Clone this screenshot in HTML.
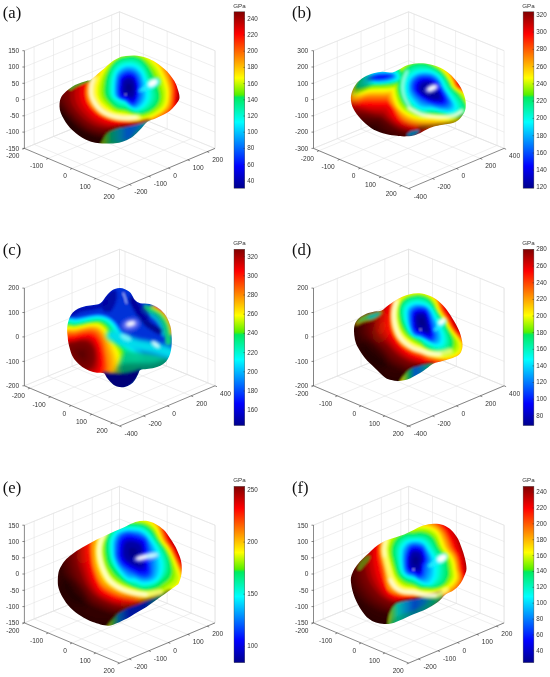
<!DOCTYPE html>
<html lang="en"><head><meta charset="utf-8"><title>Directional Young's modulus surfaces</title>
<style>
html,body{margin:0;padding:0;background:#fff}
svg{display:block}
.sans{font-family:"Liberation Sans",sans-serif}
.serif{font-family:"Liberation Serif",serif}
</style></head><body>
<svg width="550" height="677" viewBox="0 0 550 677">
<defs>
<linearGradient id="jet" x1="0" y1="1" x2="0" y2="0"><stop offset="0" stop-color="#00008c"/><stop offset="0.125" stop-color="#0000ff"/><stop offset="0.375" stop-color="#00ffff"/><stop offset="0.515" stop-color="#00eb5f"/><stop offset="0.53" stop-color="#55f000"/><stop offset="0.625" stop-color="#ffff00"/><stop offset="0.875" stop-color="#ff0000"/><stop offset="1" stop-color="#800000"/></linearGradient>
<filter id="b05" x="-50%" y="-50%" width="200%" height="200%"><feGaussianBlur stdDeviation="0.5"/></filter>
<filter id="b08" x="-50%" y="-50%" width="200%" height="200%"><feGaussianBlur stdDeviation="0.8"/></filter>
<filter id="b12" x="-50%" y="-50%" width="200%" height="200%"><feGaussianBlur stdDeviation="1.2"/></filter>
<filter id="b2" x="-50%" y="-50%" width="200%" height="200%"><feGaussianBlur stdDeviation="2"/></filter>
<filter id="b3" x="-50%" y="-50%" width="200%" height="200%"><feGaussianBlur stdDeviation="3"/></filter>
<filter id="b5" x="-50%" y="-50%" width="200%" height="200%"><feGaussianBlur stdDeviation="5"/></filter>
<clipPath id="ca"><path d="M59.5 106.5C59.4 104.4 59.6 102 60.1 100.1C60.6 98.2 61.6 96.4 62.6 95C63.6 93.6 64.8 92.6 66 91.5C67.2 90.4 68.2 89.6 69.7 88.5C71.2 87.4 73 86 75 85C77 84 79.3 83.2 81.4 82.5C83.5 81.8 86.2 80.9 87.7 80.5C89.2 80.1 89 80.6 90.3 79.9C91.6 79.2 93.7 77.5 95.4 76.1C97.1 74.7 98.6 73.3 100.5 71.6C102.4 69.9 104.7 67.7 106.8 65.9C108.9 64.1 111.1 62.2 113.2 60.8C115.3 59.4 117.4 58.2 119.5 57.4C121.6 56.6 123.4 56.4 125.9 56.1C128.5 55.8 131.5 55.3 134.8 55.5C138.1 55.7 142.4 56.5 145.5 57.4C148.6 58.3 150.6 59.4 153.2 60.8C155.8 62.2 158.5 64.1 160.8 65.9C163.1 67.7 165.3 69.6 167.2 71.6C169.1 73.6 170.8 75.9 172.3 78C173.8 80.1 175.1 82.1 176.1 84.4C177.1 86.7 178 89.9 178.6 92C179.2 94.1 179.5 95.6 179.5 97C179.5 98.4 179.4 99 178.6 100.5C177.8 102 176.3 104.1 174.8 105.8C173.3 107.5 171.6 109.4 169.7 110.9C167.8 112.4 165.5 113.6 163.4 114.7C161.3 115.8 158.9 116.9 157 117.7C155.1 118.5 153.3 119.2 151.9 119.8C150.5 120.4 149.8 120.5 148.7 121.1C147.6 121.7 146.7 122.4 145.5 123.6C144.3 124.8 143.2 126.5 141.7 128.1C140.2 129.7 138.5 131.5 136.6 133.2C134.7 134.9 132.6 136.9 130.3 138.3C128 139.7 125.1 140.9 122.6 141.7C120 142.5 118.4 142.9 115 143.2C111.6 143.5 105.7 143.6 102.1 143.4C98.5 143.2 96 143 93.2 142.3C90.4 141.7 87.8 140.6 85.5 139.5C83.2 138.4 81.3 137.2 79.2 135.7C77.1 134.2 74.7 132.4 72.8 130.6C70.9 128.8 69.2 126.8 67.7 124.9C66.2 123 65.1 121.2 63.9 119.2C62.7 117.2 61.4 114.9 60.7 112.8C60 110.7 59.6 108.6 59.5 106.5Z"/></clipPath>
<clipPath id="cb"><path d="M350.9 99.6C350.7 96.8 351.1 94.1 352.1 91.4C353.1 88.6 354.9 85.5 356.8 83.1C358.8 80.7 361.2 78.8 363.9 77.2C366.7 75.5 370.2 74.1 373.4 73.2C376.5 72.3 379.7 71.9 382.8 71.7C386 71.6 389.7 72.7 392.3 72.5C394.8 72.2 395.8 71.3 398.2 70.1C400.6 68.9 403.5 66.5 406.5 65.4C409.4 64.3 412.8 63.8 415.9 63.5C419.1 63.2 422 63 425.4 63.5C428.7 63.9 432.7 64.9 436 66.1C439.4 67.3 442.5 68.8 445.5 70.8C448.4 72.8 451.2 75.1 453.7 77.9C456.3 80.7 458.9 83.9 460.8 87.4C462.7 90.8 464.3 95 465.1 98.5C465.9 101.9 465.9 105.3 465.6 107.9C465.3 110.6 464.4 112.3 463.2 114.3C462 116.3 460.4 118.5 458.5 120C456.6 121.5 454.4 122.5 451.9 123.3C449.3 124.1 445.7 124.2 443.1 124.7C440.5 125.2 438.6 125.4 436 126.1C433.5 126.8 430.3 127.9 427.7 129C425.2 130.1 423 131.6 420.7 132.7C418.3 133.8 416.3 134.9 413.6 135.6C410.8 136.2 407.3 136.5 404.1 136.5C400.9 136.5 398.2 136.1 394.6 135.6C391.1 135 386.8 134.5 382.8 133.2C378.9 132 374.7 130.5 371 128C367.3 125.6 363.3 121.8 360.4 118.6C357.4 115.3 354.9 111.8 353.3 108.6C351.7 105.5 351.1 102.5 350.9 99.6Z"/></clipPath>
<clipPath id="cc"><path d="M67.7 337C67.5 335.2 67.1 332.6 67.1 330.4C67.1 328.2 67.3 326.1 67.7 324C68.1 321.9 68.8 319.5 69.6 317.6C70.4 315.7 71.4 314 72.8 312.5C74.2 311 76 309.7 77.9 308.7C79.8 307.7 82 307 84.3 306.4C86.6 305.8 89.6 305.5 91.9 305.2C94.2 304.9 96.6 304.9 98.3 304.3C100 303.7 100.8 303 102.1 301.7C103.4 300.4 104.6 298.2 105.9 296.6C107.2 295 108.2 293.5 109.7 292.2C111.2 290.9 113.1 289.7 114.8 289C116.5 288.3 118.2 288.1 119.9 288.1C121.6 288.2 123.2 288.5 125 289.3C126.8 290.1 129 291.2 130.7 293C132.3 294.8 133.3 298.4 134.9 300.1C136.5 301.8 137.7 302.5 140.1 303.2C142.5 303.8 146.4 303.2 149.6 304.1C152.7 305 156.3 306.4 159 308.4C161.8 310.3 164.2 313 166.1 315.9C168 318.9 169.5 322.9 170.4 326.1C171.3 329.3 171.4 332.2 171.6 335C171.8 337.8 171.9 340.1 171.8 342.6C171.7 345.2 171.4 348 171 350.3C170.6 352.6 169.9 354.7 169.1 356.6C168.2 358.5 167.3 360.2 165.9 361.7C164.5 363.2 162.7 364.5 160.8 365.5C158.9 366.5 156.8 367.2 154.5 367.8C152.2 368.4 149.1 368.7 146.8 369.1C144.5 369.5 141.9 369.3 140.5 370C139.1 370.7 139.2 371.8 138.5 373.2C137.8 374.6 136.9 376.7 136 378.3C135.1 379.9 134.2 381.4 132.8 382.7C131.4 384 129.6 385.1 127.7 385.9C125.8 386.6 123.6 387.3 121.4 387.2C119.2 387.1 116.6 386.4 114.7 385.5C112.8 384.6 111.7 383.2 110.3 381.8C108.9 380.4 107.6 378.6 106.5 377.2C105.4 375.8 105.5 374.1 103.9 373.3C102.3 372.6 99.3 373.1 96.9 372.7C94.5 372.3 91.7 371.7 89.3 370.7C86.9 369.7 84.4 368.4 82.3 366.9C80.2 365.4 78.2 363.7 76.5 361.8C74.8 359.9 73.3 357.8 72.1 355.4C70.9 353 70.2 350 69.5 347.6C68.8 345.2 68.4 342.8 68.1 341C67.8 339.2 67.9 338.8 67.7 337Z"/></clipPath>
<clipPath id="cd"><path d="M354 331.1C354 328.5 354.1 326.2 354.9 324C355.8 321.8 357.3 319.8 359.2 318.1C361.1 316.4 363.7 314.9 366.3 313.8C368.8 312.7 372 312 374.6 311.5C377.1 310.9 379.3 311.6 381.6 310.5C384 309.5 386 307.1 388.7 305.1C391.5 303.1 394.8 300.5 398.2 298.7C401.5 296.9 405.3 295.4 408.8 294.5C412.4 293.6 416.1 293.1 419.5 293.3C422.8 293.5 425.8 294.3 428.9 295.6C432.1 296.9 435.4 298.7 438.4 301.1C441.3 303.4 444.1 306.6 446.7 309.8C449.2 313.1 451.6 316.7 453.7 320.5C455.9 324.2 458.2 328.3 459.7 332.3C461.1 336.2 462.3 340.8 462.5 344.1C462.7 347.5 462.1 350.2 460.8 352.4C459.6 354.5 457.5 355.8 454.9 357.1C452.4 358.4 448.2 359.3 445.5 360.2C442.7 361 440.6 361.5 438.5 362.1C436.4 362.7 434.4 363.1 432.7 364C431 364.9 429.9 366 428.3 367.2C426.7 368.4 425.1 369.7 423.2 371C421.3 372.3 418.9 373.6 416.8 374.8C414.7 376 412.6 377.4 410.5 378.3C408.4 379.2 406.2 379.9 404.1 380.3C402 380.7 399.8 381 397.7 380.9C395.6 380.8 393.5 380.5 391.4 379.9C389.3 379.3 387.8 379.4 385 377.4C382.2 375.4 377.9 370.9 374.6 367.7C371.2 364.6 367.9 361.6 365.1 358.3C362.3 354.9 359.7 350.8 358 347.6C356.3 344.5 355.6 342.1 354.9 339.4C354.3 336.6 354 333.7 354 331.1Z"/></clipPath>
<clipPath id="ce"><path d="M57.8 580.6C57.8 578.1 58 574.9 58.5 572.4C59.1 569.9 60.1 568 61.4 565.8C62.7 563.5 64.2 561.3 66.3 559.1C68.5 556.9 71.3 554.7 74.4 552.5C77.5 550.3 81.3 548.3 85 546.1C88.8 544 92.7 541.6 96.8 539.5C101 537.4 105.5 535.3 109.8 533.4C114.2 531.4 118.8 529.6 123.1 527.7C127.3 525.8 131.6 523.2 135.4 522C139.2 520.9 142.7 520.5 146 520.8C149.4 521.2 152.5 522.4 155.5 523.9C158.4 525.4 161.2 527.3 163.7 529.8C166.3 532.4 168.6 535.9 170.8 539.3C173 542.6 175.3 546.2 177 549.9C178.7 553.7 180.5 557.8 181.2 561.7C182 565.7 181.9 570 181.5 573.6C181.1 577.1 179.8 580.9 178.9 583C177.9 585.1 177.2 584.8 175.7 586C174.2 587.2 171.9 588.7 169.6 590.4C167.3 592.1 164.4 594.1 161.8 596C159.2 597.9 156.7 599.8 154.1 601.6C151.5 603.4 149 605.3 146.4 607C143.8 608.7 141.2 610.1 138.6 611.6C136 613.1 133.5 614.8 130.9 616.2C128.3 617.7 125.8 619 123.2 620.3C120.6 621.6 118.1 622.9 115.5 623.8C112.9 624.7 111.5 626.1 107.7 625.8C103.9 625.5 97.3 623.6 92.8 622C88.4 620.4 84.7 618.5 81 616.1C77.3 613.7 73.4 611 70.4 607.8C67.3 604.7 64.5 600.5 62.6 597.2C60.6 593.8 59.3 590.5 58.5 587.7C57.8 585 57.8 583.2 57.8 580.6Z"/></clipPath>
<clipPath id="cf"><path d="M351.1 577.1C351.7 574.6 353 571.4 354.5 568.8C355.9 566.3 357.8 563.9 359.7 561.7C361.5 559.6 363.8 557.7 365.8 555.8C367.8 553.9 369.5 552.2 371.5 550.4C373.4 548.6 375.3 546.8 377.6 545.2C380 543.5 382.7 541.8 385.7 540.5C388.6 539.2 392 538.4 395.1 537.4C398.2 536.4 401 535.8 404.1 534.5C407.2 533.3 410.4 531.6 413.6 530.1C416.7 528.6 419.7 526.6 423 525.6C426.4 524.5 430.3 523.8 433.7 523.7C437 523.6 440.2 524 443.1 525.1C446.1 526.2 449 528.1 451.4 530.3C453.8 532.5 455.8 535.2 457.5 538.1C459.2 541 460.3 544.2 461.5 547.6C462.8 550.9 464 554.6 464.9 558.2C465.7 561.7 466.6 565.8 466.5 568.8C466.4 571.9 465.1 574.1 464.1 576.5C463.1 578.9 462.1 581.2 460.8 583.1C459.5 585 457.8 586.6 456.4 588C454.9 589.4 453.6 590.4 452.1 591.3C450.7 592.2 449 592.5 447.7 593.2C446.4 593.9 445.5 594.7 444.4 595.6C443.3 596.5 442.5 597.7 441.2 598.9C439.9 600.1 438.4 601.5 436.8 602.7C435.2 603.9 433.2 605.2 431.4 606.3C429.6 607.4 427.7 608.4 425.9 609.3C424.1 610.2 422.5 610.8 420.5 611.6C418.5 612.4 416.4 613.2 414.1 614.1C411.8 615 409.2 616.1 406.8 617.2C404.4 618.3 401.9 619.5 399.5 620.5C397.1 621.5 394.9 622.6 392.3 623.2C389.7 623.8 386.8 624.2 384.1 624.1C381.4 624 378.5 623.5 375.9 622.6C373.3 621.7 370.9 620.5 368.6 618.6C366.3 616.7 364.3 614.1 362.3 611.4C360.3 608.7 358.3 605.3 356.8 602.3C355.3 599.3 354.1 596.2 353.2 593.2C352.3 590.2 351.5 586.8 351.2 584.1C350.9 581.4 350.6 579.6 351.1 577.1Z"/></clipPath>
<linearGradient id="ga" gradientUnits="userSpaceOnUse" x1="101" y1="0" x2="150" y2="0"><stop offset="0" stop-color="#6a7800"/><stop offset="0.1" stop-color="#3a9020"/><stop offset="0.22" stop-color="#008860"/><stop offset="0.38" stop-color="#007898"/><stop offset="0.55" stop-color="#0050c0"/><stop offset="0.72" stop-color="#0060b8"/><stop offset="0.88" stop-color="#008a98"/><stop offset="1" stop-color="#10a060"/></linearGradient>
<linearGradient id="gd" gradientUnits="userSpaceOnUse" x1="401" y1="0" x2="434" y2="0"><stop offset="0" stop-color="#c8b000"/><stop offset="0.12" stop-color="#70b820"/><stop offset="0.26" stop-color="#009860"/><stop offset="0.42" stop-color="#0058c0"/><stop offset="0.58" stop-color="#0068b0"/><stop offset="0.78" stop-color="#009080"/><stop offset="1" stop-color="#40a840"/></linearGradient>
<linearGradient id="ge" gradientUnits="userSpaceOnUse" x1="108" y1="0" x2="170" y2="0"><stop offset="0" stop-color="#909000"/><stop offset="0.08" stop-color="#308828"/><stop offset="0.18" stop-color="#005898"/><stop offset="0.34" stop-color="#0018a0"/><stop offset="0.6" stop-color="#001898"/><stop offset="0.74" stop-color="#005878"/><stop offset="0.86" stop-color="#308030"/><stop offset="1" stop-color="#a09800"/></linearGradient>
<linearGradient id="gf" gradientUnits="userSpaceOnUse" x1="387" y1="0" x2="442" y2="0"><stop offset="0" stop-color="#b0a000"/><stop offset="0.08" stop-color="#58b030"/><stop offset="0.2" stop-color="#00b8a8"/><stop offset="0.36" stop-color="#0080c0"/><stop offset="0.5" stop-color="#0048c0"/><stop offset="0.68" stop-color="#0068a8"/><stop offset="0.85" stop-color="#009070"/><stop offset="1" stop-color="#60a030"/></linearGradient>
</defs>
<rect width="550" height="677" fill="#fff"/>
<g><path d="M24.4 50.7L119.5 11.8L215 50.7M24.4 67L119.5 28.1L215 67M24.4 83.3L119.5 44.4L215 83.3M24.4 99.6L119.5 60.7L215 99.6M24.4 115.8L119.5 76.9L215 115.8M24.4 132.1L119.5 93.2L215 132.1M24.4 148.4L119.5 109.5L215 148.4M24.4 148.4L119.5 109.5L119.5 11.8M48.2 158.4L143.4 119.2L143.4 21.5M72 168.5L167.2 129L167.2 31.3M95.8 178.6L191.1 138.7L191.1 41M119.6 188.6L215 148.4L215 50.7M129.3 184.5L34.1 144.4L34.1 46.7M148.8 176.3L53.5 136.5L53.5 38.8M168.3 168.1L72.9 128.6L72.9 30.9M187.7 159.9L92.3 120.6L92.3 22.9M207.2 151.7L111.7 112.7L111.7 15M24.4 50.7L119.5 11.8L215 50.7L215 148.4M119.5 109.5L119.5 11.8M24.4 148.4L119.5 109.5L215 148.4" fill="none" stroke="#e2e2e2" stroke-width="0.55"/>
<text x="19.2" y="53" text-anchor="end" font-size="6.6" class="sans" fill="#333">150</text>
<text x="19.2" y="69.3" text-anchor="end" font-size="6.6" class="sans" fill="#333">100</text>
<text x="19.2" y="85.6" text-anchor="end" font-size="6.6" class="sans" fill="#333">50</text>
<text x="19.2" y="101.9" text-anchor="end" font-size="6.6" class="sans" fill="#333">0</text>
<text x="19.2" y="118.1" text-anchor="end" font-size="6.6" class="sans" fill="#333">-50</text>
<text x="19.2" y="134.4" text-anchor="end" font-size="6.6" class="sans" fill="#333">-100</text>
<text x="19.2" y="150.7" text-anchor="end" font-size="6.6" class="sans" fill="#333">-150</text>
<text x="19.4" y="158.3" text-anchor="end" font-size="6.6" class="sans" fill="#333">-200</text>
<text x="43.2" y="168.3" text-anchor="end" font-size="6.6" class="sans" fill="#333">-100</text>
<text x="67" y="178.4" text-anchor="end" font-size="6.6" class="sans" fill="#333">0</text>
<text x="90.8" y="188.5" text-anchor="end" font-size="6.6" class="sans" fill="#333">100</text>
<text x="114.6" y="198.5" text-anchor="end" font-size="6.6" class="sans" fill="#333">200</text>
<text x="134.3" y="194.4" text-anchor="start" font-size="6.6" class="sans" fill="#333">-200</text>
<text x="153.8" y="186.2" text-anchor="start" font-size="6.6" class="sans" fill="#333">-100</text>
<text x="173.3" y="178" text-anchor="start" font-size="6.6" class="sans" fill="#333">0</text>
<text x="192.7" y="169.8" text-anchor="start" font-size="6.6" class="sans" fill="#333">100</text>
<text x="212.2" y="161.6" text-anchor="start" font-size="6.6" class="sans" fill="#333">200</text>
<path d="M24.4 50.7L24.4 148.4L119.6 188.6L215 148.4M24.4 50.7L22.4 50.7M24.4 67L22.4 67M24.4 83.3L22.4 83.3M24.4 99.6L22.4 99.6M24.4 115.8L22.4 115.8M24.4 132.1L22.4 132.1M24.4 148.4L22.4 148.4M24.4 148.4L22.4 149.3M48.2 158.4L46.2 159.3M72 168.5L70 169.4M95.8 178.6L93.8 179.4M119.6 188.6L117.6 189.5M129.3 184.5L131.4 185.4M148.8 176.3L150.8 177.1M168.3 168.1L170.3 168.9M187.7 159.9L189.8 160.7M207.2 151.7L209.2 152.5" fill="none" stroke="#3a3a3a" stroke-width="0.6"/>
<text x="2.8" y="18" text-anchor="start" font-size="16.6" class="serif" fill="#111">(a)</text>
<rect x="234" y="11.8" width="10.8" height="176.4" fill="url(#jet)" stroke="#444" stroke-width="0.4"/>
<text x="239.4" y="7.9" text-anchor="middle" font-size="6.2" class="sans" fill="#333">GPa</text>
<text x="247.2" y="20.7" text-anchor="start" font-size="6.3" class="sans" fill="#333">240</text>
<text x="247.2" y="36.9" text-anchor="start" font-size="6.3" class="sans" fill="#333">220</text>
<text x="247.2" y="53.1" text-anchor="start" font-size="6.3" class="sans" fill="#333">200</text>
<text x="247.2" y="69.3" text-anchor="start" font-size="6.3" class="sans" fill="#333">180</text>
<text x="247.2" y="85.5" text-anchor="start" font-size="6.3" class="sans" fill="#333">160</text>
<text x="247.2" y="101.7" text-anchor="start" font-size="6.3" class="sans" fill="#333">140</text>
<text x="247.2" y="117.9" text-anchor="start" font-size="6.3" class="sans" fill="#333">120</text>
<text x="247.2" y="134.1" text-anchor="start" font-size="6.3" class="sans" fill="#333">100</text>
<text x="247.2" y="150.3" text-anchor="start" font-size="6.3" class="sans" fill="#333">80</text>
<text x="247.2" y="166.5" text-anchor="start" font-size="6.3" class="sans" fill="#333">60</text>
<text x="247.2" y="182.7" text-anchor="start" font-size="6.3" class="sans" fill="#333">40</text>
<path d="M243.4 18.8L244.8 18.8M243.4 35L244.8 35M243.4 51.2L244.8 51.2M243.4 67.4L244.8 67.4M243.4 83.6L244.8 83.6M243.4 99.8L244.8 99.8M243.4 116L244.8 116M243.4 132.2L244.8 132.2M243.4 148.4L244.8 148.4M243.4 164.6L244.8 164.6M243.4 180.8L244.8 180.8" stroke="#333" stroke-width="0.5"/></g>
<g><path d="M313.5 50.7L408.6 11.8L504.1 50.7M313.5 67L408.6 28.1L504.1 67M313.5 83.3L408.6 44.4L504.1 83.3M313.5 99.6L408.6 60.7L504.1 99.6M313.5 115.8L408.6 76.9L504.1 115.8M313.5 132.1L408.6 93.2L504.1 132.1M313.5 148.4L408.6 109.5L504.1 148.4M319 150.7L414.1 111.7L414.1 14M339.7 159.4L434.8 120.2L434.8 22.5M360.3 168.2L455.6 128.6L455.6 30.9M381 176.9L476.3 137.1L476.3 39.4M401.7 185.6L497 145.5L497 47.8M408.7 188.6L313.5 148.4L313.5 50.7M432.6 178.6L337.3 138.7L337.3 41M456.4 168.5L361 129L361 31.3M480.2 158.4L384.8 119.2L384.8 21.5M504.1 148.4L408.6 109.5L408.6 11.8M313.5 50.7L408.6 11.8L504.1 50.7L504.1 148.4M408.6 109.5L408.6 11.8M313.5 148.4L408.6 109.5L504.1 148.4" fill="none" stroke="#e2e2e2" stroke-width="0.55"/>
<text x="308.3" y="53" text-anchor="end" font-size="6.6" class="sans" fill="#333">300</text>
<text x="308.3" y="69.3" text-anchor="end" font-size="6.6" class="sans" fill="#333">200</text>
<text x="308.3" y="85.6" text-anchor="end" font-size="6.6" class="sans" fill="#333">100</text>
<text x="308.3" y="101.9" text-anchor="end" font-size="6.6" class="sans" fill="#333">0</text>
<text x="308.3" y="118.1" text-anchor="end" font-size="6.6" class="sans" fill="#333">-100</text>
<text x="308.3" y="134.4" text-anchor="end" font-size="6.6" class="sans" fill="#333">-200</text>
<text x="308.3" y="150.7" text-anchor="end" font-size="6.6" class="sans" fill="#333">-300</text>
<text x="314" y="160.6" text-anchor="end" font-size="6.6" class="sans" fill="#333">-200</text>
<text x="334.7" y="169.3" text-anchor="end" font-size="6.6" class="sans" fill="#333">-100</text>
<text x="355.3" y="178.1" text-anchor="end" font-size="6.6" class="sans" fill="#333">0</text>
<text x="376" y="186.8" text-anchor="end" font-size="6.6" class="sans" fill="#333">100</text>
<text x="396.7" y="195.5" text-anchor="end" font-size="6.6" class="sans" fill="#333">200</text>
<text x="413.7" y="198.5" text-anchor="start" font-size="6.6" class="sans" fill="#333">-400</text>
<text x="437.6" y="188.5" text-anchor="start" font-size="6.6" class="sans" fill="#333">-200</text>
<text x="461.4" y="178.4" text-anchor="start" font-size="6.6" class="sans" fill="#333">0</text>
<text x="485.2" y="168.3" text-anchor="start" font-size="6.6" class="sans" fill="#333">200</text>
<text x="509.1" y="158.3" text-anchor="start" font-size="6.6" class="sans" fill="#333">400</text>
<path d="M313.5 50.7L313.5 148.4L408.7 188.6L504.1 148.4M313.5 50.7L311.5 50.7M313.5 67L311.5 67M313.5 83.3L311.5 83.3M313.5 99.6L311.5 99.6M313.5 115.8L311.5 115.8M313.5 132.1L311.5 132.1M313.5 148.4L311.5 148.4M319 150.7L317 151.6M339.7 159.4L337.6 160.3M360.3 168.2L358.3 169M381 176.9L379 177.8M401.7 185.6L399.6 186.5M408.7 188.6L410.7 189.5M432.6 178.6L434.6 179.4M456.4 168.5L458.4 169.4M480.2 158.4L482.3 159.3M504.1 148.4L506.1 149.3" fill="none" stroke="#3a3a3a" stroke-width="0.6"/>
<text x="292" y="18" text-anchor="start" font-size="16.6" class="serif" fill="#111">(b)</text>
<rect x="523.1" y="11.8" width="10.8" height="176.4" fill="url(#jet)" stroke="#444" stroke-width="0.4"/>
<text x="528.5" y="7.9" text-anchor="middle" font-size="6.2" class="sans" fill="#333">GPa</text>
<text x="536.3" y="16.7" text-anchor="start" font-size="6.3" class="sans" fill="#333">320</text>
<text x="536.3" y="34" text-anchor="start" font-size="6.3" class="sans" fill="#333">300</text>
<text x="536.3" y="51.2" text-anchor="start" font-size="6.3" class="sans" fill="#333">280</text>
<text x="536.3" y="68.5" text-anchor="start" font-size="6.3" class="sans" fill="#333">260</text>
<text x="536.3" y="85.8" text-anchor="start" font-size="6.3" class="sans" fill="#333">240</text>
<text x="536.3" y="103" text-anchor="start" font-size="6.3" class="sans" fill="#333">220</text>
<text x="536.3" y="120.3" text-anchor="start" font-size="6.3" class="sans" fill="#333">200</text>
<text x="536.3" y="137.6" text-anchor="start" font-size="6.3" class="sans" fill="#333">180</text>
<text x="536.3" y="154.9" text-anchor="start" font-size="6.3" class="sans" fill="#333">160</text>
<text x="536.3" y="172.1" text-anchor="start" font-size="6.3" class="sans" fill="#333">140</text>
<text x="536.3" y="189.4" text-anchor="start" font-size="6.3" class="sans" fill="#333">120</text>
<path d="M532.5 14.8L533.9 14.8M532.5 32.1L533.9 32.1M532.5 49.3L533.9 49.3M532.5 66.6L533.9 66.6M532.5 83.9L533.9 83.9M532.5 101.1L533.9 101.1M532.5 118.4L533.9 118.4M532.5 135.7L533.9 135.7M532.5 153L533.9 153M532.5 170.2L533.9 170.2M532.5 187.5L533.9 187.5" stroke="#333" stroke-width="0.5"/></g>
<g><path d="M24.4 288.1L119.5 249.2L215 288.1M24.4 312.5L119.5 273.6L215 312.5M24.4 336.9L119.5 298.1L215 336.9M24.4 361.4L119.5 322.5L215 361.4M24.4 385.8L119.5 346.9L215 385.8M29.9 388.1L125 349.1L125 251.4M50.6 396.8L145.7 357.6L145.7 259.9M71.2 405.6L166.5 366L166.5 268.3M91.9 414.3L187.2 374.5L187.2 276.8M112.6 423L207.9 382.9L207.9 285.2M119.6 426L24.4 385.8L24.4 288.1M143.4 415.9L48.2 376.1L48.2 278.4M167.3 405.9L72 366.4L72 268.7M191.2 395.9L95.7 356.6L95.7 258.9M215 385.8L119.5 346.9L119.5 249.2M24.4 288.1L119.5 249.2L215 288.1L215 385.8M119.5 346.9L119.5 249.2M24.4 385.8L119.5 346.9L215 385.8" fill="none" stroke="#e2e2e2" stroke-width="0.55"/>
<text x="19.2" y="290.4" text-anchor="end" font-size="6.6" class="sans" fill="#333">200</text>
<text x="19.2" y="314.8" text-anchor="end" font-size="6.6" class="sans" fill="#333">100</text>
<text x="19.2" y="339.2" text-anchor="end" font-size="6.6" class="sans" fill="#333">0</text>
<text x="19.2" y="363.7" text-anchor="end" font-size="6.6" class="sans" fill="#333">-100</text>
<text x="19.2" y="388.1" text-anchor="end" font-size="6.6" class="sans" fill="#333">-200</text>
<text x="24.9" y="398" text-anchor="end" font-size="6.6" class="sans" fill="#333">-200</text>
<text x="45.6" y="406.7" text-anchor="end" font-size="6.6" class="sans" fill="#333">-100</text>
<text x="66.2" y="415.5" text-anchor="end" font-size="6.6" class="sans" fill="#333">0</text>
<text x="86.9" y="424.2" text-anchor="end" font-size="6.6" class="sans" fill="#333">100</text>
<text x="107.6" y="432.9" text-anchor="end" font-size="6.6" class="sans" fill="#333">200</text>
<text x="124.6" y="435.9" text-anchor="start" font-size="6.6" class="sans" fill="#333">-400</text>
<text x="148.4" y="425.8" text-anchor="start" font-size="6.6" class="sans" fill="#333">-200</text>
<text x="172.3" y="415.8" text-anchor="start" font-size="6.6" class="sans" fill="#333">0</text>
<text x="196.2" y="405.8" text-anchor="start" font-size="6.6" class="sans" fill="#333">200</text>
<text x="220" y="395.7" text-anchor="start" font-size="6.6" class="sans" fill="#333">400</text>
<path d="M24.4 288.1L24.4 385.8L119.6 426L215 385.8M24.4 288.1L22.4 288.1M24.4 312.5L22.4 312.5M24.4 336.9L22.4 336.9M24.4 361.4L22.4 361.4M24.4 385.8L22.4 385.8M29.9 388.1L27.9 389M50.6 396.8L48.5 397.7M71.2 405.6L69.2 406.4M91.9 414.3L89.9 415.2M112.6 423L110.5 423.9M119.6 426L121.6 426.9M143.4 415.9L145.5 416.8M167.3 405.9L169.3 406.8M191.2 395.9L193.2 396.7M215 385.8L217 386.7" fill="none" stroke="#3a3a3a" stroke-width="0.6"/>
<text x="2.8" y="255.4" text-anchor="start" font-size="16.6" class="serif" fill="#111">(c)</text>
<rect x="234" y="249.2" width="10.8" height="176.4" fill="url(#jet)" stroke="#444" stroke-width="0.4"/>
<text x="239.4" y="245.3" text-anchor="middle" font-size="6.2" class="sans" fill="#333">GPa</text>
<text x="247.2" y="258.5" text-anchor="start" font-size="6.3" class="sans" fill="#333">320</text>
<text x="247.2" y="277.7" text-anchor="start" font-size="6.3" class="sans" fill="#333">300</text>
<text x="247.2" y="296.9" text-anchor="start" font-size="6.3" class="sans" fill="#333">280</text>
<text x="247.2" y="316.1" text-anchor="start" font-size="6.3" class="sans" fill="#333">260</text>
<text x="247.2" y="335.3" text-anchor="start" font-size="6.3" class="sans" fill="#333">240</text>
<text x="247.2" y="354.5" text-anchor="start" font-size="6.3" class="sans" fill="#333">220</text>
<text x="247.2" y="373.7" text-anchor="start" font-size="6.3" class="sans" fill="#333">200</text>
<text x="247.2" y="392.9" text-anchor="start" font-size="6.3" class="sans" fill="#333">180</text>
<text x="247.2" y="412.1" text-anchor="start" font-size="6.3" class="sans" fill="#333">160</text>
<path d="M243.4 256.6L244.8 256.6M243.4 275.8L244.8 275.8M243.4 295L244.8 295M243.4 314.2L244.8 314.2M243.4 333.4L244.8 333.4M243.4 352.6L244.8 352.6M243.4 371.8L244.8 371.8M243.4 391L244.8 391M243.4 410.2L244.8 410.2" stroke="#333" stroke-width="0.5"/></g>
<g><path d="M313.5 288.1L408.6 249.2L504.1 288.1M313.5 312.5L408.6 273.6L504.1 312.5M313.5 336.9L408.6 298.1L504.1 336.9M313.5 361.4L408.6 322.5L504.1 361.4M313.5 385.8L408.6 346.9L504.1 385.8M313.5 385.8L408.6 346.9L408.6 249.2M337.3 395.9L432.5 356.6L432.5 258.9M361.1 405.9L456.4 366.4L456.4 268.7M384.9 415.9L480.2 376.1L480.2 278.4M408.7 426L504.1 385.8L504.1 288.1M408.7 426L313.5 385.8L313.5 288.1M432.6 415.9L337.3 376.1L337.3 278.4M456.4 405.9L361 366.4L361 268.7M480.2 395.9L384.8 356.6L384.8 258.9M504.1 385.8L408.6 346.9L408.6 249.2M313.5 288.1L408.6 249.2L504.1 288.1L504.1 385.8M408.6 346.9L408.6 249.2M313.5 385.8L408.6 346.9L504.1 385.8" fill="none" stroke="#e2e2e2" stroke-width="0.55"/>
<text x="308.3" y="290.4" text-anchor="end" font-size="6.6" class="sans" fill="#333">200</text>
<text x="308.3" y="314.8" text-anchor="end" font-size="6.6" class="sans" fill="#333">100</text>
<text x="308.3" y="339.2" text-anchor="end" font-size="6.6" class="sans" fill="#333">0</text>
<text x="308.3" y="363.7" text-anchor="end" font-size="6.6" class="sans" fill="#333">-100</text>
<text x="308.3" y="388.1" text-anchor="end" font-size="6.6" class="sans" fill="#333">-200</text>
<text x="308.5" y="395.7" text-anchor="end" font-size="6.6" class="sans" fill="#333">-200</text>
<text x="332.3" y="405.8" text-anchor="end" font-size="6.6" class="sans" fill="#333">-100</text>
<text x="356.1" y="415.8" text-anchor="end" font-size="6.6" class="sans" fill="#333">0</text>
<text x="379.9" y="425.8" text-anchor="end" font-size="6.6" class="sans" fill="#333">100</text>
<text x="403.7" y="435.9" text-anchor="end" font-size="6.6" class="sans" fill="#333">200</text>
<text x="413.7" y="435.9" text-anchor="start" font-size="6.6" class="sans" fill="#333">-400</text>
<text x="437.6" y="425.8" text-anchor="start" font-size="6.6" class="sans" fill="#333">-200</text>
<text x="461.4" y="415.8" text-anchor="start" font-size="6.6" class="sans" fill="#333">0</text>
<text x="485.2" y="405.8" text-anchor="start" font-size="6.6" class="sans" fill="#333">200</text>
<text x="509.1" y="395.7" text-anchor="start" font-size="6.6" class="sans" fill="#333">400</text>
<path d="M313.5 288.1L313.5 385.8L408.7 426L504.1 385.8M313.5 288.1L311.5 288.1M313.5 312.5L311.5 312.5M313.5 336.9L311.5 336.9M313.5 361.4L311.5 361.4M313.5 385.8L311.5 385.8M313.5 385.8L311.5 386.7M337.3 395.9L335.3 396.7M361.1 405.9L359.1 406.8M384.9 415.9L382.9 416.8M408.7 426L406.7 426.9M408.7 426L410.7 426.9M432.6 415.9L434.6 416.8M456.4 405.9L458.4 406.8M480.2 395.9L482.3 396.7M504.1 385.8L506.1 386.7" fill="none" stroke="#3a3a3a" stroke-width="0.6"/>
<text x="292" y="255.4" text-anchor="start" font-size="16.6" class="serif" fill="#111">(d)</text>
<rect x="523.1" y="249.2" width="10.8" height="176.4" fill="url(#jet)" stroke="#444" stroke-width="0.4"/>
<text x="528.5" y="245.3" text-anchor="middle" font-size="6.2" class="sans" fill="#333">GPa</text>
<text x="536.3" y="251.4" text-anchor="start" font-size="6.3" class="sans" fill="#333">280</text>
<text x="536.3" y="268" text-anchor="start" font-size="6.3" class="sans" fill="#333">260</text>
<text x="536.3" y="284.7" text-anchor="start" font-size="6.3" class="sans" fill="#333">240</text>
<text x="536.3" y="301.3" text-anchor="start" font-size="6.3" class="sans" fill="#333">220</text>
<text x="536.3" y="317.9" text-anchor="start" font-size="6.3" class="sans" fill="#333">200</text>
<text x="536.3" y="334.5" text-anchor="start" font-size="6.3" class="sans" fill="#333">180</text>
<text x="536.3" y="351.2" text-anchor="start" font-size="6.3" class="sans" fill="#333">160</text>
<text x="536.3" y="367.8" text-anchor="start" font-size="6.3" class="sans" fill="#333">140</text>
<text x="536.3" y="384.4" text-anchor="start" font-size="6.3" class="sans" fill="#333">120</text>
<text x="536.3" y="401.1" text-anchor="start" font-size="6.3" class="sans" fill="#333">100</text>
<text x="536.3" y="417.7" text-anchor="start" font-size="6.3" class="sans" fill="#333">80</text>
<path d="M532.5 249.5L533.9 249.5M532.5 266.1L533.9 266.1M532.5 282.8L533.9 282.8M532.5 299.4L533.9 299.4M532.5 316L533.9 316M532.5 332.6L533.9 332.6M532.5 349.3L533.9 349.3M532.5 365.9L533.9 365.9M532.5 382.5L533.9 382.5M532.5 399.2L533.9 399.2M532.5 415.8L533.9 415.8" stroke="#333" stroke-width="0.5"/></g>
<g><path d="M24.4 525.2L119.5 486.3L215 525.2M24.4 541.5L119.5 502.6L215 541.5M24.4 557.8L119.5 518.9L215 557.8M24.4 574L119.5 535.1L215 574M24.4 590.3L119.5 551.4L215 590.3M24.4 606.6L119.5 567.7L215 606.6M24.4 622.9L119.5 584L215 622.9M24.4 622.9L119.5 584L119.5 486.3M48.2 633L143.4 593.7L143.4 496M72 643L167.2 603.4L167.2 505.7M95.8 653L191.1 613.2L191.1 515.5M119.6 663.1L215 622.9L215 525.2M129.3 659L34.1 618.9L34.1 521.2M148.8 650.8L53.5 611L53.5 513.3M168.3 642.6L72.9 603.1L72.9 505.4M187.7 634.4L92.3 595.1L92.3 497.4M207.2 626.2L111.7 587.2L111.7 489.5M24.4 525.2L119.5 486.3L215 525.2L215 622.9M119.5 584L119.5 486.3M24.4 622.9L119.5 584L215 622.9" fill="none" stroke="#e2e2e2" stroke-width="0.55"/>
<text x="19.2" y="527.5" text-anchor="end" font-size="6.6" class="sans" fill="#333">150</text>
<text x="19.2" y="543.8" text-anchor="end" font-size="6.6" class="sans" fill="#333">100</text>
<text x="19.2" y="560.1" text-anchor="end" font-size="6.6" class="sans" fill="#333">50</text>
<text x="19.2" y="576.3" text-anchor="end" font-size="6.6" class="sans" fill="#333">0</text>
<text x="19.2" y="592.6" text-anchor="end" font-size="6.6" class="sans" fill="#333">-50</text>
<text x="19.2" y="608.9" text-anchor="end" font-size="6.6" class="sans" fill="#333">-100</text>
<text x="19.2" y="625.2" text-anchor="end" font-size="6.6" class="sans" fill="#333">-150</text>
<text x="19.4" y="632.8" text-anchor="end" font-size="6.6" class="sans" fill="#333">-200</text>
<text x="43.2" y="642.9" text-anchor="end" font-size="6.6" class="sans" fill="#333">-100</text>
<text x="67" y="652.9" text-anchor="end" font-size="6.6" class="sans" fill="#333">0</text>
<text x="90.8" y="662.9" text-anchor="end" font-size="6.6" class="sans" fill="#333">100</text>
<text x="114.6" y="673" text-anchor="end" font-size="6.6" class="sans" fill="#333">200</text>
<text x="134.3" y="668.9" text-anchor="start" font-size="6.6" class="sans" fill="#333">-200</text>
<text x="153.8" y="660.7" text-anchor="start" font-size="6.6" class="sans" fill="#333">-100</text>
<text x="173.3" y="652.5" text-anchor="start" font-size="6.6" class="sans" fill="#333">0</text>
<text x="192.7" y="644.3" text-anchor="start" font-size="6.6" class="sans" fill="#333">100</text>
<text x="212.2" y="636.1" text-anchor="start" font-size="6.6" class="sans" fill="#333">200</text>
<path d="M24.4 525.2L24.4 622.9L119.6 663.1L215 622.9M24.4 525.2L22.4 525.2M24.4 541.5L22.4 541.5M24.4 557.8L22.4 557.8M24.4 574L22.4 574M24.4 590.3L22.4 590.3M24.4 606.6L22.4 606.6M24.4 622.9L22.4 622.9M24.4 622.9L22.4 623.8M48.2 633L46.2 633.8M72 643L70 643.9M95.8 653L93.8 653.9M119.6 663.1L117.6 664M129.3 659L131.4 659.9M148.8 650.8L150.8 651.6M168.3 642.6L170.3 643.4M187.7 634.4L189.8 635.2M207.2 626.2L209.2 627" fill="none" stroke="#3a3a3a" stroke-width="0.6"/>
<text x="2.8" y="492.5" text-anchor="start" font-size="16.6" class="serif" fill="#111">(e)</text>
<rect x="234" y="486.3" width="10.8" height="176.4" fill="url(#jet)" stroke="#444" stroke-width="0.4"/>
<text x="239.4" y="482.4" text-anchor="middle" font-size="6.2" class="sans" fill="#333">GPa</text>
<text x="247.2" y="491.9" text-anchor="start" font-size="6.3" class="sans" fill="#333">250</text>
<text x="247.2" y="544" text-anchor="start" font-size="6.3" class="sans" fill="#333">200</text>
<text x="247.2" y="596.1" text-anchor="start" font-size="6.3" class="sans" fill="#333">150</text>
<text x="247.2" y="648.2" text-anchor="start" font-size="6.3" class="sans" fill="#333">100</text>
<path d="M243.4 490L244.8 490M243.4 542.1L244.8 542.1M243.4 594.2L244.8 594.2M243.4 646.3L244.8 646.3" stroke="#333" stroke-width="0.5"/></g>
<g><path d="M313.5 525.2L408.6 486.3L504.1 525.2M313.5 541.5L408.6 502.6L504.1 541.5M313.5 557.8L408.6 518.9L504.1 557.8M313.5 574L408.6 535.1L504.1 574M313.5 590.3L408.6 551.4L504.1 590.3M313.5 606.6L408.6 567.7L504.1 606.6M313.5 622.9L408.6 584L504.1 622.9M313.5 622.9L408.6 584L408.6 486.3M337.3 633L432.5 593.7L432.5 496M361.1 643L456.4 603.4L456.4 505.7M384.9 653L480.2 613.2L480.2 515.5M408.7 663.1L504.1 622.9L504.1 525.2M418.4 659L323.2 618.9L323.2 521.2M437.9 650.8L342.6 611L342.6 513.3M457.4 642.6L362 603.1L362 505.4M476.8 634.4L381.4 595.1L381.4 497.4M496.3 626.2L400.8 587.2L400.8 489.5M313.5 525.2L408.6 486.3L504.1 525.2L504.1 622.9M408.6 584L408.6 486.3M313.5 622.9L408.6 584L504.1 622.9" fill="none" stroke="#e2e2e2" stroke-width="0.55"/>
<text x="308.3" y="527.5" text-anchor="end" font-size="6.6" class="sans" fill="#333">150</text>
<text x="308.3" y="543.8" text-anchor="end" font-size="6.6" class="sans" fill="#333">100</text>
<text x="308.3" y="560.1" text-anchor="end" font-size="6.6" class="sans" fill="#333">50</text>
<text x="308.3" y="576.3" text-anchor="end" font-size="6.6" class="sans" fill="#333">0</text>
<text x="308.3" y="592.6" text-anchor="end" font-size="6.6" class="sans" fill="#333">-50</text>
<text x="308.3" y="608.9" text-anchor="end" font-size="6.6" class="sans" fill="#333">-100</text>
<text x="308.3" y="625.2" text-anchor="end" font-size="6.6" class="sans" fill="#333">-150</text>
<text x="308.5" y="632.8" text-anchor="end" font-size="6.6" class="sans" fill="#333">-200</text>
<text x="332.3" y="642.9" text-anchor="end" font-size="6.6" class="sans" fill="#333">-100</text>
<text x="356.1" y="652.9" text-anchor="end" font-size="6.6" class="sans" fill="#333">0</text>
<text x="379.9" y="662.9" text-anchor="end" font-size="6.6" class="sans" fill="#333">100</text>
<text x="403.7" y="673" text-anchor="end" font-size="6.6" class="sans" fill="#333">200</text>
<text x="423.4" y="668.9" text-anchor="start" font-size="6.6" class="sans" fill="#333">-200</text>
<text x="442.9" y="660.7" text-anchor="start" font-size="6.6" class="sans" fill="#333">-100</text>
<text x="462.4" y="652.5" text-anchor="start" font-size="6.6" class="sans" fill="#333">0</text>
<text x="481.8" y="644.3" text-anchor="start" font-size="6.6" class="sans" fill="#333">100</text>
<text x="501.3" y="636.1" text-anchor="start" font-size="6.6" class="sans" fill="#333">200</text>
<path d="M313.5 525.2L313.5 622.9L408.7 663.1L504.1 622.9M313.5 525.2L311.5 525.2M313.5 541.5L311.5 541.5M313.5 557.8L311.5 557.8M313.5 574L311.5 574M313.5 590.3L311.5 590.3M313.5 606.6L311.5 606.6M313.5 622.9L311.5 622.9M313.5 622.9L311.5 623.8M337.3 633L335.3 633.8M361.1 643L359.1 643.9M384.9 653L382.9 653.9M408.7 663.1L406.7 664M418.4 659L420.5 659.9M437.9 650.8L439.9 651.6M457.4 642.6L459.4 643.4M476.8 634.4L478.9 635.2M496.3 626.2L498.3 627" fill="none" stroke="#3a3a3a" stroke-width="0.6"/>
<text x="292" y="492.5" text-anchor="start" font-size="16.6" class="serif" fill="#111">(f)</text>
<rect x="523.1" y="486.3" width="10.8" height="176.4" fill="url(#jet)" stroke="#444" stroke-width="0.4"/>
<text x="528.5" y="482.4" text-anchor="middle" font-size="6.2" class="sans" fill="#333">GPa</text>
<text x="536.3" y="494" text-anchor="start" font-size="6.3" class="sans" fill="#333">240</text>
<text x="536.3" y="509.9" text-anchor="start" font-size="6.3" class="sans" fill="#333">220</text>
<text x="536.3" y="525.7" text-anchor="start" font-size="6.3" class="sans" fill="#333">200</text>
<text x="536.3" y="541.6" text-anchor="start" font-size="6.3" class="sans" fill="#333">180</text>
<text x="536.3" y="557.5" text-anchor="start" font-size="6.3" class="sans" fill="#333">160</text>
<text x="536.3" y="573.4" text-anchor="start" font-size="6.3" class="sans" fill="#333">140</text>
<text x="536.3" y="589.2" text-anchor="start" font-size="6.3" class="sans" fill="#333">120</text>
<text x="536.3" y="605.1" text-anchor="start" font-size="6.3" class="sans" fill="#333">100</text>
<text x="536.3" y="621" text-anchor="start" font-size="6.3" class="sans" fill="#333">80</text>
<text x="536.3" y="636.8" text-anchor="start" font-size="6.3" class="sans" fill="#333">60</text>
<text x="536.3" y="652.7" text-anchor="start" font-size="6.3" class="sans" fill="#333">40</text>
<path d="M532.5 492.1L533.9 492.1M532.5 508L533.9 508M532.5 523.8L533.9 523.8M532.5 539.7L533.9 539.7M532.5 555.6L533.9 555.6M532.5 571.5L533.9 571.5M532.5 587.3L533.9 587.3M532.5 603.2L533.9 603.2M532.5 619.1L533.9 619.1M532.5 634.9L533.9 634.9M532.5 650.8L533.9 650.8" stroke="#333" stroke-width="0.5"/></g>
<g clip-path="url(#ca)"><g filter="url(#b12)"><rect x="47.5" y="43.5" width="144" height="111.9" fill="#300000"/><path d="M190.3 88L190.4 94L189.7 100.1L188.9 106.2L187.4 112.2L184.2 117.5L179.6 121.8L174.6 125.4L169.4 128.4L163.7 130.3L158.1 131.5L152.8 132.5L147.7 133.2L142.9 133.7L138.2 134.1L133.6 134.2L129 134.3L124.4 134.7L119.5 135.6L114.2 136.7L108.5 137.4L102.4 137.8L96.1 137.2L90 135.5L84 133L78.5 129.4L73.4 125.2L68.2 120.5L63 115.3L57.8 109.6L52.4 103.2L49.8 95.8L51.2 88L53.8 80.6L56.6 73.6L60.1 67.1L64 61.1L68.5 55.6L73.2 50.7L78.1 46.2L83.1 42.1L88.3 38.4L93.6 35L98.9 31.7L104.4 28.5L110.2 25.9L116.3 24.2L122.7 23.8L129 24.1L135.2 24.9L141.3 26L147.3 27.6L153.2 29.7L158.7 32.4L163.8 35.9L168.5 39.9L172.8 44.2L176.9 48.7L180.6 53.5L183.2 59L185 64.8L186.8 70.5L188.3 76.2L189.5 82Z" fill="#380000"/><path d="M188.8 88L188.9 93.9L188.3 99.8L187.6 105.8L186.1 111.7L183 116.9L178.6 121.1L173.7 124.7L168.6 127.6L163 129.5L157.5 130.7L152.3 131.6L147.4 132.3L142.6 132.8L138 133.2L133.5 133.2L129 133.2L124.5 133.6L119.8 134.4L114.6 135.4L109.1 136L103.1 136.4L97 135.9L91 134.3L85.2 131.8L79.8 128.4L74.7 124.3L69.7 119.7L64.7 114.6L59.8 109L54.8 102.8L52.5 95.5L53.9 88L56.3 80.8L59 74.1L62.3 67.8L66.1 62L70.4 56.7L75 51.9L79.7 47.5L84.4 43.4L89.4 39.7L94.6 36.5L99.7 33.2L105 30.1L110.7 27.6L116.7 26L122.9 25.6L129 25.9L135 26.6L141 27.7L146.8 29.2L152.5 31.2L157.9 33.8L162.9 37.2L167.5 41.1L171.8 45.2L175.8 49.6L179.4 54.3L182 59.7L183.7 65.3L185.4 70.9L186.9 76.5L188 82.2Z" fill="#440000"/><path d="M187.3 88L187.5 93.8L186.9 99.5L186.2 105.4L184.8 111.1L181.8 116.2L177.5 120.4L172.8 123.9L167.8 126.8L162.4 128.6L157 129.9L151.9 130.8L147 131.5L142.3 132L137.8 132.3L133.4 132.2L129 132.1L124.6 132.4L120 133.2L115 134.1L109.6 134.7L103.8 135.1L97.9 134.6L92 133.1L86.3 130.7L81 127.4L76.1 123.4L71.2 118.9L66.4 113.9L61.7 108.4L57.2 102.3L55.3 95.3L56.5 88L58.8 81.1L61.4 74.6L64.6 68.5L68.2 62.8L72.4 57.7L76.8 53.1L81.3 48.8L85.8 44.8L90.5 41.1L95.5 37.9L100.5 34.8L105.7 31.8L111.2 29.4L117 27.8L123 27.4L129 27.6L134.9 28.3L140.7 29.3L146.4 30.8L151.9 32.7L157.2 35.2L162.1 38.5L166.6 42.2L170.8 46.2L174.7 50.5L178.3 55.1L180.8 60.3L182.5 65.9L184.1 71.3L185.5 76.8L186.5 82.3Z" fill="#4f0000"/><path d="M185.8 88L186 93.6L185.5 99.2L184.9 105L183.6 110.6L180.7 115.6L176.5 119.7L171.9 123.2L167 126L161.7 127.8L156.4 129.1L151.4 130L146.7 130.6L142.1 131.1L137.6 131.4L133.3 131.2L129 131.1L124.7 131.2L120.3 131.9L115.4 132.8L110.2 133.4L104.5 133.7L98.8 133.3L93 131.8L87.5 129.5L82.3 126.3L77.4 122.4L72.7 118.1L68 113.2L63.7 107.8L59.7 101.8L58 95L59.2 88L61.4 81.3L63.9 75L66.8 69.1L70.4 63.7L74.4 58.8L78.6 54.3L82.8 50.1L87.1 46.1L91.7 42.5L96.5 39.4L101.4 36.3L106.4 33.4L111.7 31.1L117.4 29.6L123.2 29.2L129 29.4L134.7 30L140.3 31L145.9 32.4L151.3 34.2L156.4 36.6L161.2 39.8L165.6 43.4L169.7 47.3L173.6 51.4L177.1 55.9L179.6 61L181.2 66.4L182.8 71.7L184 77.1L185 82.5Z" fill="#5b0000"/><path d="M184.3 88L184.5 93.5L184.1 99L183.5 104.5L182.3 110.1L179.5 115L175.5 119L170.9 122.4L166.2 125.2L161 127L155.9 128.3L151 129.2L146.3 129.8L141.8 130.2L137.4 130.4L133.2 130.2L129 130L124.9 130.1L120.5 130.7L115.8 131.5L110.7 132.1L105.3 132.4L99.6 131.9L94.1 130.6L88.6 128.4L83.5 125.3L78.8 121.5L74.2 117.3L69.7 112.5L65.7 107.2L62.1 101.3L60.8 94.7L61.9 88L63.9 81.6L66.3 75.5L69.1 69.8L72.5 64.6L76.4 59.9L80.4 55.5L84.4 51.4L88.5 47.5L92.8 43.9L97.5 40.8L102.2 37.8L107.1 35.1L112.3 32.8L117.7 31.4L123.4 31L129 31.1L134.5 31.7L140 32.7L145.4 33.9L150.7 35.7L155.7 38L160.4 41.1L164.7 44.5L168.7 48.3L172.5 52.3L176 56.6L178.3 61.6L179.9 66.9L181.4 72.1L182.6 77.3L183.6 82.6Z" fill="#670000"/><path d="M182.8 88L183.1 93.3L182.7 98.7L182.2 104.1L181 109.6L178.4 114.4L174.4 118.4L170 121.7L165.4 124.4L160.4 126.2L155.4 127.4L150.6 128.3L146 128.9L141.5 129.3L137.3 129.5L133.1 129.2L129 128.9L125 128.9L120.8 129.5L116.2 130.2L111.3 130.7L106 131.1L100.5 130.6L95.1 129.3L89.8 127.2L84.8 124.3L80.2 120.6L75.7 116.5L71.4 111.8L67.6 106.6L64.6 100.8L63.5 94.5L64.5 88L66.4 81.8L68.7 76L71.4 70.5L74.6 65.5L78.3 60.9L82.2 56.7L86 52.7L89.8 48.8L94 45.3L98.4 42.3L103 39.4L107.8 36.7L112.8 34.6L118.1 33.2L123.6 32.8L129 32.9L134.4 33.4L139.7 34.3L144.9 35.5L150.1 37.2L155 39.5L159.5 42.4L163.7 45.7L167.7 49.3L171.4 53.2L174.8 57.4L177.1 62.3L178.6 67.4L180.1 72.5L181.2 77.6L182.1 82.8Z" fill="#730000"/><path d="M181.3 88L181.6 93.2L181.3 98.4L180.8 103.7L179.8 109L177.2 113.8L173.4 117.7L169.1 120.9L164.6 123.6L159.7 125.4L154.8 126.6L150.1 127.5L145.6 128.1L141.3 128.5L137.1 128.6L133 128.2L129 127.8L125.1 127.8L121 128.2L116.6 128.9L111.8 129.4L106.7 129.7L101.4 129.3L96.1 128.1L90.9 126.1L86.1 123.2L81.5 119.7L77.2 115.7L73.1 111.2L69.6 106L67 100.3L66.2 94.2L67.2 88L69 82.1L71.1 76.5L73.6 71.2L76.7 66.3L80.3 62L84 57.9L87.5 54L91.2 50.2L95.1 46.7L99.4 43.7L103.8 40.9L108.4 38.4L113.3 36.3L118.5 35L123.7 34.6L129 34.7L134.2 35.2L139.4 36L144.4 37.1L149.4 38.7L154.2 40.9L158.6 43.6L162.8 46.8L166.7 50.3L170.3 54.1L173.7 58.2L175.9 62.9L177.3 68L178.7 72.9L179.8 77.9L180.6 82.9Z" fill="#7e0000"/><path d="M179.8 88L180.1 93L179.8 98.1L179.4 103.3L178.4 108.5L176 113.1L172.3 116.9L168.1 120.1L163.8 122.8L159 124.6L154.2 125.8L149.6 126.6L145.2 127.2L141 127.5L136.9 127.6L132.9 127.2L129 126.8L125.2 126.6L121.2 127L117 127.5L112.5 127.9L107.6 128.1L102.5 127.6L97.5 126.4L92.5 124.5L87.9 121.7L83.6 118.4L79.5 114.5L75.6 110.1L72.4 105.2L70.3 99.7L69.8 93.8L70.6 88L72.2 82.4L74.1 77.1L76.5 72.1L79.3 67.4L82.6 63.2L86.1 59.3L89.4 55.5L92.8 51.8L96.5 48.4L100.6 45.5L104.8 42.8L109.2 40.3L113.9 38.2L118.8 37L123.9 36.5L129 36.5L134 36.9L139 37.7L143.9 38.7L148.8 40.2L153.4 42.3L157.7 45L161.7 48.1L165.5 51.5L169.1 55.1L172.3 59.1L174.5 63.7L175.9 68.6L177.3 73.3L178.3 78.2L179.1 83.1Z" fill="#a10000"/><path d="M178.4 88L178.6 92.9L178.4 97.8L178 102.9L177 107.9L174.6 112.4L171 116.1L167 119.2L162.7 121.7L158.2 123.5L153.6 124.8L149.1 125.6L144.8 126.2L140.7 126.5L136.7 126.6L132.8 126.2L129 125.8L125.3 125.6L121.5 125.7L117.5 126L113.2 126.1L108.7 125.9L104.1 125.3L99.5 123.9L94.9 122.1L90.7 119.4L86.8 116.2L83 112.6L79.6 108.5L76.8 103.8L75.1 98.7L74.6 93.4L75.3 88L76.6 82.8L78.3 77.9L80.3 73.2L82.7 68.8L85.6 64.8L88.6 61L91.7 57.4L94.9 53.9L98.4 50.7L102.2 47.9L106.1 45.2L110.2 42.6L114.6 40.4L119.3 39.1L124.1 38.5L129 38.5L133.8 38.8L138.7 39.4L143.4 40.4L148.1 41.8L152.6 43.9L156.7 46.6L160.5 49.6L164 53L167.4 56.5L170.5 60.3L172.7 64.6L174.3 69.2L175.7 73.8L176.9 78.5L177.7 83.2Z" fill="#c70000"/><path d="M177 88L177.2 92.7L176.9 97.5L176.5 102.4L175.6 107.3L173.2 111.7L169.8 115.2L165.8 118.2L161.7 120.7L157.3 122.5L152.9 123.8L148.6 124.6L144.4 125.1L140.4 125.4L136.5 125.5L132.7 125.2L129 124.8L125.4 124.5L121.8 124.4L118 124.4L114 124.3L109.9 123.8L105.7 122.9L101.5 121.5L97.4 119.6L93.5 117.2L90 114.1L86.6 110.6L83.6 106.8L81.3 102.5L79.9 97.8L79.5 92.9L80 88L81 83.3L82.4 78.7L84.1 74.4L86.1 70.3L88.5 66.4L91.2 62.8L94.1 59.3L97.1 56.1L100.3 53L103.8 50.3L107.4 47.6L111.1 44.9L115.2 42.6L119.7 41.2L124.3 40.6L129 40.5L133.7 40.7L138.3 41.2L142.9 42.1L147.5 43.4L151.7 45.5L155.6 48.1L159.2 51.2L162.6 54.4L165.8 57.8L168.7 61.4L171 65.6L172.6 69.9L174.2 74.3L175.4 78.8L176.3 83.3Z" fill="#ed0000"/><path d="M175.6 88L175.7 92.6L175.4 97.2L175.1 102L174.2 106.7L171.9 110.9L168.5 114.4L164.7 117.3L160.7 119.7L156.5 121.5L152.2 122.8L148 123.6L144 124.1L140 124.4L136.3 124.5L132.6 124.2L129 123.8L125.5 123.4L122 123.2L118.4 122.9L114.7 122.5L111 121.7L107.2 120.6L103.5 119.1L99.7 117.3L96.2 114.9L93.1 112L90.1 108.8L87.5 105.2L85.6 101.2L84.5 96.8L84.2 92.4L84.5 88L85.3 83.7L86.4 79.5L87.8 75.5L89.5 71.6L91.4 67.9L93.7 64.4L96.4 61.2L99.2 58.2L102.2 55.3L105.3 52.6L108.6 49.9L112.1 47.1L115.9 44.8L120.1 43.3L124.5 42.6L129 42.4L133.5 42.5L138 42.9L142.4 43.7L146.8 45L150.9 47L154.6 49.7L158 52.7L161.2 55.8L164.2 59.1L167 62.6L169.3 66.5L171 70.6L172.6 74.8L173.9 79.1L174.9 83.5Z" fill="#ff1500"/><path d="M174.5 88L174.6 92.5L174.3 97L174 101.6L173.1 106.3L170.9 110.4L167.6 113.8L163.9 116.6L160 119L156 120.9L151.8 122.1L147.7 122.9L143.7 123.4L139.8 123.7L136.1 123.7L132.5 123.4L129 122.9L125.6 122.5L122.2 122.2L118.7 122L115.1 121.6L111.4 120.8L107.8 119.8L104.1 118.4L100.4 116.6L96.9 114.3L93.8 111.5L90.8 108.4L88.2 104.9L86.3 101L85.2 96.7L84.8 92.3L85.2 88L86 83.8L87.1 79.7L88.6 75.7L90.2 71.9L92.1 68.3L94.4 64.9L97 61.8L99.8 58.8L102.7 55.9L105.8 53.3L109.1 50.7L112.5 48.1L116.2 45.8L120.3 44.3L124.6 43.7L129 43.6L133.4 43.7L137.7 44.2L142.1 45L146.3 46.2L150.3 48.2L153.9 50.7L157.2 53.6L160.3 56.7L163.2 59.9L166 63.3L168.1 67.1L169.9 71.1L171.5 75.1L172.8 79.3L173.8 83.6Z" fill="#ff3b00"/><path d="M173.3 88L173.4 92.4L173.2 96.8L172.9 101.3L172 105.8L169.9 109.9L166.6 113.1L163 115.9L159.3 118.3L155.4 120.2L151.4 121.5L147.3 122.3L143.4 122.7L139.6 122.9L135.9 122.9L132.4 122.5L129 122L125.7 121.6L122.4 121.3L119 121.1L115.5 120.7L111.9 120L108.3 118.9L104.7 117.6L101.1 115.9L97.6 113.7L94.5 111.1L91.5 108L88.9 104.6L86.9 100.8L85.9 96.6L85.5 92.3L85.8 88L86.7 83.8L87.9 79.8L89.4 76L91 72.3L92.9 68.7L95.1 65.4L97.7 62.3L100.4 59.4L103.2 56.6L106.3 54L109.5 51.5L112.8 49L116.5 46.8L120.5 45.4L124.7 44.8L129 44.7L133.2 44.9L137.5 45.4L141.7 46.2L145.8 47.5L149.6 49.4L153.2 51.8L156.4 54.6L159.5 57.5L162.3 60.6L164.9 64L167 67.7L168.7 71.6L170.3 75.5L171.6 79.5L172.6 83.7Z" fill="#ff6200"/><path d="M172.2 88L172.3 92.3L172 96.6L171.7 101L171 105.4L168.9 109.3L165.7 112.5L162.2 115.2L158.6 117.6L154.9 119.5L150.9 120.8L146.9 121.6L143.1 122L139.4 122.2L135.8 122.1L132.3 121.7L129 121.2L125.8 120.7L122.5 120.4L119.2 120.2L115.8 119.8L112.4 119.1L108.9 118.1L105.4 116.8L101.8 115.2L98.4 113.2L95.2 110.6L92.2 107.7L89.6 104.3L87.6 100.5L86.5 96.4L86.2 92.2L86.5 88L87.3 83.9L88.6 80L90.2 76.2L91.8 72.6L93.6 69.1L95.8 65.8L98.3 62.8L101 60L103.8 57.2L106.7 54.7L109.9 52.3L113.2 49.9L116.8 47.8L120.7 46.5L124.9 46L129 45.9L133.1 46.1L137.2 46.6L141.3 47.5L145.3 48.7L149 50.6L152.5 52.9L155.6 55.5L158.6 58.4L161.4 61.4L163.9 64.7L165.9 68.3L167.5 72L169.1 75.8L170.5 79.8L171.5 83.8Z" fill="#ff8800"/><path d="M170.7 88L171 92.1L170.8 96.3L170.5 100.6L169.7 104.8L167.7 108.7L164.6 111.8L161.2 114.4L157.8 116.8L154.1 118.6L150.3 119.9L146.5 120.7L142.7 121.1L139.1 121.2L135.5 120.9L132.2 120.3L129 119.7L125.9 119.2L122.9 118.9L119.7 118.6L116.5 118.2L113.2 117.6L109.9 116.6L106.6 115.3L103.3 113.7L100.1 111.7L97.1 109.3L94.3 106.6L91.8 103.4L90 99.8L88.9 96L88.6 92L88.9 88L89.7 84.1L90.9 80.4L92.3 76.9L93.8 73.4L95.5 70.1L97.6 67L99.9 64.1L102.4 61.4L105 58.7L107.7 56.2L110.7 53.8L113.9 51.5L117.3 49.5L121.1 48.1L125 47.5L129 47.4L133 47.6L136.9 48.1L140.9 48.9L144.7 50.2L148.2 52L151.5 54.3L154.6 56.8L157.4 59.6L160.2 62.4L162.5 65.6L164.4 69.1L166 72.7L167.6 76.3L168.9 80.1L170 84Z" fill="#ffae00"/><path d="M169.2 88L169.6 92L169.5 96L169.1 100.2L168.3 104.3L166.4 108L163.5 111L160.1 113.6L156.8 115.8L153.3 117.6L149.6 118.8L145.9 119.6L142.3 120.1L138.7 120.1L135.3 119.6L132 118.8L129 118.1L126.1 117.4L123.2 117L120.3 116.8L117.2 116.5L114.1 115.9L111 114.9L108 113.5L105.1 111.9L102.2 110L99.4 107.8L96.9 105.2L94.6 102.2L93 98.9L92 95.4L91.7 91.7L92 88L92.7 84.4L93.7 81L95 77.7L96.4 74.5L97.9 71.4L99.8 68.5L101.9 65.8L104.1 63.1L106.4 60.5L109 58L111.7 55.7L114.7 53.4L117.9 51.4L121.4 49.9L125.2 49.3L129 49L132.8 49.1L136.6 49.6L140.4 50.4L144 51.8L147.4 53.7L150.5 55.8L153.4 58.3L156.2 60.8L158.8 63.6L161 66.6L162.8 69.9L164.4 73.3L165.9 76.8L167.2 80.4L168.3 84.1Z" fill="#ffd500"/><path d="M167.6 88L168.2 91.9L168.2 95.8L167.7 99.8L166.9 103.7L165.2 107.3L162.4 110.3L159.1 112.7L155.8 114.8L152.4 116.5L148.9 117.7L145.4 118.6L141.9 119.1L138.4 119.1L135 118.3L131.9 117.3L129 116.4L126.3 115.7L123.6 115.2L120.8 114.9L118 114.7L115 114.2L112.2 113.2L109.5 111.8L106.9 110.1L104.3 108.3L101.8 106.2L99.4 103.8L97.5 101.1L95.9 98L95.1 94.8L94.8 91.4L95.1 88L95.7 84.7L96.6 81.6L97.7 78.5L98.9 75.5L100.3 72.7L102 70L103.8 67.4L105.8 64.8L107.9 62.3L110.2 59.8L112.7 57.6L115.5 55.4L118.5 53.3L121.8 51.8L125.4 51L129 50.7L132.7 50.7L136.3 51.1L139.9 52L143.3 53.4L146.5 55.3L149.5 57.4L152.2 59.7L154.9 62.1L157.4 64.7L159.5 67.6L161.2 70.8L162.7 74L164.2 77.3L165.6 80.7L166.7 84.3Z" fill="#fffb00"/><path d="M165.3 88L166 91.6L166.1 95.4L165.8 99.2L165 102.9L163.4 106.4L160.8 109.2L157.7 111.6L154.6 113.6L151.3 115.2L148 116.4L144.7 117.3L141.4 117.9L138 117.7L134.7 116.9L131.7 115.8L129 114.8L126.4 113.9L123.9 113.4L121.4 113.1L118.7 112.9L116 112.4L113.4 111.4L111 110L108.7 108.3L106.4 106.6L104.1 104.6L102 102.4L100.3 99.9L98.9 97.1L98.2 94.1L98 91.1L98.2 88L98.7 85L99.4 82.1L100.3 79.3L101.4 76.6L102.6 73.9L104 71.3L105.6 68.8L107.3 66.3L109.2 63.9L111.2 61.4L113.6 59.2L116.2 57.1L119 55.1L122.2 53.6L125.5 52.8L129 52.4L132.5 52.4L136 52.7L139.4 53.6L142.6 55.1L145.6 57L148.3 59.1L150.9 61.3L153.3 63.7L155.6 66.2L157.5 68.9L159.1 71.9L160.5 75L161.9 78L163.2 81.2L164.3 84.5Z" fill="#c2fa00"/><path d="M161.8 88L162.6 91.3L163 94.8L162.9 98.3L162.2 101.8L160.8 105L158.5 107.7L155.8 110L153 112L150 113.6L146.9 114.7L143.8 115.7L140.7 116.2L137.5 116L134.4 115.2L131.6 114.2L129 113.1L126.6 112.2L124.3 111.6L121.9 111.3L119.4 111.1L117 110.5L114.6 109.5L112.5 108.2L110.4 106.6L108.4 104.9L106.4 103.1L104.6 101L103.1 98.7L102 96.2L101.4 93.5L101.2 90.7L101.4 88L101.7 85.3L102.2 82.7L102.8 80.1L103.6 77.5L104.6 75L105.7 72.5L107.1 70L108.6 67.6L110.2 65.1L112.1 62.7L114.3 60.5L116.8 58.5L119.5 56.7L122.5 55.4L125.7 54.8L129 54.3L132.3 54.2L135.6 54.6L138.9 55.5L141.9 57L144.6 58.9L147 61L149.2 63.3L151.3 65.7L153.2 68.2L154.8 70.8L156.1 73.5L157.4 76.2L158.6 79L159.8 81.9L160.8 84.9Z" fill="#7ff400"/><path d="M158.3 88L159.2 91L159.8 94.1L160 97.4L159.4 100.6L158.2 103.6L156.2 106.2L153.9 108.4L151.3 110.3L148.6 111.9L145.8 113.1L142.9 114L140 114.5L137 114.4L134.1 113.6L131.4 112.7L129 111.5L126.8 110.5L124.7 109.9L122.5 109.5L120.2 109.3L118 108.7L115.9 107.7L113.9 106.4L112.1 104.9L110.4 103.2L108.7 101.5L107.2 99.6L105.9 97.5L105 95.3L104.6 92.9L104.4 90.4L104.5 88L104.7 85.6L105 83.2L105.4 80.8L105.9 78.4L106.6 76L107.5 73.6L108.5 71.2L109.8 68.8L111.2 66.3L112.9 63.9L115 61.8L117.4 59.9L120 58.3L122.9 57.3L125.9 56.7L129 56.3L132.1 56.1L135.3 56.5L138.3 57.4L141.1 58.8L143.6 60.7L145.7 63L147.6 65.3L149.3 67.7L150.7 70.2L152 72.6L153.2 75.1L154.3 77.5L155.4 80L156.4 82.5L157.4 85.2Z" fill="#05eb59"/><path d="M154.9 88L155.9 90.6L156.7 93.5L157.1 96.5L156.7 99.5L155.6 102.2L154 104.7L152 106.8L149.7 108.7L147.3 110.2L144.7 111.4L142 112.4L139.3 112.9L136.5 112.7L133.8 112L131.3 111.1L129 109.9L127 108.8L125 108.1L123 107.8L120.9 107.4L119 106.8L117.1 105.8L115.4 104.6L113.8 103.2L112.4 101.6L111 100L109.7 98.3L108.7 96.4L108 94.4L107.6 92.3L107.5 90.1L107.5 88L107.5 85.9L107.6 83.8L107.8 81.6L108.1 79.3L108.6 77.1L109.2 74.8L110 72.4L111 70L112.2 67.5L113.8 65.2L115.7 63.1L118 61.3L120.5 60L123.3 59.1L126.1 58.6L129 58.2L132 58L134.9 58.4L137.7 59.3L140.3 60.7L142.6 62.6L144.4 64.9L146 67.3L147.3 69.7L148.4 72.1L149.4 74.4L150.3 76.6L151.3 78.8L152.2 81L153.1 83.2L154 85.5Z" fill="#00f089"/><path d="M152.5 88L153.2 90.4L153.9 92.9L154.1 95.6L153.9 98.3L153.1 100.9L151.8 103.2L150.1 105.3L148.2 107.2L146.1 108.8L143.7 110.1L141.3 111.1L138.8 111.7L136.2 111.7L133.6 111.1L131.2 110.1L129 108.9L127.1 107.6L125.3 106.6L123.5 106L121.7 105.6L119.9 105L118.2 104.2L116.5 103.2L115 102L113.6 100.7L112.2 99.2L111 97.6L110.1 95.8L109.6 93.9L109.3 91.9L109.2 90L109.2 88L109.3 86.1L109.4 84.1L109.5 82.1L109.8 80L110.2 77.9L110.7 75.8L111.4 73.5L112.3 71.3L113.4 69L114.8 66.8L116.6 64.9L118.7 63.2L121.1 61.9L123.6 61.1L126.3 60.6L129 60.2L131.7 60.1L134.5 60.5L137.1 61.4L139.5 62.8L141.5 64.5L143.3 66.6L144.8 68.8L146 71L147 73.2L147.9 75.4L148.7 77.5L149.5 79.5L150.3 81.5L151.1 83.6L151.8 85.8Z" fill="#00f6b4"/><path d="M150.1 88L150.6 90.1L151 92.4L151.2 94.7L151.1 97.1L150.5 99.5L149.6 101.8L148.3 103.8L146.7 105.7L144.9 107.3L142.8 108.7L140.7 109.8L138.3 110.6L135.9 110.7L133.4 110.2L131.1 109.1L129 107.8L127.2 106.4L125.6 105.1L124.1 104.3L122.5 103.8L120.9 103.2L119.3 102.6L117.7 101.8L116.2 100.8L114.8 99.7L113.4 98.4L112.3 96.9L111.6 95.2L111.1 93.4L111 91.6L110.9 89.8L110.9 88L111 86.2L111.1 84.4L111.2 82.6L111.4 80.7L111.7 78.8L112.2 76.7L112.8 74.7L113.5 72.5L114.6 70.4L115.9 68.4L117.6 66.6L119.5 65.1L121.7 63.8L124 63L126.5 62.5L129 62.2L131.5 62.3L134 62.7L136.4 63.5L138.6 64.8L140.5 66.4L142.2 68.3L143.6 70.2L144.7 72.3L145.6 74.4L146.4 76.4L147.1 78.3L147.8 80.2L148.4 82.1L149 84L149.5 86Z" fill="#00fbdf"/><path d="M147.6 88L147.9 89.9L148.2 91.8L148.3 93.9L148.3 96L148 98.1L147.4 100.3L146.5 102.3L145.2 104.2L143.7 105.9L141.9 107.3L140 108.5L137.9 109.4L135.6 109.8L133.2 109.2L131 108.1L129 106.8L127.3 105.2L125.9 103.6L124.6 102.6L123.2 101.9L121.8 101.4L120.3 101L118.8 100.4L117.4 99.6L116 98.7L114.6 97.6L113.6 96.2L113 94.6L112.7 92.9L112.6 91.3L112.6 89.6L112.7 88L112.7 86.4L112.8 84.8L112.9 83.1L113.1 81.4L113.3 79.6L113.6 77.7L114.1 75.8L114.8 73.8L115.8 71.9L117 70L118.5 68.3L120.3 66.9L122.3 65.8L124.4 64.9L126.7 64.4L129 64.3L131.3 64.4L133.6 64.8L135.8 65.7L137.7 66.9L139.5 68.3L141.1 69.9L142.4 71.7L143.4 73.6L144.2 75.5L144.9 77.4L145.5 79.2L146 81L146.5 82.7L146.9 84.4L147.3 86.2Z" fill="#00f5ff"/><path d="M145.7 88L146 89.7L146.1 91.4L146.2 93.2L146.2 95.1L146 97.1L145.6 99.1L144.8 101L143.8 102.8L142.5 104.4L141 105.9L139.3 107.2L137.4 108.2L135.3 108.7L133 108.3L130.9 107.1L129 105.9L127.4 104.3L126 102.9L124.8 101.8L123.5 101.2L122.2 100.7L120.8 100.3L119.4 99.8L118 99L116.7 98.1L115.5 97L114.6 95.7L114.2 94.2L113.9 92.6L113.9 91L113.9 89.5L113.9 88L114 86.5L114.1 85L114.2 83.5L114.3 81.9L114.5 80.2L114.8 78.5L115.2 76.7L115.8 74.8L116.7 73L117.8 71.3L119.2 69.7L120.9 68.4L122.7 67.4L124.7 66.5L126.8 66.1L129 65.9L131.2 66.1L133.3 66.5L135.3 67.3L137.1 68.5L138.7 69.9L140.1 71.4L141.3 73L142.2 74.8L142.9 76.6L143.5 78.3L144 80L144.5 81.6L144.9 83.2L145.2 84.8L145.5 86.4Z" fill="#00cfff"/><path d="M144 88L144.2 89.5L144.3 91L144.4 92.7L144.3 94.3L144.2 96.1L143.8 97.9L143.2 99.7L142.4 101.4L141.3 103L140 104.5L138.5 105.8L136.8 106.9L134.9 107.5L132.8 107.3L130.8 106.2L129 105L127.5 103.6L126.2 102.3L124.9 101.4L123.7 100.8L122.4 100.4L121 99.9L119.7 99.4L118.4 98.6L117.3 97.6L116.3 96.5L115.6 95.2L115.2 93.7L115 92.2L115 90.8L114.9 89.4L115 88L115 86.6L115.1 85.2L115.2 83.8L115.4 82.4L115.5 80.8L115.8 79.2L116.2 77.5L116.7 75.7L117.5 74L118.6 72.4L119.9 71L121.5 69.8L123.2 68.8L125 68.1L127 67.6L129 67.5L131 67.7L133 68.1L134.8 68.9L136.5 70L137.9 71.3L139.2 72.7L140.2 74.3L141 76L141.7 77.6L142.2 79.2L142.6 80.7L143 82.2L143.3 83.7L143.6 85.1L143.8 86.5Z" fill="#00a8ff"/><path d="M142.3 88L142.4 89.3L142.5 90.7L142.5 92.1L142.5 93.6L142.4 95.1L142.1 96.7L141.6 98.4L141 100L140.1 101.6L139.1 103.1L137.8 104.5L136.3 105.7L134.6 106.4L132.6 106.3L130.7 105.3L129 104.1L127.5 102.9L126.3 101.8L125.1 101L123.8 100.4L122.6 100L121.3 99.6L120 99L118.8 98.2L117.8 97.2L117.1 96L116.5 94.7L116.2 93.3L116.1 91.9L116 90.6L116 89.3L116.1 88L116.1 86.7L116.2 85.5L116.3 84.1L116.4 82.8L116.6 81.4L116.8 79.9L117.1 78.3L117.6 76.6L118.4 75L119.3 73.5L120.6 72.2L122 71.2L123.6 70.3L125.3 69.6L127.1 69.2L129 69L130.8 69.2L132.6 69.7L134.3 70.4L135.9 71.4L137.2 72.7L138.3 74.1L139.2 75.6L139.9 77.1L140.4 78.6L140.9 80.1L141.3 81.4L141.6 82.8L141.8 84.1L142 85.4L142.2 86.7Z" fill="#0082ff"/><path d="M140.6 88L140.7 89.1L140.7 90.3L140.7 91.5L140.6 92.8L140.5 94.2L140.3 95.6L140 97.1L139.6 98.6L139 100.2L138.1 101.7L137.1 103.1L135.8 104.4L134.2 105.3L132.4 105.3L130.6 104.4L129 103.3L127.6 102.2L126.4 101.2L125.2 100.6L124 100.1L122.8 99.7L121.5 99.2L120.3 98.6L119.2 97.8L118.4 96.7L117.8 95.5L117.5 94.2L117.3 92.9L117.2 91.6L117.1 90.4L117.1 89.2L117.1 88L117.2 86.8L117.3 85.7L117.4 84.5L117.5 83.2L117.6 81.9L117.8 80.5L118.1 79.1L118.5 77.5L119.2 76L120.1 74.7L121.3 73.5L122.6 72.5L124.1 71.7L125.6 71.1L127.3 70.7L129 70.6L130.7 70.8L132.3 71.3L133.9 72L135.2 72.9L136.4 74.1L137.4 75.4L138.2 76.8L138.7 78.3L139.2 79.6L139.6 80.9L139.9 82.2L140.1 83.4L140.3 84.6L140.4 85.7L140.5 86.9Z" fill="#005bff"/><path d="M139 88L139 89L139 90L138.9 91L138.9 92.1L138.8 93.2L138.7 94.5L138.5 95.8L138.3 97.3L137.8 98.8L137.2 100.3L136.3 101.7L135.3 103.1L133.9 104.1L132.2 104.2L130.5 103.4L129 102.4L127.7 101.4L126.5 100.6L125.3 100L124.2 99.6L123 99.3L121.8 98.8L120.7 98.1L119.7 97.3L119 96.2L118.6 94.9L118.4 93.7L118.3 92.4L118.3 91.3L118.2 90.1L118.2 89.1L118.2 88L118.3 86.9L118.3 85.9L118.4 84.8L118.6 83.7L118.7 82.5L118.9 81.2L119.1 79.9L119.5 78.5L120 77.1L120.9 75.8L121.9 74.8L123.2 73.9L124.5 73.2L125.9 72.6L127.4 72.3L129 72.1L130.5 72.4L132 72.8L133.4 73.5L134.6 74.4L135.7 75.5L136.5 76.8L137.1 78.1L137.6 79.4L138 80.6L138.3 81.8L138.6 82.9L138.7 84L138.8 85L138.9 86L139 87Z" fill="#0035ff"/><path d="M138 88L138 88.9L138 89.8L137.9 90.7L137.9 91.7L137.8 92.7L137.7 93.8L137.6 95L137.3 96.3L136.9 97.7L136.4 99L135.6 100.4L134.6 101.6L133.4 102.5L131.9 102.6L130.4 101.8L129 100.9L127.8 100L126.7 99.3L125.7 98.8L124.7 98.4L123.6 98.1L122.5 97.7L121.5 97.1L120.6 96.4L120 95.4L119.7 94.2L119.5 93.1L119.4 92L119.3 90.9L119.3 89.9L119.3 89L119.3 88L119.4 87.1L119.4 86.1L119.5 85.1L119.6 84.1L119.7 83L119.9 81.9L120.1 80.7L120.4 79.4L120.9 78.2L121.7 77L122.6 76.1L123.8 75.3L125 74.7L126.3 74.2L127.6 73.9L129 73.8L130.4 73.9L131.7 74.4L133 75L134.1 75.8L135 76.8L135.7 77.9L136.3 79.1L136.8 80.2L137.1 81.3L137.4 82.4L137.6 83.4L137.7 84.4L137.8 85.3L137.9 86.2L137.9 87.1Z" fill="#000fff"/><path d="M137 88L137 88.8L136.9 89.6L136.9 90.4L136.9 91.3L136.8 92.2L136.7 93.2L136.6 94.2L136.4 95.4L136 96.6L135.5 97.8L134.9 99L134 100L132.9 100.8L131.6 100.9L130.2 100.3L129 99.5L127.9 98.7L127 98.1L126.1 97.6L125.2 97.3L124.2 97L123.3 96.6L122.4 96.1L121.6 95.4L121 94.5L120.7 93.5L120.6 92.5L120.5 91.5L120.4 90.6L120.4 89.7L120.4 88.8L120.4 88L120.5 87.2L120.5 86.3L120.6 85.4L120.7 84.6L120.8 83.6L120.9 82.6L121.1 81.5L121.4 80.4L121.8 79.3L122.5 78.3L123.4 77.5L124.3 76.8L125.4 76.2L126.6 75.8L127.8 75.5L129 75.4L130.2 75.5L131.4 75.9L132.5 76.4L133.5 77.1L134.3 78L135 79L135.5 80.1L135.9 81.1L136.2 82.1L136.4 83L136.6 83.9L136.7 84.8L136.8 85.6L136.9 86.4L136.9 87.2Z" fill="#0000ea"/><path d="M135.9 88L135.9 88.7L135.9 89.4L135.9 90.1L135.9 90.8L135.8 91.6L135.7 92.5L135.6 93.4L135.4 94.4L135.2 95.5L134.7 96.5L134.1 97.6L133.4 98.5L132.4 99.2L131.2 99.3L130.1 98.7L129 98L128.1 97.3L127.3 96.8L126.5 96.4L125.7 96.1L124.8 95.8L124 95.5L123.2 95L122.5 94.5L122 93.7L121.8 92.8L121.6 91.9L121.6 91.1L121.5 90.3L121.5 89.5L121.5 88.7L121.5 88L121.5 87.3L121.6 86.5L121.7 85.8L121.7 85L121.8 84.2L121.9 83.3L122.1 82.3L122.4 81.4L122.8 80.4L123.3 79.5L124.1 78.8L124.9 78.2L125.9 77.7L126.9 77.3L127.9 77.1L129 77L130.1 77.1L131.1 77.4L132.1 77.9L132.9 78.5L133.6 79.3L134.2 80.2L134.7 81.1L135 82L135.3 82.9L135.5 83.7L135.6 84.4L135.8 85.2L135.8 85.9L135.9 86.6L135.9 87.3Z" fill="#0000c7"/><path d="M134.7 88L134.7 88.6L134.7 89.1L134.7 89.7L134.6 90.3L134.6 91L134.5 91.7L134.4 92.5L134.3 93.3L134.1 94.2L133.7 95L133.2 95.9L132.6 96.6L131.8 97.2L130.8 97.3L129.9 96.8L129 96.2L128.2 95.7L127.6 95.2L126.9 94.9L126.3 94.6L125.6 94.4L124.9 94.2L124.3 93.8L123.7 93.3L123.3 92.7L123.1 92L123 91.2L122.9 90.5L122.9 89.9L122.8 89.2L122.8 88.6L122.9 88L122.9 87.4L122.9 86.8L123 86.2L123 85.5L123.1 84.9L123.2 84.1L123.3 83.4L123.6 82.6L123.9 81.8L124.3 81L125 80.4L125.7 80L126.4 79.5L127.3 79.2L128.1 79L129 78.9L129.9 79.1L130.7 79.3L131.5 79.7L132.2 80.2L132.8 80.9L133.3 81.6L133.6 82.3L133.9 83.1L134.2 83.8L134.3 84.4L134.5 85.1L134.6 85.7L134.6 86.3L134.7 86.9L134.7 87.4Z" fill="#0000a4"/><path d="M131.8 88L131.8 88.3L131.8 88.6L131.8 88.9L131.8 89.2L131.8 89.5L131.8 89.8L131.7 90.2L131.6 90.6L131.5 91.1L131.3 91.5L131.1 91.9L130.8 92.3L130.4 92.6L129.9 92.6L129.4 92.4L129 92.1L128.6 91.8L128.3 91.6L128 91.4L127.6 91.3L127.3 91.2L126.9 91.1L126.6 90.9L126.3 90.7L126.1 90.3L126 90L126 89.6L126 89.3L125.9 88.9L125.9 88.6L125.9 88.3L125.9 88L125.9 87.7L126 87.4L126 87.1L126 86.8L126.1 86.4L126.1 86.1L126.2 85.7L126.3 85.3L126.4 84.9L126.7 84.5L127 84.2L127.3 84L127.7 83.8L128.1 83.6L128.6 83.5L129 83.5L129.4 83.5L129.9 83.7L130.3 83.9L130.6 84.1L130.9 84.4L131.1 84.8L131.3 85.2L131.5 85.5L131.6 85.9L131.7 86.2L131.7 86.5L131.8 86.9L131.8 87.1L131.8 87.4L131.8 87.7Z" fill="#00008c"/><path d="M58 104C59.7 98.3 64.3 112 68 116C71.7 120 75.3 124.5 80 128C84.7 131.5 91.3 135.2 96 137C100.7 138.8 106 136.8 108 139C110 141.2 116.3 148.2 108 150C99.7 151.8 66.3 157.7 58 150C49.7 142.3 56.3 109.7 58 104Z" fill="#000000" fill-opacity="0.22" filter="url(#b3)"/><path d="M103 138C103.7 137.1 105.4 133.8 107 132.3C108.6 130.8 110.3 129.9 112.5 129C114.7 128.1 117.9 127.2 120 126.6C122.1 126 123.1 126 125 125.6C126.9 125.2 128.9 124.8 131.5 124.2C134.1 123.6 137.6 122.7 140.5 122C143.4 121.3 147.3 120.3 148.7 120" fill="none" stroke="#5a1800" stroke-width="2.2" stroke-linecap="round" stroke-opacity="0.85" filter="url(#b08)"/><path d="M101 146C99.1 144.2 102.4 140.6 103.5 138.5C104.6 136.4 105.9 134.7 107.5 133.3C109.1 131.9 110.9 131.1 113 130.2C115.1 129.3 118 128.6 120 128.1C122 127.6 123.1 127.6 125 127.2C126.9 126.8 128.9 126.4 131.5 125.8C134.1 125.2 137.6 124.3 140.5 123.6C143.4 122.8 146.8 121.7 148.7 121.3C150.6 120.9 151.8 119.5 152 121C152.2 122.5 152.8 126.5 150 130C147.2 133.5 140.8 138.8 135 142C129.2 145.2 120.7 148.3 115 149C109.3 149.7 102.9 147.8 101 146Z" fill="url(#ga)"/><path d="M106 150C104.7 148.3 109.7 143.4 112 142C114.3 140.6 117.2 142.1 120 141.5C122.8 140.9 125.7 140.6 129 138.5C132.3 136.4 136.5 129.6 140 129C143.5 128.4 153.3 131.2 150 135C146.7 138.8 127.3 149.5 120 152C112.7 154.5 107.3 151.7 106 150Z" fill="#109050" fill-opacity="0.55" filter="url(#b12)"/><path d="M70 90.5C71 90.8 73.8 88 76 87C78.2 86 80.6 85.2 83 84.3C85.4 83.3 89.3 82.5 90.5 81.3C91.7 80.1 91.8 77.4 90 77C88.2 76.6 83.3 77.7 80 79C76.7 80.3 71.7 83.1 70 85C68.3 86.9 69 90.2 70 90.5Z" fill="#4a9a20" filter="url(#b05)"/><path d="M138.5 90.5C139.3 89.3 142.9 86.8 145 85C147.1 83.2 148.8 81.2 151 80C153.2 78.8 156.5 77.5 158 78C159.5 78.5 160.5 81.4 160 83C159.5 84.6 157.2 86.2 155 87.5C152.8 88.8 149.5 89.8 147 90.5C144.5 91.2 141.4 92 140 92C138.6 92 137.7 91.7 138.5 90.5Z" fill="#20f0ff" fill-opacity="0.95" filter="url(#b08)"/><ellipse cx="152.8" cy="83" rx="5.6" ry="3.6" fill="#ffffff" transform="rotate(-30 152.8 83)" filter="url(#b08)"/><path d="M95 78C94.6 79.3 92.9 83.2 92.5 86C92.1 88.8 91.9 92.1 92.5 95C93.1 97.9 94.4 100.9 96 103.5C97.6 106.1 99.7 108.6 102 110.5C104.3 112.4 107.3 113.9 110 115C112.7 116.1 115.2 116.8 118 117.3C120.8 117.8 123.7 118 127 118C130.3 118 136.2 117.4 138 117.3" fill="none" stroke="#ffff80" stroke-width="6.0" stroke-linecap="round" stroke-opacity="0.8" filter="url(#b12)"/><path d="M93 79C92.7 80.2 91.3 83.3 91 86C90.7 88.7 90.4 92.2 91 95C91.6 97.8 92.9 100.5 94.5 103C96.1 105.5 98.2 108.1 100.5 110C102.8 111.9 105.2 113.3 108 114.5C110.8 115.7 114 116.4 117 117C120 117.6 122.8 118 126 118C129.2 118 134.3 117.4 136 117.3" fill="none" stroke="#ffffff" stroke-width="3.4" stroke-linecap="round" stroke-opacity="0.7" filter="url(#b12)"/><ellipse cx="125.8" cy="94.6" rx="0.7" ry="0.7" fill="#ffffff" fill-opacity="0.9"/></g></g>
<g clip-path="url(#cb)"><g filter="url(#b12)"><rect x="338.9" y="51.5" width="138.7" height="97" fill="#300000"/><path d="M421.7 76.7L421.6 80.7L421.3 84.7L420.9 88.8L420.1 92.9L419.1 97.1L417.8 101.4L416.1 105.6L414 109.8L411.3 113.8L408.2 117.4L404.4 120.7L400.2 123.3L395.7 125.3L390.9 127L386 128.4L380.9 129.6L375.6 130.6L370.1 131.3L364.3 131.6L358.3 131.5L351.9 131.1L345.6 129.5L340.8 125.6L338.1 119.5L337.2 112.6L337 106.1L337.1 100.2L337.3 94.8L337.6 89.9L337.9 85.3L338.4 80.9L338.9 76.7L339.4 72.6L340.1 68.6L340.8 64.5L341.7 60.5L342.8 56.3L344.1 52.1L346 48L348.8 44.6L352.7 42.3L357.4 41.5L362.2 41.6L366.7 42.4L370.8 43.2L374.4 44L377.8 44.7L380.9 45.1L384 45.3L387.2 45.3L390.5 45.2L394.1 45L397.9 45L402.1 45L406.6 45.5L411 46.6L414.8 48.9L417.4 52.3L419.1 56.3L420.2 60.4L420.9 64.6L421.4 68.7L421.6 72.7Z" fill="#380000"/><path d="M473.8 91L480.7 96L489.1 102.8L495.2 110.8L495.9 118.3L493.9 125.1L491.1 131.8L487.5 138.2L482.2 143.2L474.8 145.6L467.1 146.5L459.9 147L453.3 147.4L447 147.1L441.1 147L435.5 147.1L430 146.9L424.5 146.6L419 146.1L413.5 145.5L407.8 144.6L401.9 143.6L395.7 142.3L389.3 140.6L382.9 138.1L376.9 134.6L371 130.4L364.8 125.9L358.1 120.8L351.1 114.9L343.8 108.1L340 99.9L340.7 91L342.5 82.4L345.1 74.1L348.7 66.4L353.3 59.2L358.8 52.9L365 47.6L371.6 43.1L378.3 39.3L385.1 36.2L391.9 34L398.8 32.7L405.6 32.1L412 31.8L418.2 31.9L424.2 32.3L430 33L435.6 34.3L440.9 36.4L445.8 39L450.3 42L454.5 45.2L458.2 48.8L461.2 52.9L463.7 57.3L465.6 61.8L466.9 66.4L467.9 70.8L468.8 74.9L469.5 79L469.7 83.1L470.5 87Z" fill="#380000"/><path d="M420.8 76.7L420.7 80.6L420.4 84.6L420 88.6L419.3 92.6L418.3 96.7L416.9 100.8L415.2 104.9L413.1 108.9L410.5 112.8L407.4 116.3L403.8 119.4L399.6 121.9L395.2 123.8L390.6 125.4L385.9 126.7L380.9 127.8L375.8 128.7L370.5 129.3L364.9 129.5L359.1 129.4L352.9 129.1L346.8 127.8L342 124.2L339.2 118.4L338.3 111.7L338.1 105.4L338.2 99.6L338.4 94.3L338.7 89.5L339.1 85L339.5 80.8L340 76.7L340.6 72.7L341.2 68.8L342 64.9L342.9 60.9L343.9 56.9L345.3 52.9L347.2 49L349.9 45.7L353.8 43.6L358.3 42.8L362.9 42.9L367.2 43.6L371.1 44.4L374.6 45.1L377.9 45.7L380.9 46.2L383.9 46.3L387 46.3L390.2 46.2L393.6 46.1L397.3 46L401.4 46.1L405.7 46.5L410 47.6L413.7 49.8L416.4 53L418.1 56.8L419.2 60.8L420 64.9L420.5 68.9L420.7 72.8Z" fill="#430000"/><path d="M472.5 91L479.2 95.8L487.5 102.4L493.6 110.3L494.4 117.7L492.5 124.4L489.8 130.9L486.2 137.1L480.9 141.9L473.7 144.3L466.2 145.1L459.2 145.7L452.8 146L446.6 145.7L440.9 145.7L435.4 145.7L430 145.4L424.7 145.1L419.3 144.7L413.9 144L408.4 143.1L402.7 142.1L396.7 140.8L390.5 139.1L384.4 136.6L378.6 133.1L373.1 129L367.3 124.5L360.9 119.6L354.2 114L347.4 107.4L343.5 99.5L343.9 91L345.5 82.7L348 74.7L351.5 67.2L355.8 60.3L361 54.1L367 48.9L373.3 44.5L379.7 40.7L386.3 37.8L393 35.6L399.7 34.3L406.2 33.6L412.5 33.4L418.6 33.5L424.4 33.8L430 34.6L435.4 35.9L440.5 38L445.3 40.5L449.7 43.5L453.8 46.5L457.4 50.1L460.3 54.1L462.7 58.3L464.5 62.7L465.8 67.1L466.7 71.4L467.6 75.4L468.3 79.4L468.5 83.3L469.3 87.1Z" fill="#440000"/><path d="M419.9 76.7L419.8 80.5L419.6 84.4L419.1 88.3L418.4 92.2L417.4 96.2L416.1 100.2L414.4 104.2L412.3 108.1L409.7 111.8L406.7 115.2L403.1 118.2L399.1 120.5L394.8 122.3L390.3 123.8L385.7 125L380.9 126L376 126.8L370.9 127.3L365.5 127.5L359.9 127.4L354 127.1L348 126L343.2 122.7L340.4 117.3L339.4 110.8L339.2 104.6L339.2 99L339.5 93.9L339.8 89.2L340.2 84.8L340.7 80.7L341.2 76.7L341.8 72.9L342.4 69.1L343.2 65.3L344 61.4L345.1 57.6L346.5 53.7L348.3 50L351.1 46.9L354.8 44.9L359.1 44.1L363.6 44.2L367.7 44.8L371.5 45.5L374.9 46.2L378 46.8L380.9 47.2L383.8 47.3L386.8 47.3L389.9 47.2L393.2 47.2L396.8 47.1L400.7 47.2L404.8 47.6L409 48.7L412.7 50.7L415.3 53.7L417.1 57.4L418.3 61.3L419 65.2L419.5 69L419.8 72.9Z" fill="#4e0000"/><path d="M471.3 91L477.7 95.7L485.8 102.1L492 109.8L493 117.1L491.1 123.6L488.4 130L484.9 136L479.7 140.7L472.6 142.9L465.3 143.8L458.5 144.4L452.2 144.6L446.2 144.4L440.6 144.3L435.3 144.3L430 144L424.8 143.6L419.6 143.2L414.4 142.5L409 141.6L403.5 140.6L397.7 139.3L391.8 137.6L385.9 135.1L380.4 131.7L375.2 127.6L369.7 123.2L363.7 118.5L357.4 113L351 106.7L347.1 99.2L347.1 91L348.6 83L350.9 75.3L354.2 68L358.3 61.3L363.2 55.3L368.9 50.2L375 45.8L381.2 42.2L387.5 39.3L394 37.1L400.5 35.8L406.9 35.2L413 34.9L418.9 35L424.5 35.4L430 36.1L435.3 37.5L440.2 39.5L444.8 42.1L449.1 44.9L453 47.9L456.5 51.3L459.3 55.2L461.7 59.3L463.4 63.6L464.7 67.8L465.6 72L466.4 75.9L467.1 79.8L467.3 83.6L468.2 87.2Z" fill="#4f0000"/><path d="M419 76.7L418.9 80.5L418.7 84.2L418.2 88L417.5 91.9L416.5 95.7L415.2 99.6L413.5 103.4L411.4 107.2L408.9 110.8L405.9 114.1L402.4 116.9L398.5 119.1L394.3 120.8L390 122.2L385.5 123.3L380.9 124.2L376.2 124.8L371.3 125.3L366.1 125.5L360.8 125.4L355 125.2L349.2 124.2L344.3 121.3L341.5 116.2L340.4 110L340.2 103.9L340.3 98.4L340.6 93.4L340.9 88.8L341.4 84.6L341.8 80.6L342.3 76.7L342.9 73L343.6 69.3L344.3 65.6L345.2 61.9L346.3 58.2L347.7 54.5L349.5 50.9L352.2 48L355.8 46.1L360 45.4L364.2 45.5L368.2 46L371.8 46.7L375.1 47.3L378.1 47.8L380.9 48.2L383.7 48.3L386.6 48.3L389.6 48.3L392.7 48.2L396.2 48.2L399.9 48.3L403.9 48.7L408 49.7L411.6 51.5L414.3 54.4L416.1 57.9L417.3 61.7L418.1 65.5L418.6 69.2L418.9 73Z" fill="#590000"/><path d="M470.1 91L476.1 95.5L484.2 101.8L490.4 109.3L491.5 116.5L489.7 122.9L487.1 129.1L483.6 135L478.4 139.4L471.5 141.6L464.4 142.5L457.8 143.1L451.7 143.3L445.8 143L440.3 142.9L435.1 142.9L430 142.6L425 142.2L419.9 141.7L414.8 141L409.7 140.1L404.3 139L398.7 137.8L393 136.1L387.4 133.6L382.2 130.2L377.2 126.2L372.2 121.9L366.5 117.3L360.6 112.1L354.5 106L350.6 98.8L350.3 91L351.6 83.3L353.9 75.9L357 68.8L360.8 62.3L365.4 56.5L370.8 51.5L376.6 47.2L382.7 43.7L388.8 40.8L395 38.7L401.4 37.4L407.5 36.7L413.5 36.5L419.2 36.6L424.7 36.9L430 37.7L435.1 39.1L439.9 41.1L444.4 43.6L448.5 46.3L452.3 49.2L455.7 52.6L458.4 56.4L460.7 60.3L462.4 64.4L463.6 68.6L464.5 72.6L465.3 76.4L465.9 80.1L466.1 83.8L467 87.4Z" fill="#5b0000"/><path d="M418.1 76.7L418.1 80.4L417.8 84.1L417.4 87.8L416.6 91.5L415.6 95.3L414.3 99L412.6 102.7L410.6 106.4L408.1 109.8L405.2 113L401.8 115.7L397.9 117.7L393.9 119.3L389.7 120.5L385.3 121.5L380.9 122.3L376.4 122.9L371.7 123.3L366.8 123.5L361.6 123.3L356.1 123.2L350.4 122.4L345.5 119.9L342.6 115.1L341.5 109.1L341.3 103.2L341.4 97.8L341.7 93L342.1 88.5L342.5 84.4L343 80.5L343.5 76.7L344.1 73.1L344.7 69.5L345.5 66L346.4 62.4L347.5 58.8L348.8 55.3L350.7 51.9L353.4 49.2L356.9 47.4L360.9 46.7L364.9 46.8L368.7 47.2L372.2 47.8L375.3 48.4L378.2 48.9L380.9 49.2L383.6 49.4L386.4 49.4L389.2 49.3L392.3 49.3L395.6 49.2L399.2 49.4L403.1 49.7L407 50.7L410.5 52.4L413.2 55.1L415 58.5L416.3 62.1L417.1 65.7L417.6 69.4L418 73.1Z" fill="#640000"/><path d="M468.9 91L474.6 95.4L482.5 101.5L488.7 108.8L490 115.9L488.3 122.2L485.7 128.2L482.3 133.9L477.2 138.2L470.4 140.2L463.5 141.1L457.1 141.8L451.1 141.9L445.4 141.6L440.1 141.6L435 141.5L430 141.1L425.1 140.7L420.2 140.2L415.3 139.5L410.3 138.6L405.1 137.5L399.7 136.3L394.2 134.6L388.9 132.1L383.9 128.8L379.3 124.8L374.6 120.6L369.4 116.1L363.7 111.1L358.1 105.3L354.2 98.5L353.5 91L354.6 83.6L356.8 76.4L359.7 69.7L363.3 63.4L367.7 57.7L372.8 52.7L378.3 48.6L384.1 45.1L390 42.3L396.1 40.2L402.2 39L408.2 38.3L413.9 38L419.5 38.1L424.8 38.5L430 39.3L435 40.7L439.6 42.7L443.9 45.1L447.9 47.8L451.6 50.6L454.8 53.9L457.5 57.5L459.6 61.4L461.3 65.3L462.5 69.3L463.3 73.2L464.1 76.9L464.7 80.5L464.9 84.1L465.9 87.5Z" fill="#670000"/><path d="M417.2 76.7L417.2 80.3L417 83.9L416.5 87.5L415.8 91.1L414.7 94.8L413.4 98.4L411.8 102L409.7 105.5L407.3 108.8L404.4 111.9L401.1 114.4L397.4 116.4L393.4 117.8L389.3 118.9L385.2 119.8L380.9 120.5L376.6 121L372.1 121.3L367.4 121.4L362.5 121.3L357.2 121.2L351.6 120.6L346.7 118.4L343.7 114L342.6 108.2L342.4 102.5L342.5 97.2L342.8 92.5L343.2 88.2L343.6 84.1L344.1 80.3L344.6 76.7L345.2 73.2L345.9 69.7L346.7 66.3L347.6 62.9L348.7 59.5L350 56.1L351.9 52.9L354.5 50.3L357.9 48.7L361.7 48L365.6 48L369.2 48.4L372.5 49L375.5 49.5L378.3 49.9L380.9 50.3L383.5 50.4L386.2 50.4L388.9 50.4L391.9 50.3L395 50.3L398.5 50.4L402.2 50.8L406 51.7L409.5 53.3L412.2 55.8L414 59L415.3 62.5L416.1 66L416.7 69.6L417 73.2Z" fill="#700000"/><path d="M467.6 91L473 95.2L480.9 101.1L487.1 108.3L488.5 115.2L486.9 121.4L484.4 127.4L481 132.8L475.9 136.9L469.3 138.9L462.6 139.8L456.4 140.4L450.5 140.6L444.9 140.3L439.8 140.2L434.8 140.1L430 139.7L425.2 139.2L420.5 138.7L415.7 138L410.9 137L405.9 136L400.8 134.8L395.5 133.1L390.3 130.7L385.7 127.3L381.4 123.4L377.1 119.3L372.2 114.9L366.9 110.1L361.7 104.6L357.7 98.1L356.7 91L357.7 83.9L359.7 77L362.5 70.5L365.8 64.4L369.9 58.9L374.7 54L380 50L385.6 46.6L391.3 43.8L397.1 41.8L403 40.5L408.8 39.9L414.4 39.6L419.8 39.7L425 40.1L430 40.8L434.8 42.2L439.3 44.2L443.5 46.6L447.3 49.2L450.9 52L454 55.1L456.5 58.7L458.6 62.4L460.3 66.2L461.3 70.1L462.2 73.8L462.9 77.4L463.5 80.8L463.7 84.3L464.7 87.6Z" fill="#730000"/><path d="M416.3 76.7L416.3 80.2L416.1 83.7L415.6 87.2L414.9 90.8L413.9 94.3L412.5 97.8L410.9 101.3L408.9 104.7L406.5 107.9L403.7 110.7L400.4 113.2L396.8 115L392.9 116.3L389 117.3L385 118.1L380.9 118.7L376.8 119.1L372.5 119.3L368 119.4L363.3 119.3L358.2 119.2L352.8 118.8L347.9 117L344.8 112.9L343.6 107.3L343.5 101.8L343.6 96.7L343.9 92L344.3 87.8L344.8 83.9L345.3 80.2L345.8 76.7L346.4 73.3L347.1 70L347.9 66.7L348.8 63.4L349.8 60.1L351.2 56.8L353.1 53.8L355.7 51.4L359 49.9L362.6 49.3L366.3 49.3L369.7 49.7L372.9 50.1L375.7 50.6L378.4 51L380.9 51.3L383.4 51.4L386 51.4L388.6 51.4L391.4 51.4L394.5 51.4L397.8 51.5L401.3 51.9L404.9 52.7L408.4 54.2L411.1 56.5L413 59.6L414.3 62.9L415.2 66.3L415.8 69.8L416.1 73.2Z" fill="#7b0000"/><path d="M466.4 91L471.5 95.1L479.2 100.8L485.5 107.8L487 114.6L485.5 120.7L483.1 126.5L479.7 131.8L474.7 135.7L468.2 137.6L461.7 138.5L455.7 139.1L450 139.2L444.5 138.9L439.5 138.8L434.7 138.6L430 138.2L425.4 137.8L420.8 137.2L416.2 136.5L411.6 135.5L406.8 134.5L401.8 133.3L396.7 131.6L391.8 129.2L387.5 125.9L383.5 122L379.6 118L375 113.8L370.1 109.2L365.3 103.9L361.3 97.8L359.9 91L360.7 84.2L362.6 77.6L365.2 71.3L368.4 65.5L372.1 60.1L376.6 55.3L381.7 51.4L387 48L392.5 45.3L398.2 43.3L403.9 42.1L409.5 41.4L414.9 41.2L420.1 41.2L425.1 41.6L430 42.4L434.6 43.8L439 45.8L443 48.1L446.7 50.6L450.1 53.3L453.1 56.4L455.6 59.8L457.6 63.4L459.2 67L460.2 70.8L461 74.4L461.8 77.8L462.3 81.2L462.5 84.5L463.6 87.7Z" fill="#7e0000"/><path d="M415.4 76.7L415.4 80.1L415.2 83.5L414.8 87L414 90.4L413 93.8L411.6 97.2L410 100.6L408 103.8L405.7 106.8L402.9 109.6L399.7 111.9L396.2 113.5L392.5 114.7L388.7 115.6L384.8 116.3L380.9 116.8L377 117.1L372.9 117.3L368.6 117.3L364.2 117.2L359.3 117.2L354 117L349.1 115.5L345.9 111.8L344.7 106.4L344.5 101L344.7 96.1L345 91.6L345.4 87.5L345.9 83.7L346.4 80.1L347 76.7L347.6 73.4L348.3 70.2L349 67L349.9 63.9L351 60.7L352.4 57.6L354.2 54.8L356.8 52.6L360 51.2L363.5 50.6L367 50.6L370.2 50.9L373.2 51.3L376 51.7L378.5 52.1L380.9 52.3L383.3 52.4L385.8 52.4L388.3 52.4L391 52.4L393.9 52.5L397 52.6L400.4 53L403.9 53.7L407.3 55.1L410.1 57.3L412 60.1L413.3 63.3L414.2 66.6L414.8 70L415.2 73.3Z" fill="#940000"/><path d="M465.6 91L470.5 95L477.8 100.5L483.7 107.3L485.4 113.9L483.9 119.8L481.6 125.4L478.3 130.6L473.3 134.3L467 136.1L460.7 137L454.9 137.6L449.3 137.7L444.1 137.4L439.2 137.3L434.5 137.1L430 136.6L425.6 136.2L421.1 135.6L416.7 134.9L412.2 133.9L407.6 132.9L402.8 131.7L398 130L393.4 127.6L389.4 124.3L385.9 120.5L382.3 116.5L378.3 112.4L373.7 108.1L369.3 103.1L365.4 97.4L363.8 91L364.3 84.5L366 78.3L368.4 72.3L371.2 66.7L374.6 61.4L378.8 56.8L383.6 52.9L388.7 49.7L393.9 47.1L399.3 45.1L404.8 43.9L410.2 43.2L415.4 43L420.5 43L425.3 43.4L430 44.2L434.5 45.6L438.7 47.5L442.5 49.8L446.1 52.2L449.3 54.8L452.1 57.9L454.5 61.1L456.5 64.5L458 68L459 71.6L459.8 75L460.6 78.3L461.1 81.6L461.5 84.7L462.7 87.8Z" fill="#a10000"/><path d="M414.4 76.7L414.4 80L414.2 83.3L413.6 86.6L412.8 89.9L411.7 93.2L410.3 96.3L408.6 99.4L406.5 102.3L404.2 105L401.4 107.4L398.4 109.3L395 110.7L391.5 111.7L388 112.4L384.5 112.9L380.9 113.2L377.3 113.4L373.6 113.6L369.8 113.6L365.7 113.5L361.3 113.4L356.4 113.5L351.3 112.8L347.4 110.2L345.8 105.5L345.6 100.3L345.8 95.5L346.1 91.1L346.5 87.1L347 83.5L347.6 80L348.1 76.7L348.8 73.5L349.5 70.5L350.3 67.4L351.2 64.4L352.3 61.4L353.7 58.5L355.6 55.9L358.1 53.9L361.2 52.7L364.5 52.2L367.8 52.2L370.9 52.4L373.7 52.8L376.2 53.1L378.6 53.5L380.9 53.7L383.2 53.8L385.5 53.8L387.9 53.8L390.4 53.8L393.2 53.8L396.2 53.9L399.4 54.2L402.8 54.9L406.1 56.1L408.9 58.1L410.8 60.7L412.2 63.8L413.1 66.9L413.8 70.2L414.2 73.4Z" fill="#b80000"/><path d="M465.7 91L470.7 95L476.8 100.3L481.7 106.7L483.3 113.1L481.9 118.8L479.7 124.2L476.6 129.3L471.8 132.8L465.6 134.4L459.6 135.2L454 135.8L448.6 135.8L443.5 135.6L438.8 135.5L434.4 135.3L430 134.8L425.7 134.4L421.5 133.8L417.2 133.1L413 132.1L408.5 131.2L403.9 130L399.4 128.3L395.2 125.8L391.7 122.4L388.7 118.6L385.7 114.7L382.3 110.7L378.4 106.7L374.2 102.1L370.6 96.9L368.8 91L368.9 85L370.2 79.1L372.2 73.5L374.7 68.1L377.8 63.1L381.5 58.6L386 54.9L390.7 51.7L395.7 49.2L400.8 47.2L406 46L411.1 45.4L416.1 45.1L420.9 45.2L425.5 45.6L430 46.4L434.3 47.7L438.2 49.6L441.9 51.7L445.3 54L448.4 56.6L451 59.6L453.2 62.7L455.1 65.9L456.6 69.2L457.7 72.5L458.6 75.7L459.4 78.8L459.9 81.9L460.6 84.9L462.3 87.8Z" fill="#c70000"/><path d="M413.3 76.7L413.3 79.9L413.1 83.1L412.5 86.3L411.7 89.4L410.4 92.5L408.9 95.4L407.1 98.2L405 100.8L402.7 103.2L400 105.2L397 106.8L393.8 107.9L390.6 108.6L387.4 109.1L384.2 109.5L380.9 109.7L377.7 109.8L374.3 109.8L370.9 109.8L367.3 109.7L363.3 109.7L358.7 110L353.5 110.1L348.9 108.7L347 104.6L346.7 99.6L346.8 94.9L347.2 90.7L347.6 86.8L348.2 83.2L348.7 79.9L349.3 76.7L350 73.7L350.7 70.7L351.5 67.8L352.4 64.9L353.6 62.1L355 59.4L356.9 57L359.5 55.2L362.4 54.2L365.6 53.7L368.7 53.7L371.5 54L374.1 54.3L376.5 54.6L378.8 54.9L380.9 55.1L383.1 55.1L385.2 55.1L387.5 55.1L389.9 55.1L392.5 55.1L395.3 55.2L398.3 55.5L401.6 56.1L404.8 57.1L407.6 58.9L409.7 61.3L411.1 64.2L412.1 67.3L412.7 70.4L413.1 73.5Z" fill="#dd0000"/><path d="M465.8 91L470.9 95L475.8 100.1L479.6 106.1L481.2 112.2L480 117.7L477.9 123L475 127.9L470.3 131.3L464.3 132.8L458.4 133.5L453 134L447.8 134L443 133.7L438.5 133.7L434.2 133.4L430 133L425.9 132.5L421.8 132L417.8 131.3L413.7 130.3L409.5 129.4L405.1 128.3L400.8 126.6L397 124L394 120.5L391.5 116.7L389.1 112.9L386.4 109.1L383 105.3L379 101.1L375.7 96.3L373.8 91L373.5 85.4L374.4 79.9L376 74.6L378.2 69.6L380.9 64.7L384.3 60.4L388.4 56.8L392.8 53.8L397.4 51.3L402.2 49.4L407.1 48.2L412 47.6L416.7 47.3L421.3 47.4L425.7 47.8L430 48.5L434.1 49.9L437.8 51.6L441.3 53.6L444.6 55.9L447.4 58.4L449.8 61.3L451.9 64.3L453.7 67.3L455.2 70.3L456.3 73.4L457.3 76.4L458.2 79.3L458.8 82.3L459.8 85.1L461.9 87.9Z" fill="#ed0000"/><path d="M412.3 76.7L412.3 79.8L412 82.9L411.4 86L410.5 89L409.2 91.8L407.6 94.5L405.7 97L403.6 99.3L401.1 101.3L398.5 103L395.7 104.3L392.7 105.1L389.7 105.6L386.7 105.9L383.8 106L380.9 106.1L378 106.2L375.1 106.1L372 106.1L368.8 106L365.3 106L361 106.5L355.7 107.4L350.5 107.2L348.1 103.7L347.7 98.9L347.9 94.4L348.3 90.2L348.8 86.5L349.3 83L349.9 79.8L350.5 76.7L351.2 73.8L351.9 70.9L352.7 68.2L353.7 65.4L354.8 62.8L356.3 60.2L358.3 58.1L360.8 56.6L363.7 55.7L366.6 55.3L369.5 55.3L372.1 55.5L374.6 55.8L376.8 56L378.9 56.3L380.9 56.4L382.9 56.5L385 56.5L387.1 56.5L389.3 56.5L391.8 56.5L394.4 56.6L397.3 56.8L400.4 57.2L403.6 58.1L406.4 59.7L408.5 62L410 64.7L411 67.6L411.7 70.6L412.1 73.6Z" fill="#ff0200"/><path d="M465.8 91L471 95L474.8 99.9L477.6 105.4L479.2 111.4L478 116.7L476.1 121.8L473.3 126.6L468.7 129.7L462.9 131.1L457.3 131.8L452 132.2L447 132.1L442.4 131.9L438.1 131.9L434 131.6L430 131.2L426.1 130.7L422.2 130.2L418.3 129.5L414.4 128.6L410.4 127.7L406.2 126.6L402.2 124.9L398.8 122.2L396.3 118.7L394.3 114.9L392.4 111.1L390.3 107.4L387.5 103.9L383.8 100.2L380.8 95.8L378.6 91L378 85.9L378.5 80.8L379.8 75.8L381.7 71L383.9 66.4L386.9 62.2L390.7 58.7L394.8 55.8L399.1 53.4L403.6 51.5L408.3 50.3L412.9 49.7L417.4 49.5L421.7 49.5L426 49.9L430 50.7L433.8 52L437.4 53.6L440.8 55.5L443.8 57.7L446.5 60.2L448.7 63L450.6 65.9L452.4 68.6L453.8 71.4L455 74.3L456.1 77.1L457 79.8L457.7 82.6L458.9 85.3L461.5 87.9Z" fill="#ff1500"/><path d="M411.4 76.7L411.4 79.7L411.1 82.7L410.4 85.7L409.4 88.5L408 91.2L406.3 93.7L404.3 95.9L402.2 97.9L399.8 99.7L397.2 101L394.5 102L391.7 102.7L388.9 103L386.2 103.2L383.6 103.3L380.9 103.3L378.3 103.3L375.7 103.3L372.9 103.2L370 103.1L366.8 103.2L362.9 103.7L357.8 104.9L352.3 105.4L349.2 102.8L348.6 98.3L348.8 93.9L349.2 89.9L349.7 86.2L350.3 82.8L350.9 79.7L351.6 76.7L352.3 73.9L353.1 71.2L353.9 68.5L354.9 65.9L356.1 63.4L357.5 61.1L359.5 59.1L362 57.8L364.7 57L367.5 56.7L370.2 56.7L372.7 56.8L375 57L377.1 57.3L379 57.5L380.9 57.6L382.8 57.7L384.7 57.7L386.7 57.6L388.8 57.6L391.1 57.6L393.6 57.7L396.4 57.9L399.4 58.3L402.5 59.1L405.3 60.4L407.5 62.5L409 65.1L410 67.9L410.7 70.8L411.2 73.7Z" fill="#ff2700"/><path d="M464.8 91L470 94.9L473.6 99.7L476.2 105L477.9 110.9L476.9 116.1L475 121.1L472.2 125.6L467.6 128.6L461.9 129.8L456.4 130.5L451.3 130.9L446.5 130.8L442 130.6L437.8 130.4L433.9 130.1L430 129.7L426.2 129.3L422.5 128.8L418.8 128.1L415 127.2L411.1 126.3L407.2 125.2L403.3 123.5L400 121L397.5 117.7L395.4 114.1L393.4 110.6L391.2 107.1L388.5 103.6L385.3 99.9L382.6 95.7L380.7 91L380.1 86.1L380.6 81.2L381.8 76.4L383.6 71.8L385.8 67.4L388.6 63.3L392.1 59.9L396 57L400.1 54.6L404.4 52.7L408.9 51.6L413.4 50.9L417.8 50.7L422 50.8L426.1 51.2L430 52L433.7 53.3L437.2 54.9L440.4 56.8L443.3 58.9L445.8 61.4L448 64.1L449.9 66.8L451.6 69.4L453 72.1L454.2 74.8L455.2 77.5L456.2 80.2L456.8 82.9L458 85.4L460.5 88Z" fill="#ff3b00"/><path d="M410.5 76.7L410.5 79.6L410.2 82.5L409.5 85.4L408.3 88.1L406.8 90.6L405.1 92.8L403 94.8L400.8 96.6L398.5 98.1L396 99.2L393.4 100L390.8 100.5L388.2 100.8L385.8 101L383.3 101.1L380.9 101.1L378.5 101.1L376.1 101L373.6 101L370.9 100.9L368 100.9L364.5 101.3L359.9 102.4L354.2 103.4L350.2 101.9L349.3 97.8L349.5 93.5L350 89.5L350.6 85.9L351.2 82.6L351.9 79.6L352.6 76.7L353.4 74L354.2 71.4L355.1 68.9L356.1 66.4L357.3 64.1L358.7 61.9L360.7 60.1L363.1 58.9L365.7 58.1L368.3 57.9L370.8 57.8L373.2 58L375.3 58.1L377.3 58.3L379.1 58.5L380.9 58.6L382.7 58.7L384.5 58.7L386.4 58.7L388.4 58.6L390.6 58.6L393 58.7L395.6 58.8L398.5 59.2L401.4 59.9L404.3 61.1L406.5 63.1L408 65.5L409 68.2L409.8 71L410.3 73.8Z" fill="#ff4c00"/><path d="M463.7 91L469 94.8L472.4 99.4L474.8 104.6L476.7 110.3L475.8 115.5L473.9 120.3L471.1 124.7L466.4 127.4L460.8 128.6L455.5 129.2L450.6 129.5L445.9 129.4L441.6 129.2L437.5 128.9L433.7 128.6L430 128.2L426.4 127.8L422.8 127.3L419.2 126.7L415.6 125.8L411.9 124.9L408.1 123.7L404.5 122.1L401.3 119.7L398.7 116.7L396.5 113.4L394.4 110L392.1 106.7L389.5 103.3L386.7 99.6L384.4 95.5L382.8 91L382.3 86.3L382.7 81.6L383.8 77L385.5 72.6L387.6 68.3L390.2 64.4L393.6 61.1L397.3 58.3L401.2 55.9L405.3 54L409.6 52.8L413.9 52.2L418.1 51.9L422.2 52L426.2 52.4L430 53.3L433.6 54.6L436.9 56.2L440 58.1L442.8 60.1L445.2 62.5L447.3 65.1L449.1 67.7L450.8 70.2L452.2 72.8L453.3 75.4L454.4 78L455.3 80.5L455.9 83.1L457.1 85.6L459.5 88.1Z" fill="#ff6200"/><path d="M409.7 76.7L409.7 79.5L409.4 82.4L408.6 85.1L407.3 87.6L405.7 90L403.8 92L401.7 93.8L399.5 95.3L397.2 96.5L394.8 97.4L392.3 98.1L389.9 98.4L387.6 98.6L385.3 98.8L383.1 98.8L380.9 98.8L378.8 98.8L376.5 98.8L374.3 98.7L371.8 98.7L369.2 98.7L366 99L361.9 99.9L356.2 101.4L351.3 101.1L350.1 97.3L350.3 93.1L350.8 89.2L351.5 85.7L352.2 82.4L352.9 79.5L353.6 76.7L354.4 74.1L355.3 71.6L356.2 69.2L357.3 66.9L358.5 64.7L360 62.7L361.9 61.1L364.2 60L366.7 59.3L369.1 59L371.5 59L373.6 59.1L375.6 59.3L377.5 59.4L379.2 59.6L380.9 59.7L382.6 59.7L384.3 59.7L386.1 59.7L388 59.6L390.1 59.6L392.3 59.7L394.8 59.8L397.5 60.1L400.4 60.7L403.2 61.8L405.4 63.6L407 65.9L408.1 68.5L408.9 71.2L409.4 73.9Z" fill="#ff7000"/><path d="M462.7 91L468 94.7L471.2 99.2L473.4 104.2L475.5 109.8L474.6 114.9L472.8 119.6L469.9 123.8L465.2 126.2L459.8 127.3L454.7 127.9L449.9 128.2L445.3 128L441.2 127.8L437.3 127.5L433.6 127.1L430 126.7L426.5 126.3L423.1 125.9L419.6 125.3L416.2 124.4L412.6 123.5L409.1 122.3L405.7 120.7L402.5 118.5L399.9 115.7L397.6 112.7L395.4 109.5L393 106.3L390.6 103L388.2 99.3L386.3 95.3L384.8 91L384.4 86.5L384.8 82L385.8 77.6L387.4 73.4L389.4 69.3L391.9 65.5L395 62.3L398.5 59.5L402.2 57.1L406.1 55.2L410.2 54L414.4 53.4L418.5 53.2L422.5 53.3L426.3 53.7L430 54.6L433.5 55.9L436.7 57.5L439.6 59.3L442.3 61.4L444.6 63.7L446.6 66.2L448.4 68.6L450 71L451.4 73.5L452.5 76L453.5 78.4L454.4 80.9L455.1 83.4L456.2 85.8L458.5 88.2Z" fill="#ff8800"/><path d="M408.8 76.7L408.8 79.5L408.5 82.2L407.6 84.8L406.3 87.2L404.5 89.3L402.6 91.2L400.4 92.7L398.2 93.9L395.9 94.9L393.6 95.7L391.3 96.1L389.1 96.3L386.9 96.5L384.9 96.6L382.9 96.6L380.9 96.6L379 96.6L377 96.6L374.9 96.5L372.7 96.5L370.3 96.6L367.6 96.7L363.9 97.5L358.2 99.4L352.4 100.1L350.8 96.8L351 92.7L351.6 88.9L352.3 85.4L353.1 82.3L353.9 79.4L354.7 76.7L355.5 74.2L356.4 71.8L357.4 69.6L358.4 67.4L359.7 65.3L361.2 63.5L363.1 62.1L365.3 61L367.6 60.5L369.9 60.2L372.1 60.2L374.1 60.2L376 60.4L377.7 60.5L379.3 60.6L380.9 60.7L382.5 60.7L384.1 60.7L385.8 60.7L387.6 60.7L389.5 60.7L391.6 60.7L394 60.8L396.6 61.1L399.4 61.6L402.1 62.6L404.4 64.2L406 66.3L407.2 68.8L408 71.3L408.5 74Z" fill="#ff9500"/><path d="M461.8 91L467 94.6L470.1 99L472.1 103.8L474 109.2L473.3 114.1L471.5 118.7L468.4 122.5L463.6 124.6L458.3 125.4L453.3 125.8L448.6 125.8L444.3 125.6L440.4 125.4L436.8 125.1L433.3 124.7L430 124.4L426.7 124.2L423.5 123.9L420.2 123.5L416.9 122.7L413.5 121.8L410.2 120.6L406.9 119.1L403.9 117.1L401.2 114.7L398.7 111.9L396.4 109L394.1 105.9L392 102.5L390 99L388.4 95.1L387.2 91L386.8 86.7L387.2 82.5L388.1 78.3L389.5 74.2L391.4 70.3L393.7 66.7L396.6 63.6L399.9 60.9L403.4 58.6L407.1 56.7L411 55.5L415 54.9L419 54.6L422.8 54.7L426.5 55.2L430 56.2L433.3 57.5L436.3 59.1L439.1 60.9L441.7 62.9L443.9 65.1L445.8 67.3L447.6 69.6L449.2 71.8L450.5 74.2L451.7 76.5L452.7 78.9L453.7 81.2L454.4 83.6L455.4 85.9L457.6 88.3Z" fill="#ffae00"/><path d="M407.9 76.7L407.9 79.4L407.5 82L406.5 84.5L405 86.7L403.1 88.6L401.1 90.2L398.9 91.5L396.8 92.6L394.6 93.4L392.5 94L390.3 94.3L388.3 94.5L386.4 94.6L384.5 94.7L382.7 94.7L380.9 94.7L379.2 94.7L377.4 94.7L375.5 94.7L373.5 94.7L371.3 94.7L368.8 94.9L365.5 95.5L360.6 97.1L354.8 98.1L351.7 96.3L351.5 92.4L352.2 88.6L353 85.2L353.9 82.1L354.7 79.3L355.6 76.7L356.5 74.3L357.5 72L358.5 69.9L359.6 67.9L360.8 66L362.3 64.3L364.2 62.9L366.2 62L368.5 61.5L370.6 61.3L372.7 61.2L374.5 61.3L376.3 61.4L377.9 61.5L379.4 61.6L380.9 61.7L382.4 61.7L383.9 61.7L385.5 61.7L387.2 61.7L389 61.7L391 61.7L393.2 61.8L395.6 62L398.3 62.5L401 63.3L403.3 64.8L405 66.8L406.2 69.1L407 71.5L407.6 74.1Z" fill="#ffba00"/><path d="M460.9 91L466 94.5L468.9 98.7L470.7 103.4L472.5 108.6L471.8 113.4L470 117.8L466.7 121.1L461.7 122.7L456.6 123.4L451.7 123.4L447.2 123.1L443.2 122.8L439.6 122.5L436.2 122.3L433.1 122L430 121.8L427 121.8L423.9 121.7L420.8 121.4L417.6 120.8L414.5 120L411.3 118.9L408.2 117.6L405.2 115.8L402.4 113.6L399.9 111.1L397.5 108.4L395.3 105.4L393.5 102.1L391.9 98.6L390.6 94.9L389.7 91L389.4 87L389.7 83L390.4 79L391.7 75.1L393.4 71.4L395.6 68L398.3 65L401.3 62.3L404.6 60.1L408.2 58.3L411.9 57.1L415.7 56.4L419.4 56.2L423.1 56.3L426.6 56.8L430 57.9L433.1 59.3L436 60.9L438.6 62.6L441 64.5L443.1 66.5L445 68.6L446.7 70.7L448.3 72.7L449.6 74.9L450.8 77.1L451.9 79.3L452.9 81.5L453.7 83.8L454.7 86.1L456.9 88.4Z" fill="#ffd500"/><path d="M407 76.7L407 79.3L406.5 81.8L405.4 84.1L403.7 86.2L401.8 87.8L399.6 89.2L397.5 90.3L395.4 91.2L393.3 91.8L391.3 92.3L389.4 92.5L387.5 92.7L385.8 92.8L384.1 92.8L382.5 92.9L380.9 92.9L379.3 92.9L377.7 92.9L376 92.9L374.2 92.9L372.3 92.9L370 93.1L367.2 93.5L362.9 94.7L357.2 96.2L352.6 95.7L352.1 92.1L352.8 88.4L353.7 85L354.6 81.9L355.6 79.2L356.6 76.7L357.5 74.4L358.5 72.3L359.6 70.2L360.7 68.3L362 66.6L363.4 65L365.2 63.8L367.2 63L369.3 62.5L371.3 62.3L373.2 62.3L375 62.4L376.6 62.5L378.1 62.6L379.5 62.7L380.9 62.7L382.3 62.8L383.7 62.8L385.2 62.7L386.7 62.7L388.4 62.7L390.3 62.7L392.4 62.8L394.7 63L397.2 63.4L399.8 64.1L402.2 65.3L404 67.2L405.2 69.4L406 71.7L406.6 74.2Z" fill="#ffde00"/><path d="M460.1 91L465 94.4L467.8 98.5L469.4 103L471 108L470.4 112.6L468.6 116.8L465 119.7L459.9 120.9L454.8 121.3L450 121L445.7 120.4L442 120L438.7 119.7L435.7 119.4L432.8 119.3L430 119.2L427.2 119.3L424.3 119.5L421.4 119.4L418.4 118.9L415.5 118.2L412.5 117.2L409.5 116L406.5 114.5L403.7 112.6L401 110.4L398.5 107.8L396.5 104.9L395 101.6L393.8 98.2L392.9 94.7L392.2 91L392 87.3L392.2 83.5L392.8 79.7L393.9 76L395.4 72.5L397.4 69.2L399.9 66.3L402.8 63.8L405.9 61.6L409.2 59.9L412.7 58.7L416.3 58L419.9 57.7L423.4 57.9L426.8 58.5L430 59.6L433 61L435.7 62.6L438.1 64.3L440.3 66L442.3 67.9L444.2 69.8L445.8 71.7L447.4 73.6L448.7 75.6L450 77.7L451.1 79.7L452.2 81.8L453 84L454 86.2L456.2 88.4Z" fill="#fffb00"/><path d="M406 76.7L406 79.2L405.5 81.6L404.3 83.8L402.5 85.6L400.4 87.1L398.2 88.2L396 89.1L394 89.8L392 90.2L390.2 90.6L388.4 90.7L386.8 90.8L385.2 90.9L383.8 91L382.3 91L380.9 91L379.5 91L378.1 91L376.6 91L375 91.1L373.2 91.1L371.2 91.2L368.8 91.5L365.3 92.4L359.6 94.2L353.4 95.1L352.6 91.9L353.3 88.1L354.4 84.8L355.4 81.8L356.5 79.1L357.5 76.7L358.6 74.5L359.6 72.5L360.7 70.6L361.8 68.8L363.1 67.2L364.6 65.8L366.3 64.7L368.2 64L370.1 63.6L372 63.4L373.8 63.4L375.4 63.4L376.9 63.5L378.3 63.6L379.7 63.7L380.9 63.7L382.2 63.8L383.5 63.8L384.9 63.8L386.3 63.7L387.9 63.7L389.6 63.7L391.5 63.8L393.7 63.9L396.1 64.2L398.7 64.8L401.1 65.9L402.9 67.6L404.2 69.7L405.1 71.9L405.7 74.3Z" fill="#f8fe00"/><path d="M458.8 91L463.4 94.3L466.1 98.2L467.8 102.5L469.5 107.4L469 111.8L467.2 115.9L463.4 118.4L458.3 119.3L453.3 119.4L448.7 118.9L444.5 118.1L441.1 117.7L438 117.4L435.2 117.1L432.6 117L430 117.1L427.4 117.3L424.7 117.5L421.9 117.6L419.1 117.2L416.3 116.5L413.6 115.6L410.7 114.5L408 113L405.2 111.4L402.5 109.4L400.1 107L398.2 104.2L396.9 101.1L395.9 97.8L395 94.4L394.5 91L394.3 87.5L394.4 83.9L394.9 80.3L395.8 76.8L397.3 73.5L399.1 70.4L401.4 67.5L404.1 65.1L407.1 63.1L410.2 61.4L413.6 60.2L417 59.6L420.4 59.3L423.7 59.5L427 60.1L430 61.3L432.8 62.7L435.3 64.2L437.6 65.8L439.7 67.5L441.7 69.2L443.4 70.9L445 72.7L446.5 74.5L447.8 76.4L449.1 78.3L450.3 80.2L451.4 82.2L452.2 84.3L453.2 86.4L455.2 88.5Z" fill="#c2fa00"/><path d="M405.1 76.7L405 79.1L404.4 81.4L402.8 83.4L400.7 84.9L398.5 86.1L396.4 87L394.3 87.7L392.5 88.2L390.7 88.6L389 88.8L387.5 88.9L386 89L384.7 89L383.4 89.1L382.2 89.1L380.9 89.1L379.7 89.1L378.5 89.2L377.2 89.2L375.8 89.2L374.2 89.3L372.5 89.4L370.4 89.5L367.5 90.2L362.5 91.9L356.3 93.2L354.1 91.1L353.9 87.9L355 84.6L356.2 81.6L357.4 79L358.5 76.7L359.6 74.6L360.7 72.7L361.9 70.9L363 69.3L364.3 67.8L365.8 66.6L367.5 65.6L369.2 65L371 64.6L372.8 64.5L374.4 64.5L375.9 64.5L377.2 64.6L378.5 64.6L379.8 64.7L380.9 64.8L382.1 64.8L383.3 64.8L384.6 64.8L385.9 64.8L387.3 64.7L388.9 64.7L390.7 64.8L392.7 64.9L395 65.1L397.5 65.6L399.9 66.6L401.8 68.1L403.1 70L404.1 72.1L404.7 74.4Z" fill="#b8f900"/><path d="M457 91L460.8 94L463.5 97.7L465.8 101.8L467.9 106.7L467.6 111.1L465.8 114.9L462 117.2L457 118L452.2 118L447.6 117.3L443.7 116.5L440.4 116.1L437.5 115.8L434.9 115.6L432.4 115.5L430 115.6L427.6 115.8L425 116.1L422.4 116.1L419.7 115.8L417.1 115.1L414.6 114.1L412 112.9L409.5 111.5L407 109.9L404.6 108L402.3 105.8L400.5 103.2L399.1 100.4L398 97.4L397.1 94.2L396.5 91L396.1 87.7L396.2 84.3L396.6 80.9L397.5 77.5L398.8 74.3L400.6 71.3L402.8 68.6L405.3 66.3L408.1 64.3L411.1 62.8L414.3 61.7L417.6 61.2L420.9 61L424.1 61.3L427.1 61.9L430 63L432.6 64.3L435 65.7L437.2 67.1L439.3 68.6L441.1 70.2L442.8 71.8L444.3 73.5L445.7 75.3L447 77.1L448.2 78.9L449.3 80.7L450.3 82.6L451.1 84.6L452.2 86.6L454 88.6Z" fill="#7ff400"/><path d="M404 76.7L404 79L403.1 81.1L401.1 82.8L398.7 84.1L396.4 85L394.4 85.7L392.5 86.2L390.8 86.6L389.2 86.8L387.8 87L386.5 87.1L385.2 87.1L384.1 87.2L383 87.2L382 87.2L380.9 87.2L379.9 87.3L378.8 87.3L377.7 87.3L376.5 87.3L375.2 87.4L373.8 87.5L372 87.6L369.6 88.1L365.7 89.2L360.5 90.4L356.2 89.9L354.5 87.7L355.6 84.4L356.9 81.5L358.3 78.9L359.5 76.7L360.7 74.7L361.9 72.9L363.1 71.3L364.3 69.8L365.6 68.5L367 67.4L368.6 66.6L370.3 66.1L371.9 65.8L373.5 65.6L375 65.6L376.3 65.6L377.6 65.6L378.7 65.7L379.9 65.8L380.9 65.8L382 65.8L383.1 65.8L384.2 65.8L385.5 65.8L386.8 65.8L388.3 65.8L389.9 65.8L391.8 65.9L393.9 66.1L396.2 66.5L398.6 67.3L400.6 68.6L402 70.3L403 72.3L403.6 74.5Z" fill="#77f300"/><path d="M455.1 91L458.2 93.8L460.9 97.2L463.7 101.2L466.3 106.1L466.2 110.4L464.4 114L460.5 116L455.7 116.7L451 116.6L446.5 115.7L442.8 115L439.8 114.6L437.1 114.3L434.6 114.1L432.3 114L430 114.1L427.7 114.3L425.3 114.6L422.8 114.7L420.3 114.3L417.9 113.6L415.6 112.6L413.3 111.4L411 110L408.8 108.4L406.6 106.6L404.6 104.6L402.8 102.3L401.4 99.7L400.2 96.9L399.2 94L398.4 91L397.9 87.8L397.9 84.6L398.3 81.4L399.2 78.2L400.4 75.2L402 72.3L404.1 69.7L406.5 67.5L409.2 65.6L412 64.1L415.1 63.2L418.3 62.8L421.4 62.7L424.4 63L427.3 63.6L430 64.7L432.5 65.9L434.7 67.2L436.8 68.5L438.8 69.8L440.6 71.2L442.2 72.8L443.6 74.4L444.9 76.1L446.1 77.8L447.2 79.5L448.3 81.2L449.3 83L450.1 84.9L451.2 86.8L452.7 88.8Z" fill="#05eb59"/><path d="M403 76.7L402.9 78.9L401.8 80.9L399.4 82.3L396.7 83.2L394.3 83.9L392.3 84.3L390.6 84.7L389.1 84.9L387.8 85.1L386.6 85.1L385.5 85.2L384.5 85.3L383.5 85.3L382.6 85.3L381.8 85.3L380.9 85.4L380.1 85.4L379.2 85.4L378.3 85.4L377.3 85.5L376.2 85.5L375 85.6L373.6 85.7L371.7 86L368.8 86.6L364.6 87.6L358.4 88.8L355.1 87.4L356.2 84.2L357.7 81.3L359.2 78.9L360.5 76.7L361.8 74.8L363.1 73.2L364.3 71.7L365.5 70.3L366.8 69.2L368.3 68.3L369.8 67.6L371.3 67.1L372.8 66.9L374.3 66.7L375.6 66.7L376.8 66.7L377.9 66.7L379 66.8L380 66.8L380.9 66.8L381.9 66.8L382.9 66.8L383.9 66.8L385 66.8L386.2 66.8L387.6 66.8L389.1 66.8L390.8 66.9L392.8 67L395 67.3L397.3 68L399.4 69.1L400.9 70.7L401.9 72.5L402.6 74.6Z" fill="#00eb61"/><path d="M453.3 91L455.6 93.5L458.4 96.6L461.6 100.6L464.6 105.3L464.7 109.6L462.9 113L459.1 114.9L454.4 115.4L449.9 115.2L445.5 114.2L442 113.4L439.1 113.1L436.6 112.8L434.3 112.6L432.1 112.5L430 112.6L427.8 112.8L425.6 113.1L423.3 113.2L420.9 112.9L418.7 112.1L416.6 111.1L414.5 109.9L412.5 108.5L410.5 107L408.6 105.3L406.7 103.4L405.1 101.3L403.7 99L402.4 96.5L401.3 93.8L400.4 91L399.8 88L399.7 85L400.1 81.9L400.9 78.9L402 76L403.5 73.3L405.4 70.9L407.7 68.7L410.2 66.9L413 65.6L416 64.7L419 64.4L422 64.5L424.8 64.8L427.5 65.4L430 66.4L432.3 67.5L434.5 68.6L436.4 69.8L438.3 71L440 72.3L441.6 73.7L442.9 75.2L444.1 76.9L445.2 78.5L446.3 80.1L447.3 81.7L448.2 83.4L449.1 85.2L450.1 87L451.4 88.9Z" fill="#00f089"/><path d="M401.9 76.7L401.8 78.8L400.6 80.6L397.8 81.8L394.8 82.5L392.4 82.8L390.5 83.1L389 83.3L387.6 83.4L386.5 83.5L385.5 83.5L384.6 83.6L383.8 83.6L383 83.6L382.3 83.7L381.6 83.7L380.9 83.7L380.2 83.7L379.5 83.7L378.8 83.8L378 83.8L377.1 83.8L376.1 83.9L375 84L373.6 84.1L371.7 84.3L368.4 85.1L360.6 87.6L356.1 87L357.1 83.9L358.6 81.2L360.1 78.8L361.6 76.7L363 74.9L364.3 73.4L365.5 72L366.8 70.9L368.1 69.9L369.5 69.1L371 68.5L372.4 68.2L373.7 67.9L375 67.8L376.2 67.8L377.2 67.8L378.2 67.8L379.2 67.8L380.1 67.8L380.9 67.8L381.8 67.9L382.7 67.8L383.6 67.8L384.6 67.8L385.7 67.8L386.9 67.8L388.3 67.8L389.8 67.8L391.6 67.9L393.7 68.2L396 68.6L398.2 69.6L399.7 71L400.8 72.8L401.5 74.7Z" fill="#00f08a"/><path d="M400.8 76.7L400.7 78.7L399.3 80.4L396.7 81.5L394 82.1L391.8 82.5L390.1 82.8L388.6 83L387.4 83.1L386.3 83.2L385.3 83.3L384.5 83.4L383.7 83.4L383 83.4L382.3 83.5L381.6 83.5L380.9 83.5L380.3 83.6L379.6 83.6L378.8 83.6L378.1 83.6L377.2 83.7L376.3 83.7L375.2 83.7L373.9 83.8L372.2 83.9L369.5 84.4L363.5 86L359.8 85.5L360 83.1L360.6 80.8L361.7 78.6L363.1 76.7L364.4 75.1L365.7 73.7L367 72.5L368.2 71.4L369.5 70.6L370.8 69.9L372.1 69.4L373.3 69.1L374.5 68.9L375.7 68.8L376.7 68.8L377.6 68.7L378.5 68.7L379.3 68.7L380.1 68.7L380.9 68.7L381.7 68.7L382.5 68.7L383.4 68.7L384.3 68.7L385.2 68.7L386.3 68.7L387.5 68.7L388.9 68.7L390.5 68.8L392.4 69L394.6 69.4L396.6 70.2L398.3 71.4L399.5 73L400.3 74.8Z" fill="#00f6b3"/><path d="M451.3 91L453.3 93.3L455.7 96.1L458.4 99.6L461.1 103.9L461.8 108L460.8 111.6L457.6 113.6L453.4 114.4L449.1 114.3L445 113.4L441.6 112.7L438.8 112.2L436.3 111.8L434.1 111.5L432 111.3L430 111.4L428 111.6L425.9 111.8L423.7 111.9L421.5 111.6L419.3 111L417.3 110L415.3 108.9L413.5 107.5L411.7 106.1L409.9 104.4L408.3 102.6L406.7 100.6L405.3 98.5L404.1 96.1L403.1 93.6L402.3 91L401.9 88.2L401.9 85.4L402.2 82.6L402.9 79.8L403.9 77.1L405.4 74.6L407.3 72.4L409.4 70.4L411.8 68.8L414.4 67.6L417.1 66.9L419.9 66.6L422.6 66.6L425.2 66.8L427.7 67.3L430 68L432.2 68.9L434.2 69.9L436.1 71L437.8 72.2L439.4 73.4L440.9 74.8L442.1 76.2L443.2 77.8L444.2 79.3L445.1 80.9L446 82.4L446.8 84L447.6 85.7L448.5 87.3L449.7 89.1Z" fill="#00f6b4"/><path d="M399.7 76.7L399.5 78.5L398 80.1L395.6 81.2L393.2 81.8L391.2 82.2L389.6 82.5L388.3 82.7L387.1 82.9L386.1 83L385.2 83.1L384.4 83.1L383.6 83.2L382.9 83.2L382.2 83.3L381.6 83.3L380.9 83.4L380.3 83.4L379.6 83.4L378.9 83.4L378.1 83.5L377.3 83.5L376.4 83.5L375.4 83.5L374.2 83.5L372.7 83.5L370.5 83.7L366.4 84.5L363.5 83.9L362.8 82.2L362.6 80.4L363.3 78.5L364.6 76.7L365.9 75.2L367.2 74L368.4 72.9L369.6 72L370.8 71.3L372 70.7L373.2 70.3L374.3 70.1L375.3 69.9L376.3 69.8L377.2 69.7L378 69.7L378.8 69.7L379.5 69.6L380.2 69.6L380.9 69.6L381.6 69.6L382.3 69.6L383.1 69.6L383.9 69.6L384.7 69.6L385.7 69.6L386.8 69.6L388 69.6L389.5 69.7L391.2 69.9L393.1 70.2L395.1 70.8L396.9 71.9L398.2 73.3L399.2 74.9Z" fill="#00fbdc"/><path d="M449.3 91L451 93.1L453 95.6L455.2 98.7L457.6 102.4L459 106.5L458.6 110.1L456.1 112.4L452.4 113.4L448.3 113.3L444.4 112.6L441.2 111.9L438.4 111.3L436 110.8L433.9 110.4L431.9 110.1L430 110.1L428.1 110.3L426.1 110.6L424 110.6L422 110.4L419.9 109.8L418 109L416.1 107.9L414.4 106.6L412.8 105.1L411.3 103.5L409.8 101.8L408.3 100L407 98L405.9 95.8L405 93.5L404.3 91L404 88.4L404.1 85.8L404.3 83.2L404.9 80.6L405.9 78.1L407.3 75.8L409.1 73.8L411.2 72.2L413.4 70.8L415.8 69.7L418.3 69L420.8 68.7L423.2 68.7L425.6 68.8L427.8 69.1L430 69.6L432 70.4L433.9 71.2L435.7 72.2L437.3 73.3L438.8 74.5L440.1 75.8L441.3 77.2L442.3 78.7L443.2 80.2L444 81.7L444.7 83.1L445.4 84.6L446.1 86.1L446.9 87.6L448 89.2Z" fill="#00fbdf"/><path d="M398.6 76.7L398.3 78.4L396.7 79.9L394.5 80.8L392.4 81.5L390.6 81.9L389.2 82.2L387.9 82.4L386.8 82.6L385.9 82.7L385 82.8L384.2 82.9L383.5 83L382.9 83L382.2 83.1L381.6 83.1L380.9 83.2L380.3 83.2L379.6 83.3L378.9 83.3L378.2 83.3L377.4 83.3L376.5 83.3L375.6 83.3L374.4 83.2L373.2 83.1L371.6 83L369.4 82.9L367.3 82.4L365.6 81.4L364.5 80L364.9 78.3L366.1 76.7L367.4 75.4L368.7 74.3L369.9 73.4L371 72.6L372.1 72L373.2 71.6L374.3 71.3L375.2 71L376.1 70.9L377 70.8L377.7 70.7L378.4 70.6L379.1 70.6L379.7 70.6L380.3 70.5L380.9 70.5L381.5 70.5L382.2 70.5L382.8 70.5L383.5 70.5L384.3 70.5L385.1 70.5L386 70.5L387.1 70.5L388.4 70.6L389.9 70.7L391.6 71L393.6 71.5L395.5 72.3L396.9 73.5L398 75Z" fill="#00f9ff"/><path d="M447.3 91L448.7 92.8L450.3 95L452 97.7L454.1 101L456.1 104.9L456.5 108.7L454.5 111.1L451.4 112.4L447.6 112.4L443.9 111.8L440.8 111.2L438 110.4L435.7 109.8L433.6 109.3L431.8 109L430 108.9L428.2 109L426.4 109.3L424.4 109.4L422.5 109.1L420.5 108.7L418.7 108L416.9 106.9L415.4 105.6L414 104.1L412.6 102.6L411.3 101L410 99.3L408.7 97.5L407.6 95.4L406.8 93.3L406.3 91L406.2 88.7L406.2 86.3L406.5 83.9L406.9 81.4L407.8 79.2L409.2 77.1L410.9 75.3L412.9 73.9L415 72.7L417.2 71.8L419.4 71.2L421.7 70.9L423.9 70.8L426 70.8L428 71L430 71.3L431.9 71.8L433.7 72.5L435.3 73.4L436.8 74.5L438.2 75.6L439.4 76.9L440.5 78.2L441.4 79.6L442.1 81L442.8 82.5L443.4 83.8L444 85.2L444.6 86.6L445.3 88L446.2 89.4Z" fill="#00f5ff"/><path d="M397.3 76.7L396.9 78.3L395.2 79.6L393.1 80.4L391.3 81L389.7 81.4L388.4 81.7L387.3 81.9L386.3 82.1L385.4 82.2L384.7 82.3L384 82.4L383.3 82.4L382.7 82.5L382.1 82.5L381.5 82.6L380.9 82.6L380.3 82.7L379.7 82.7L379.1 82.7L378.4 82.7L377.7 82.7L376.9 82.7L376 82.7L375 82.6L373.9 82.5L372.6 82.3L371.1 82L369.3 81.5L367.5 80.8L366.1 79.7L366.2 78.2L367.4 76.7L368.7 75.5L370 74.5L371.2 73.8L372.3 73.1L373.3 72.6L374.3 72.3L375.2 72L376.1 71.8L376.8 71.7L377.5 71.6L378.2 71.5L378.8 71.5L379.3 71.4L379.9 71.4L380.4 71.4L380.9 71.4L381.5 71.3L382 71.3L382.6 71.3L383.2 71.3L383.8 71.3L384.5 71.3L385.3 71.3L386.3 71.4L387.4 71.4L388.7 71.5L390.3 71.7L392.2 72L394.2 72.7L395.7 73.8L396.8 75.1Z" fill="#00d5ff"/><path d="M446.2 91L447.4 92.7L448.8 94.7L450.3 97.2L452.1 100.2L454.1 103.9L454.5 107.4L452.9 109.8L450.1 111.1L446.5 111.1L443.1 110.6L440.2 110L437.6 109.3L435.4 108.7L433.4 108.2L431.7 107.8L430 107.7L428.4 107.7L426.7 107.8L424.9 107.8L423.1 107.6L421.4 107.2L419.6 106.5L418.1 105.5L416.7 104.3L415.4 103L414.1 101.6L412.8 100.2L411.6 98.6L410.4 96.9L409.3 95.1L408.5 93.1L407.9 91L407.7 88.8L407.7 86.6L407.9 84.3L408.4 82L409.2 79.9L410.5 78L412.1 76.3L414 75L415.9 73.9L418 73L420.1 72.5L422.2 72.2L424.3 72.1L426.2 72.1L428.2 72.3L430 72.5L431.8 73L433.4 73.7L435 74.6L436.4 75.5L437.7 76.6L438.8 77.8L439.8 79L440.7 80.3L441.4 81.7L442 83L442.5 84.3L443.1 85.6L443.7 86.9L444.4 88.1L445.2 89.5Z" fill="#00cfff"/><path d="M395.9 76.7L395.2 78.1L393.5 79.2L391.7 80L390 80.5L388.6 80.8L387.4 81.1L386.5 81.2L385.6 81.4L384.8 81.5L384.2 81.6L383.6 81.6L383 81.7L382.5 81.8L381.9 81.8L381.4 81.8L380.9 81.9L380.4 81.9L379.9 81.9L379.3 82L378.8 82L378.1 82L377.4 82L376.6 82L375.7 81.9L374.7 81.8L373.6 81.6L372.2 81.4L370.6 81L368.9 80.4L367.5 79.4L367.5 78L368.6 76.7L369.9 75.6L371.2 74.8L372.4 74.1L373.4 73.6L374.4 73.2L375.2 72.9L376 72.7L376.8 72.6L377.4 72.4L378 72.4L378.6 72.3L379.1 72.3L379.6 72.2L380 72.2L380.5 72.2L380.9 72.2L381.4 72.1L381.8 72.1L382.3 72.1L382.8 72.1L383.4 72.1L384 72.1L384.7 72.1L385.5 72.1L386.5 72.2L387.7 72.2L389.1 72.3L390.9 72.6L392.8 73.1L394.5 74L395.6 75.3Z" fill="#00b0ff"/><path d="M445.3 91L446.4 92.6L447.7 94.5L449 96.8L450.7 99.6L452.4 103L452.7 106.1L451.1 108.3L448.6 109.6L445.3 109.6L442.2 109.2L439.5 108.7L437.1 108.1L435 107.5L433.2 107L431.5 106.7L430 106.5L428.5 106.4L426.9 106.4L425.4 106.2L423.8 105.9L422.3 105.5L420.7 104.9L419.3 104L418.1 102.9L416.8 101.8L415.6 100.6L414.4 99.3L413.2 97.9L412.1 96.4L411 94.8L410.1 93L409.4 91L409.1 88.9L409 86.8L409.2 84.7L409.6 82.5L410.4 80.5L411.6 78.7L413.1 77.1L414.8 75.8L416.7 74.8L418.6 74L420.7 73.5L422.7 73.3L424.6 73.2L426.5 73.3L428.3 73.4L430 73.7L431.7 74.1L433.2 74.8L434.7 75.6L436 76.5L437.2 77.6L438.3 78.6L439.2 79.8L440 81L440.7 82.2L441.3 83.5L441.8 84.7L442.4 85.9L442.9 87.1L443.6 88.3L444.4 89.6Z" fill="#00a8ff"/><path d="M394.5 76.7L393.5 78L391.9 78.9L390.2 79.5L388.7 79.9L387.5 80.2L386.5 80.4L385.6 80.6L384.9 80.7L384.3 80.8L383.7 80.9L383.2 80.9L382.7 81L382.2 81L381.8 81L381.4 81.1L380.9 81.1L380.5 81.1L380 81.2L379.6 81.2L379.1 81.2L378.5 81.2L377.9 81.2L377.2 81.2L376.5 81.2L375.6 81.1L374.5 81L373.2 80.8L371.8 80.5L370.2 80L368.9 79.1L368.8 77.9L369.8 76.7L371.2 75.8L372.4 75L373.6 74.5L374.6 74.1L375.4 73.8L376.2 73.6L376.9 73.4L377.5 73.3L378 73.2L378.5 73.1L379 73.1L379.4 73L379.8 73L380.2 73L380.6 73L380.9 73L381.3 72.9L381.7 72.9L382.1 72.9L382.5 72.9L383 72.9L383.5 72.9L384.1 72.9L384.8 72.9L385.6 72.9L386.6 72.9L387.9 73L389.5 73.2L391.5 73.5L393.3 74.3L394.5 75.4Z" fill="#008bff"/><path d="M444.4 91L445.4 92.5L446.5 94.3L447.7 96.4L449.2 99L450.7 102L450.8 104.9L449.4 106.9L447.1 108.1L444.1 108.1L441.2 107.8L438.8 107.4L436.6 106.9L434.7 106.4L433 105.9L431.4 105.6L430 105.3L428.6 105.1L427.2 104.9L425.9 104.6L424.5 104.3L423.1 103.8L421.8 103.2L420.6 102.5L419.4 101.6L418.3 100.6L417.2 99.6L416 98.5L414.9 97.3L413.7 95.9L412.7 94.4L411.7 92.8L410.9 91L410.4 89.1L410.3 87.1L410.4 85.1L410.8 83.1L411.6 81.1L412.6 79.4L414.1 77.9L415.7 76.7L417.5 75.7L419.3 75L421.2 74.6L423.1 74.4L424.9 74.3L426.7 74.4L428.4 74.5L430 74.8L431.5 75.3L433 75.9L434.3 76.7L435.6 77.5L436.7 78.5L437.7 79.5L438.6 80.5L439.3 81.7L440 82.8L440.6 83.9L441.1 85.1L441.6 86.2L442.2 87.3L442.9 88.4L443.6 89.7Z" fill="#0082ff"/><path d="M393.2 76.7L391.9 77.8L390.3 78.6L388.8 79.1L387.5 79.4L386.4 79.7L385.6 79.8L384.8 79.9L384.2 80L383.7 80.1L383.2 80.1L382.8 80.2L382.4 80.2L382 80.3L381.6 80.3L381.3 80.3L380.9 80.3L380.6 80.4L380.2 80.4L379.8 80.4L379.4 80.4L378.9 80.4L378.4 80.5L377.9 80.5L377.2 80.5L376.4 80.4L375.5 80.4L374.3 80.2L373 80L371.5 79.6L370.3 78.8L370 77.8L371.1 76.7L372.4 75.9L373.7 75.3L374.8 74.8L375.7 74.6L376.5 74.3L377.2 74.2L377.7 74.1L378.2 74L378.7 73.9L379.1 73.9L379.4 73.9L379.7 73.8L380.1 73.8L380.4 73.8L380.6 73.8L380.9 73.7L381.2 73.7L381.5 73.7L381.8 73.7L382.2 73.7L382.6 73.7L383 73.7L383.4 73.7L384 73.6L384.7 73.6L385.5 73.6L386.6 73.7L388.1 73.7L390.1 73.9L392.1 74.5L393.3 75.5Z" fill="#0067ff"/><path d="M443.6 91L444.4 92.4L445.4 94.1L446.5 96L447.8 98.4L449 101.1L448.9 103.6L447.7 105.5L445.6 106.6L442.9 106.7L440.3 106.4L438.1 106.1L436.1 105.7L434.3 105.2L432.8 104.8L431.3 104.4L430 104.1L428.7 103.7L427.5 103.4L426.3 103L425.2 102.6L424 102.1L422.9 101.6L421.8 100.9L420.8 100.2L419.7 99.4L418.7 98.6L417.6 97.6L416.5 96.6L415.4 95.4L414.4 94.1L413.3 92.6L412.4 91L411.8 89.2L411.5 87.3L411.7 85.4L412.1 83.6L412.7 81.8L413.7 80.1L415 78.7L416.6 77.6L418.2 76.6L420 76L421.8 75.6L423.6 75.5L425.3 75.4L426.9 75.5L428.5 75.6L430 75.9L431.4 76.4L432.8 77L434 77.7L435.2 78.5L436.2 79.4L437.1 80.3L438 81.3L438.7 82.3L439.3 83.4L439.9 84.4L440.4 85.4L440.9 86.5L441.5 87.5L442.1 88.6L442.8 89.7Z" fill="#005bff"/><path d="M391.8 76.7L390.2 77.6L388.6 78.2L387.3 78.6L386.2 78.9L385.3 79.1L384.6 79.2L384 79.3L383.5 79.3L383.1 79.4L382.7 79.4L382.4 79.5L382.1 79.5L381.8 79.5L381.5 79.5L381.2 79.6L380.9 79.6L380.6 79.6L380.4 79.6L380 79.6L379.7 79.7L379.3 79.7L378.9 79.7L378.5 79.7L377.9 79.7L377.3 79.7L376.4 79.7L375.4 79.7L374.2 79.5L372.9 79.2L371.7 78.6L371.3 77.7L372.3 76.7L373.6 76L374.9 75.5L376 75.2L376.9 75L377.6 74.9L378.1 74.8L378.6 74.8L378.9 74.7L379.3 74.7L379.6 74.7L379.8 74.6L380.1 74.6L380.3 74.6L380.5 74.6L380.7 74.6L380.9 74.5L381.1 74.5L381.4 74.5L381.6 74.5L381.9 74.5L382.1 74.5L382.4 74.4L382.8 74.4L383.2 74.4L383.8 74.4L384.5 74.3L385.4 74.3L386.8 74.3L388.8 74.3L390.9 74.7L392.2 75.6Z" fill="#0042ff"/><path d="M442.6 91L443.4 92.3L444.3 93.8L445.2 95.6L446.3 97.8L447.2 100.2L447.1 102.4L446 104.1L444.1 105.1L441.7 105.2L439.4 105L437.4 104.8L435.6 104.5L434 104.1L432.5 103.7L431.2 103.3L430 102.9L428.9 102.4L427.8 102L426.8 101.5L425.8 101L424.9 100.5L424 100L423 99.5L422.1 98.9L421.1 98.3L420.1 97.6L419.1 96.8L418.1 95.9L417 94.9L416 93.8L415 92.5L414 91L413.2 89.3L412.9 87.6L413 85.8L413.3 84.1L414 82.4L414.8 80.9L416 79.5L417.5 78.5L419 77.6L420.6 77L422.3 76.7L424 76.6L425.6 76.6L427.1 76.7L428.6 76.8L430 77.1L431.3 77.5L432.6 78.1L433.7 78.8L434.7 79.6L435.7 80.4L436.6 81.2L437.3 82.1L438 83L438.6 84L439.1 84.9L439.6 85.8L440.2 86.8L440.7 87.7L441.3 88.8L441.9 89.8Z" fill="#0035ff"/><path d="M388.5 76.7L387.3 77.3L386.2 77.8L385.3 78L384.5 78.2L383.9 78.3L383.4 78.4L383 78.4L382.7 78.5L382.4 78.5L382.2 78.5L381.9 78.6L381.7 78.6L381.5 78.6L381.3 78.6L381.1 78.6L380.9 78.7L380.7 78.7L380.5 78.7L380.3 78.7L380.1 78.7L379.9 78.7L379.6 78.7L379.3 78.8L378.9 78.8L378.4 78.8L377.8 78.8L377.1 78.7L376.3 78.6L375.4 78.4L374.5 78L374.2 77.4L374.9 76.7L375.9 76.2L376.8 75.9L377.6 75.7L378.2 75.6L378.7 75.5L379.1 75.5L379.4 75.4L379.6 75.4L379.8 75.4L380 75.4L380.2 75.3L380.4 75.3L380.5 75.3L380.7 75.3L380.8 75.3L380.9 75.3L381.1 75.3L381.2 75.3L381.4 75.2L381.5 75.2L381.7 75.2L381.9 75.2L382.2 75.2L382.5 75.2L382.8 75.2L383.3 75.1L384 75.1L384.9 75.1L386.3 75.1L387.9 75.3L388.8 75.9Z" fill="#001dff"/><path d="M441.4 91L442 92.2L442.8 93.5L443.6 95.1L444.6 97.1L445.5 99.3L445.3 101.2L444.3 102.8L442.6 103.6L440.5 103.8L438.4 103.6L436.6 103.4L435 103.1L433.6 102.8L432.3 102.4L431.1 102L430 101.7L429 101.3L428 100.9L427.1 100.4L426.3 100L425.4 99.6L424.6 99.1L423.7 98.6L422.9 98.1L422 97.5L421.1 96.9L420.2 96.2L419.3 95.4L418.4 94.5L417.4 93.5L416.5 92.3L415.6 91L414.9 89.5L414.6 87.9L414.7 86.4L415 84.8L415.6 83.3L416.4 81.9L417.5 80.7L418.7 79.7L420.1 79L421.6 78.4L423.1 78.1L424.6 78L426.1 78.1L427.4 78.1L428.7 78.2L430 78.5L431.2 78.9L432.3 79.5L433.3 80.1L434.3 80.7L435.1 81.4L435.9 82.2L436.6 83L437.2 83.8L437.7 84.7L438.2 85.5L438.7 86.4L439.1 87.2L439.6 88.1L440.2 89L440.7 89.9Z" fill="#000fff"/><path d="M384.7 76.7L384.1 77L383.6 77.2L383.1 77.4L382.7 77.5L382.4 77.5L382.2 77.6L382 77.6L381.8 77.6L381.7 77.6L381.5 77.6L381.4 77.6L381.3 77.7L381.2 77.7L381.1 77.7L381 77.7L380.9 77.7L380.8 77.7L380.7 77.7L380.6 77.7L380.5 77.7L380.4 77.7L380.3 77.7L380.1 77.7L379.9 77.7L379.7 77.7L379.4 77.7L379 77.7L378.6 77.7L378.1 77.6L377.7 77.4L377.6 77L377.9 76.7L378.4 76.5L378.9 76.3L379.3 76.2L379.6 76.1L379.8 76.1L380 76.1L380.1 76.1L380.3 76.1L380.4 76L380.5 76L380.6 76L380.6 76L380.7 76L380.8 76L380.9 76L380.9 76L381 76L381.1 76L381.2 76L381.2 76L381.3 76L381.4 76L381.6 76L381.7 75.9L381.9 75.9L382.1 75.9L382.5 75.9L382.9 75.9L383.6 75.9L384.4 76L384.9 76.3Z" fill="#0000f9"/><path d="M440.1 91L440.7 92.1L441.4 93.3L442.1 94.7L443 96.4L443.7 98.3L443.6 100.1L442.7 101.4L441.2 102.2L439.3 102.3L437.5 102.2L435.9 102L434.4 101.7L433.2 101.4L432 101.1L431 100.8L430 100.5L429.1 100.1L428.3 99.7L427.5 99.4L426.7 99L425.9 98.6L425.2 98.2L424.4 97.8L423.7 97.3L422.9 96.8L422.1 96.2L421.3 95.6L420.5 94.9L419.7 94.1L418.8 93.2L418 92.2L417.2 91L416.6 89.7L416.3 88.3L416.4 86.9L416.7 85.5L417.2 84.2L417.9 82.9L418.9 81.9L420 81L421.2 80.3L422.5 79.8L423.9 79.6L425.2 79.5L426.5 79.5L427.7 79.6L428.9 79.7L430 79.9L431.1 80.3L432 80.8L432.9 81.3L433.8 81.9L434.5 82.5L435.2 83.2L435.8 83.9L436.4 84.6L436.8 85.4L437.3 86.1L437.7 86.9L438.1 87.6L438.5 88.4L439 89.2L439.5 90.1Z" fill="#0000ea"/><path d="M438.8 91L439.3 91.9L439.9 93L440.5 94.2L441.3 95.7L442 97.4L441.9 98.9L441.1 100.1L439.8 100.8L438.1 100.9L436.5 100.8L435.1 100.6L433.9 100.4L432.8 100.1L431.8 99.8L430.8 99.6L430 99.3L429.2 98.9L428.5 98.6L427.8 98.3L427.1 98L426.5 97.6L425.8 97.3L425.2 96.9L424.5 96.5L423.8 96.1L423.1 95.6L422.4 95L421.7 94.4L421 93.7L420.3 92.9L419.5 92L418.9 91L418.3 89.8L418.1 88.6L418.1 87.4L418.4 86.2L418.8 85L419.5 84L420.3 83L421.3 82.3L422.4 81.7L423.5 81.3L424.7 81L425.8 81L427 81L428 81L429 81.1L430 81.3L430.9 81.6L431.8 82.1L432.6 82.5L433.3 83L434 83.6L434.6 84.2L435.1 84.8L435.6 85.4L436 86.1L436.3 86.8L436.7 87.4L437.1 88.1L437.5 88.7L437.9 89.4L438.3 90.2Z" fill="#0000c7"/><path d="M437.2 91L437.7 91.8L438.1 92.6L438.7 93.6L439.3 94.9L439.8 96.3L439.7 97.5L439.1 98.5L438 99L436.7 99.1L435.4 99L434.2 98.9L433.2 98.7L432.3 98.5L431.4 98.3L430.7 98L430 97.8L429.4 97.5L428.8 97.3L428.2 97L427.6 96.7L427.1 96.5L426.6 96.2L426 95.9L425.5 95.5L424.9 95.2L424.4 94.8L423.8 94.3L423.2 93.8L422.6 93.2L422 92.6L421.4 91.8L420.8 91L420.4 90.1L420.2 89.1L420.3 88L420.5 87.1L420.8 86.1L421.3 85.2L422 84.5L422.8 83.8L423.7 83.4L424.7 83L425.6 82.8L426.6 82.8L427.5 82.8L428.4 82.8L429.2 82.9L430 83.1L430.8 83.3L431.5 83.7L432.1 84.1L432.7 84.5L433.2 84.9L433.7 85.4L434.2 85.9L434.6 86.4L434.9 87L435.2 87.5L435.5 88.1L435.8 88.6L436.1 89.1L436.5 89.7L436.8 90.3Z" fill="#0000a4"/><path d="M433.6 91L433.8 91.4L434.1 91.8L434.3 92.3L434.7 92.9L434.9 93.6L434.9 94.3L434.6 94.7L434 95L433.3 95.1L432.7 95L432.1 94.9L431.6 94.8L431.1 94.7L430.7 94.6L430.3 94.5L430 94.4L429.7 94.3L429.4 94.1L429.1 94L428.8 93.9L428.5 93.7L428.3 93.6L428 93.4L427.7 93.3L427.5 93.1L427.2 92.9L426.9 92.7L426.6 92.4L426.3 92.1L426 91.8L425.7 91.4L425.4 91L425.2 90.5L425.1 90L425.1 89.5L425.2 89L425.4 88.6L425.7 88.1L426 87.7L426.4 87.4L426.9 87.2L427.3 87L427.8 86.9L428.3 86.9L428.8 86.9L429.2 86.9L429.6 86.9L430 87L430.4 87.2L430.7 87.3L431.1 87.5L431.4 87.7L431.6 88L431.9 88.2L432.1 88.5L432.3 88.7L432.4 89L432.6 89.3L432.8 89.5L432.9 89.8L433.1 90.1L433.2 90.4L433.4 90.7Z" fill="#00008c"/><path d="M348.5 102.5C350.7 96.8 357 105.7 361.5 107.9C366.1 110.1 370.6 113.4 375.7 115.7C380.9 118.1 386.4 120.4 392.3 122.1C398.2 123.8 405.7 125.5 411.2 126.1C416.7 126.7 423 123 425.4 125.7C427.7 128.3 438.2 139.4 425.4 142.2C412.6 145 361.4 148.8 348.5 142.2C335.7 135.6 346.4 108.2 348.5 102.5Z" fill="#000000" fill-opacity="0.3" filter="url(#b3)"/><path d="M420 128.5C422 128.1 427.8 127 432 126.3C436.2 125.6 441 125.4 445 124.6C449 123.8 453 122.9 456 121.5C459 120.1 461.8 116.9 463 116" fill="none" stroke="#303000" stroke-width="4.5" stroke-linecap="round" stroke-opacity="0.5" filter="url(#b12)"/><path d="M349 92C349 89.7 350.5 84.7 352 82C353.5 79.3 355.7 77.5 358 76C360.3 74.5 363.7 73 366 73C368.3 73 371.3 74.2 372 76C372.7 77.8 371.7 81.7 370 84C368.3 86.3 365 88 362 90C359 92 354.2 95.7 352 96C349.8 96.3 349 94.3 349 92Z" fill="#002020" fill-opacity="0.35" filter="url(#b2)"/><path d="M407 71C406.4 72.5 404.2 77 403.5 80C402.8 83 402.3 86 402.5 89C402.7 92 403.4 95.2 404.5 98C405.6 100.8 408.2 104.7 409 106" fill="none" stroke="#d8ffff" stroke-width="2.6" stroke-linecap="round" stroke-opacity="0.85" filter="url(#b08)"/><path d="M409 108C410.8 109 416.2 112.6 420 114C423.8 115.4 428 115.8 432 116.3C436 116.8 440.2 117 444 116.8C447.8 116.6 452 116.2 455 115.2C458 114.2 460.8 111.7 462 111" fill="none" stroke="#ffffe8" stroke-width="3.6" stroke-linecap="round" stroke-opacity="0.95" filter="url(#b08)"/><ellipse cx="432" cy="88.5" rx="8" ry="4" fill="#9090ff" transform="rotate(-22 432 88.5)" fill-opacity="0.6" filter="url(#b12)"/><ellipse cx="432" cy="88.2" rx="5.2" ry="2.4" fill="#ffffff" transform="rotate(-25 432 88.2)" filter="url(#b08)"/><path d="M406.5 135C406.3 134.2 408.6 132.5 410 131.7C411.4 130.9 413.4 130.5 415 130.3C416.6 130.1 419.2 129.7 419.5 130.3C419.8 130.9 417.9 133 416.5 134C415.1 135 412.7 136.3 411 136.5C409.3 136.7 406.7 135.8 406.5 135Z" fill="#0070a0" filter="url(#b05)"/></g></g>
<g clip-path="url(#cc)"><g filter="url(#b12)"><rect x="55.1" y="276.1" width="128.7" height="123.1" fill="#0030d8"/><path d="M143.4 354L144.5 360.2L144.2 366.4L144.1 372.8L142.7 379.2L137.6 383.7L131.7 387.2L126 390.1L120.6 392.6L115.4 394.6L110.2 396.2L105 397.1L99.8 396.9L94.7 396L90 394.4L85.8 392.7L82 390.9L78.5 389.3L75.3 387.7L72.3 386L69.5 384.1L67 382.1L64.8 379.8L62.9 377.3L61.3 374.7L59.9 372.2L58.7 369.6L57.7 367L56.9 364.4L56.3 361.8L55.7 359.2L55.4 356.6L55.1 354L55 351.3L55 348.6L55.1 345.8L55.2 342.9L55.4 339.8L55.8 336.5L56.2 332.8L56.8 328.8L57.7 324.5L59.2 319.8L61.8 316.2L66 315.5L70.7 316.6L74.7 317.5L78.4 317.2L82 316.5L85.8 315.7L89.8 314.9L94.1 314.2L98.6 313.8L103.2 314.4L107.5 315.8L111.6 318L115.1 320.9L118.1 324.4L120.4 328.4L122.8 332.2L125.8 335.8L130.2 339.4L135.6 343.3L140.2 348.3Z" fill="#005cff"/><path d="M142 354L143.2 360L143.1 366.2L142.9 372.5L141.6 378.7L136.6 383.2L130.8 386.6L125.2 389.4L119.8 391.8L114.6 393.8L109.6 395.2L104.5 396L99.3 395.8L94.4 394.8L89.8 393.3L85.7 391.6L82 389.9L78.6 388.3L75.5 386.7L72.6 385L69.9 383.2L67.5 381.2L65.3 379L63.4 376.6L61.8 374.2L60.5 371.7L59.3 369.2L58.3 366.7L57.5 364.1L56.8 361.6L56.3 359.1L55.9 356.6L55.6 354L55.5 351.4L55.5 348.7L55.6 346L55.7 343.1L55.9 340.1L56.2 336.8L56.7 333.2L57.3 329.3L58.2 325L59.6 320.4L62.1 316.8L66.3 316.2L70.9 317.3L74.9 318.2L78.4 317.8L82 317.1L85.7 316.4L89.7 315.5L93.9 314.9L98.4 314.5L102.9 315L107.2 316.3L111.2 318.5L114.6 321.4L117.5 324.9L119.7 328.8L122.1 332.6L125 336.2L129.1 339.7L134.3 343.6L138.8 348.4Z" fill="#007bff"/><path d="M140.6 354L142 359.9L142 365.9L141.7 372.1L140.5 378.2L135.6 382.6L129.8 386L124.3 388.7L119 391L113.9 392.9L108.9 394.3L103.9 395L98.9 394.7L94 393.7L89.6 392.2L85.6 390.5L82 388.8L78.7 387.3L75.7 385.7L72.9 384.1L70.3 382.3L67.9 380.4L65.8 378.2L64 376L62.4 373.6L61.1 371.2L59.9 368.8L58.9 366.3L58.1 363.9L57.4 361.5L56.9 359L56.5 356.5L56.2 354L56 351.4L56 348.8L56.1 346.1L56.2 343.3L56.4 340.3L56.7 337.1L57.1 333.6L57.7 329.7L58.6 325.5L60 321L62.5 317.5L66.7 317L71.1 318.1L75 318.8L78.5 318.4L82 317.8L85.6 317L89.5 316.2L93.7 315.5L98.1 315.1L102.5 315.6L106.8 316.9L110.7 319L114.1 321.9L116.9 325.4L119.1 329.2L121.4 332.9L124.1 336.6L128 340.1L133 343.9L137.4 348.5Z" fill="#009bff"/><path d="M139.2 354L140.7 359.8L140.9 365.7L140.5 371.8L139.4 377.8L134.6 382.1L128.9 385.3L123.4 388L118.2 390.2L113.2 392L108.3 393.3L103.3 393.9L98.4 393.6L93.7 392.5L89.4 391.1L85.5 389.4L82 387.8L78.8 386.3L75.9 384.7L73.2 383.1L70.6 381.4L68.4 379.5L66.3 377.5L64.5 375.3L63 373L61.7 370.7L60.5 368.4L59.5 366L58.7 363.7L58 361.3L57.4 358.9L57 356.5L56.7 354L56.6 351.5L56.5 348.9L56.6 346.3L56.7 343.5L56.9 340.6L57.2 337.4L57.6 334L58.2 330.2L59 326L60.4 321.6L62.9 318.2L67 317.7L71.3 318.8L75.1 319.5L78.6 319.1L82 318.4L85.6 317.6L89.4 316.8L93.5 316.1L97.9 315.7L102.2 316.1L106.5 317.4L110.3 319.5L113.6 322.4L116.3 325.8L118.5 329.6L120.7 333.3L123.3 336.9L126.9 340.4L131.7 344.1L136 348.7Z" fill="#00baff"/><path d="M137.8 354L139.5 359.7L139.8 365.5L139.3 371.4L138.3 377.3L133.6 381.6L128 384.7L122.6 387.3L117.4 389.4L112.4 391.1L107.6 392.3L102.8 392.9L97.9 392.5L93.3 391.4L89.2 390L85.4 388.4L82 386.8L78.9 385.3L76.1 383.8L73.4 382.2L71 380.5L68.8 378.7L66.8 376.7L65.1 374.6L63.6 372.4L62.3 370.2L61.1 367.9L60.1 365.7L59.3 363.4L58.6 361.1L58 358.8L57.6 356.4L57.3 354L57.1 351.5L57 349L57.1 346.4L57.2 343.7L57.4 340.8L57.7 337.7L58.1 334.4L58.6 330.6L59.5 326.5L60.8 322.2L63.3 318.9L67.3 318.5L71.6 319.6L75.3 320.1L78.6 319.7L82 319L85.5 318.3L89.3 317.4L93.3 316.8L97.6 316.3L101.9 316.7L106.1 317.9L109.9 320L113.1 322.9L115.7 326.3L117.8 330.1L120 333.7L122.4 337.3L125.7 340.7L130.4 344.4L134.6 348.8Z" fill="#00d9ff"/><path d="M136.3 354L138.3 359.5L138.7 365.3L138.1 371L137.1 376.8L132.6 381.1L127 384.1L121.7 386.6L116.6 388.6L111.7 390.2L107 391.4L102.2 391.8L97.5 391.4L93 390.3L88.9 388.8L85.3 387.3L82 385.7L79 384.3L76.3 382.8L73.7 381.3L71.4 379.6L69.3 377.8L67.3 375.9L65.7 373.9L64.2 371.8L62.9 369.7L61.7 367.5L60.7 365.4L59.9 363.2L59.1 360.9L58.6 358.7L58.1 356.4L57.8 354L57.6 351.6L57.6 349.1L57.6 346.6L57.7 343.9L57.9 341.1L58.1 338.1L58.5 334.7L59.1 331.1L59.9 327L61.2 322.8L63.6 319.6L67.6 319.2L71.8 320.3L75.4 320.8L78.7 320.3L82 319.7L85.5 318.9L89.1 318.1L93.1 317.4L97.3 317L101.6 317.3L105.8 318.4L109.5 320.5L112.6 323.4L115.2 326.8L117.2 330.5L119.2 334.1L121.5 337.6L124.6 341.1L129.1 344.6L133.2 349Z" fill="#00f9ff"/><path d="M134.7 354L136.7 359.4L137.3 365L136.7 370.6L135.8 376.3L131.6 380.5L126.1 383.5L120.8 385.9L115.8 387.8L111 389.3L106.3 390.3L101.6 390.7L97 390.2L92.6 389.1L88.7 387.7L85.2 386.1L82 384.6L79.1 383.2L76.5 381.8L74 380.3L71.8 378.7L69.7 376.9L67.9 375.1L66.3 373.2L64.8 371.2L63.5 369.2L62.4 367.1L61.4 365L60.5 362.9L59.7 360.8L59.1 358.5L58.7 356.3L58.3 354L58.1 351.6L58.1 349.2L58.1 346.7L58.2 344.1L58.3 341.4L58.6 338.4L59 335.1L59.5 331.5L60.3 327.5L61.6 323.4L64 320.4L67.9 320.1L72 321.1L75.5 321.5L78.8 321L82 320.4L85.4 319.6L89 318.8L92.9 318.1L97.1 317.7L101.3 317.9L105.3 319.1L109 321.1L112 324L114.5 327.3L116.5 331L118.4 334.5L120.6 338L123.4 341.4L127.7 344.9L131.6 349.1Z" fill="#00fce3"/><path d="M132.5 354L134.4 359.2L135.1 364.6L134.7 370L133.8 375.5L130.4 379.9L125.3 382.9L120 385.2L115 387L110.2 388.3L105.5 389.2L100.9 389.4L96.4 388.8L92.2 387.7L88.4 386.3L85 384.8L82 383.4L79.2 382L76.7 380.6L74.4 379.1L72.2 377.6L70.3 375.9L68.5 374.2L66.9 372.4L65.5 370.5L64.3 368.5L63.1 366.6L62.1 364.6L61.2 362.6L60.4 360.6L59.7 358.4L59.2 356.2L58.9 354L58.6 351.7L58.5 349.3L58.5 346.9L58.6 344.3L58.8 341.6L59 338.6L59.4 335.4L59.9 331.9L60.7 328L62 324L64.5 321.3L68.4 321.1L72.3 322L75.7 322.3L78.8 321.9L82 321.2L85.3 320.5L88.8 319.7L92.6 319L96.7 318.5L100.8 318.7L104.8 319.9L108.3 322L111.2 324.8L113.6 328.1L115.5 331.6L117.3 335.1L119.4 338.5L122.1 341.8L125.9 345.3L129.5 349.3Z" fill="#00f7c0"/><path d="M130.2 354L132.1 358.9L132.8 364.1L132.7 369.4L131.9 374.7L129.3 379.3L124.5 382.4L119.2 384.5L114.1 386.1L109.4 387.3L104.7 388L100.2 388.1L95.8 387.4L91.8 386.3L88.2 385L84.9 383.6L82 382.2L79.4 380.8L76.9 379.4L74.7 378L72.7 376.5L70.8 374.9L69.1 373.2L67.6 371.5L66.3 369.7L65 367.9L63.9 366.1L62.8 364.2L61.9 362.3L61.1 360.4L60.4 358.3L59.8 356.2L59.4 354L59.1 351.7L59 349.4L59 347L59 344.5L59.2 341.8L59.4 338.9L59.8 335.7L60.3 332.3L61.1 328.5L62.4 324.7L65 322.2L68.8 322.1L72.6 323L75.9 323.2L78.9 322.7L82 322.1L85.2 321.4L88.6 320.6L92.3 319.9L96.3 319.4L100.4 319.5L104.2 320.7L107.6 322.8L110.4 325.6L112.7 328.8L114.5 332.3L116.3 335.7L118.3 339L120.7 342.3L124.1 345.6L127.5 349.5Z" fill="#00f39d"/><path d="M128 354L129.8 358.7L130.6 363.7L130.7 368.8L130 373.9L128.1 378.6L123.7 381.9L118.4 383.9L113.3 385.3L108.5 386.3L104 386.9L99.5 386.8L95.3 386L91.4 384.9L87.9 383.6L84.8 382.3L82 381L79.5 379.6L77.2 378.3L75.1 376.9L73.1 375.4L71.4 373.9L69.8 372.3L68.3 370.7L67 369L65.8 367.3L64.6 365.6L63.6 363.9L62.6 362L61.7 360.2L61 358.2L60.4 356.1L59.9 354L59.6 351.8L59.5 349.5L59.4 347.1L59.5 344.7L59.6 342L59.8 339.2L60.1 336.1L60.7 332.7L61.5 329L62.8 325.3L65.5 323.1L69.2 323.2L72.9 324L76 324L79 323.5L82 322.9L85.1 322.2L88.5 321.5L92.1 320.8L96 320.3L100 320.3L103.7 321.6L106.9 323.7L109.6 326.4L111.8 329.6L113.5 332.9L115.2 336.3L117.1 339.5L119.3 342.7L122.3 346L125.5 349.7Z" fill="#00ee7a"/><path d="M125.8 354L127.5 358.5L128.3 363.2L128.6 368.2L128 373L126.8 377.9L122.8 381.2L117.5 383.1L112.5 384.5L107.7 385.3L103.2 385.7L98.8 385.5L94.7 384.7L91 383.6L87.6 382.3L84.7 381L82 379.7L79.6 378.4L77.4 377.1L75.4 375.8L73.6 374.4L71.9 372.9L70.4 371.4L69 369.9L67.7 368.3L66.5 366.7L65.3 365.1L64.3 363.5L63.3 361.8L62.4 360L61.6 358.1L60.9 356.1L60.4 354L60.1 351.8L59.9 349.6L59.9 347.3L59.9 344.8L60 342.2L60.2 339.4L60.5 336.4L61.1 333.1L61.9 329.4L63.3 325.9L66 324.1L69.7 324.2L73.2 324.9L76.2 324.8L79.1 324.3L82 323.8L85 323.1L88.3 322.4L91.8 321.7L95.6 321.1L99.6 321.2L103.1 322.5L106.1 324.6L108.7 327.3L110.9 330.3L112.5 333.6L114.1 336.8L115.9 339.9L118 343.1L120.6 346.3L123.5 349.9Z" fill="#28ed33"/><path d="M123.6 354L125.1 358.2L126 362.8L126.4 367.5L125.9 372.2L124.9 376.9L121.4 380.3L116.3 382.2L111.4 383.4L106.8 384.2L102.4 384.5L98.1 384.2L94.2 383.3L90.6 382.2L87.4 381L84.5 379.7L82 378.5L79.7 377.3L77.6 376L75.7 374.7L74 373.4L72.4 372L70.9 370.6L69.5 369.2L68.3 367.7L67.1 366.2L66 364.7L64.9 363.1L63.9 361.5L63 359.8L62.2 357.9L61.5 356L61 354L60.6 351.9L60.4 349.7L60.3 347.4L60.3 345L60.4 342.5L60.6 339.7L60.9 336.7L61.4 333.4L62.3 329.9L63.7 326.7L66.5 325L70 325.1L73.4 325.7L76.3 325.5L79.1 325.1L82 324.5L85 323.8L88.1 323.1L91.6 322.4L95.3 322L99 322.1L102.4 323.5L105.3 325.6L107.8 328.2L109.8 331.2L111.4 334.3L113 337.4L114.8 340.4L116.7 343.5L119 346.6L121.6 350.1Z" fill="#7ef400"/><path d="M121.4 354L122.8 358L123.7 362.3L124.2 366.8L123.9 371.3L123.1 376L120 379.4L115.2 381.2L110.4 382.4L105.8 383.1L101.6 383.3L97.4 382.9L93.6 382L90.2 380.9L87.1 379.7L84.4 378.5L82 377.3L79.8 376.1L77.9 374.9L76 373.6L74.4 372.4L72.8 371.1L71.4 369.8L70.1 368.5L68.9 367.1L67.7 365.7L66.6 364.3L65.5 362.8L64.5 361.2L63.6 359.6L62.7 357.8L62 356L61.5 354L61.1 351.9L60.9 349.8L60.8 347.6L60.8 345.2L60.8 342.7L61 340L61.3 337L61.8 333.8L62.7 330.4L64.2 327.4L67 326L70.4 326.1L73.7 326.5L76.5 326.3L79.2 325.8L82 325.2L84.9 324.6L88 323.8L91.3 323.2L94.9 322.9L98.5 323.1L101.7 324.5L104.5 326.6L106.9 329.1L108.7 332.1L110.4 335.1L111.9 338L113.6 340.9L115.4 343.9L117.4 347L119.6 350.3Z" fill="#b4f800"/><path d="M119.2 354L120.5 357.8L121.4 361.8L122 366.1L121.8 370.5L121.2 375L118.7 378.5L114 380.3L109.3 381.3L104.9 381.9L100.7 382.1L96.7 381.6L93.1 380.7L89.8 379.6L86.8 378.4L84.3 377.2L82 376L79.9 374.9L78.1 373.7L76.4 372.6L74.8 371.4L73.3 370.2L72 369L70.7 367.8L69.5 366.5L68.4 365.2L67.2 363.9L66.2 362.5L65.1 361L64.2 359.4L63.3 357.7L62.6 355.9L62 354L61.6 352L61.3 349.9L61.2 347.7L61.2 345.4L61.3 342.9L61.4 340.3L61.7 337.4L62.2 334.2L63.1 330.9L64.7 328.1L67.5 326.9L70.8 327.1L73.9 327.4L76.6 327L79.3 326.5L82 326L84.8 325.3L87.8 324.6L91.1 324L94.5 323.7L98 324.1L101.1 325.4L103.7 327.6L105.9 330.1L107.7 332.9L109.3 335.8L110.9 338.6L112.5 341.4L114.1 344.3L115.9 347.3L117.7 350.5Z" fill="#ebfd00"/><path d="M117 354L118.1 357.6L119 361.4L119.6 365.4L119.6 369.6L119.2 373.9L117.1 377.5L112.8 379.3L108.3 380.3L104 380.8L100 380.9L96.1 380.4L92.5 379.4L89.4 378.3L86.6 377.1L84.2 376L82 374.9L80.1 373.7L78.3 372.7L76.7 371.6L75.2 370.5L73.8 369.4L72.5 368.3L71.2 367.1L70.1 365.9L69 364.7L67.9 363.4L66.8 362.1L65.8 360.7L64.8 359.2L63.9 357.6L63.1 355.9L62.5 354L62.1 352L61.8 350L61.7 347.8L61.6 345.6L61.7 343.1L61.9 340.5L62.1 337.7L62.6 334.6L63.5 331.5L65.2 328.8L68.1 327.9L71.2 328L74.2 328.2L76.8 327.8L79.4 327.3L82 326.7L84.7 326.1L87.7 325.4L90.9 324.8L94.2 324.7L97.4 325.2L100.4 326.5L102.9 328.6L104.9 331.1L106.6 333.8L108.2 336.5L109.7 339.2L111.2 341.9L112.7 344.7L114.2 347.6L115.7 350.7Z" fill="#ffeb00"/><path d="M114.3 354L115.2 357.3L116 360.8L116.6 364.5L116.6 368.4L116.4 372.4L114.8 375.9L111.3 378.1L107.5 379.5L103.4 380.1L99.4 380L95.6 379.5L92.2 378.5L89.1 377.5L86.4 376.3L84.1 375.2L82 374.1L80.1 373L78.4 372L76.9 370.9L75.4 369.9L74.1 368.8L72.8 367.7L71.7 366.6L70.6 365.4L69.5 364.3L68.4 363.1L67.4 361.8L66.4 360.5L65.4 359L64.5 357.5L63.7 355.8L63.1 354L62.6 352.1L62.3 350.1L62.1 348L62.1 345.7L62.1 343.4L62.3 340.8L62.5 338L63.1 335.1L64 332.1L65.8 329.8L68.7 329.1L71.7 329.2L74.5 329.3L77 328.8L79.5 328.3L82 327.8L84.6 327.2L87.5 326.5L90.5 326L93.6 325.9L96.7 326.4L99.6 327.7L101.9 329.8L103.8 332.2L105.4 334.8L106.8 337.4L108.2 340L109.5 342.6L110.8 345.3L112 348L113.2 350.9Z" fill="#ffcc00"/><path d="M111.6 354L112.4 357L113 360.2L113.5 363.6L113.7 367.1L113.6 370.9L112.4 374.3L109.9 376.9L106.6 378.6L102.7 379.3L98.8 379.2L95.1 378.6L91.8 377.6L88.9 376.6L86.3 375.5L84 374.5L82 373.4L80.2 372.4L78.6 371.3L77.1 370.3L75.7 369.2L74.4 368.2L73.2 367.1L72.1 366.1L71.1 364.9L70 363.8L69 362.7L68 361.5L67 360.2L66 358.8L65.1 357.4L64.3 355.7L63.6 354L63.1 352.1L62.8 350.2L62.6 348.1L62.5 345.9L62.5 343.6L62.7 341.1L62.9 338.4L63.5 335.5L64.5 332.7L66.5 330.8L69.3 330.3L72.2 330.4L74.8 330.3L77.2 329.9L79.6 329.3L82 328.8L84.5 328.2L87.2 327.6L90.1 327.2L93.1 327.2L96 327.7L98.7 329L100.9 331L102.7 333.3L104.2 335.8L105.5 338.3L106.7 340.8L107.8 343.3L108.8 345.9L109.8 348.5L110.7 351.2Z" fill="#ffac00"/><path d="M108.9 354L109.5 356.7L110 359.6L110.4 362.6L110.7 365.9L110.8 369.4L110 372.7L108.4 375.6L105.8 377.8L102.1 378.5L98.2 378.3L94.6 377.7L91.4 376.7L88.6 375.7L86.1 374.7L83.9 373.7L82 372.7L80.3 371.7L78.7 370.6L77.3 369.6L75.9 368.6L74.7 367.6L73.6 366.6L72.5 365.5L71.5 364.5L70.6 363.4L69.6 362.3L68.6 361.2L67.6 360L66.6 358.7L65.7 357.2L64.9 355.7L64.1 354L63.6 352.2L63.2 350.3L63 348.2L62.9 346.1L62.9 343.8L63.1 341.3L63.3 338.7L63.9 335.9L65 333.3L67.1 331.8L69.9 331.4L72.7 331.5L75.1 331.4L77.4 330.9L79.7 330.4L82 329.8L84.4 329.3L87 328.8L89.8 328.4L92.6 328.4L95.4 329L97.9 330.2L99.9 332.1L101.6 334.4L103 336.7L104.2 339.2L105.2 341.6L106.1 344L106.9 346.5L107.6 348.9L108.2 351.4Z" fill="#ff8d00"/><path d="M106.3 354L106.7 356.4L107.1 359L107.5 361.7L107.8 364.7L108 367.9L107.7 371.2L106.9 374.4L104.9 376.9L101.4 377.7L97.7 377.4L94.2 376.8L91.1 375.9L88.3 374.9L86 373.9L83.9 373L82 372L80.3 371L78.8 370L77.4 369L76.2 368L75 367L74 366L73 365L72 364L71.1 363L70.1 361.9L69.2 360.9L68.2 359.7L67.3 358.5L66.3 357.1L65.4 355.6L64.7 354L64.1 352.2L63.7 350.4L63.5 348.4L63.4 346.3L63.4 344L63.5 341.6L63.8 339L64.3 336.3L65.5 333.9L67.8 332.8L70.6 332.6L73.2 332.7L75.5 332.5L77.6 332L79.8 331.4L82 330.9L84.3 330.4L86.8 329.9L89.4 329.6L92.1 329.7L94.7 330.3L97 331.5L99 333.3L100.5 335.5L101.8 337.7L102.9 340.1L103.7 342.4L104.4 344.7L104.9 347L105.4 349.3L105.8 351.7Z" fill="#ff6e00"/><path d="M104.8 354L105.2 356.3L105.6 358.7L105.9 361.2L106.1 364L106.3 367L106 370L105.2 373.1L103.5 375.5L100.6 376.6L97.1 376.7L93.8 376.1L90.8 375.3L88.2 374.4L85.9 373.5L83.8 372.5L82 371.6L80.4 370.6L78.9 369.7L77.5 368.7L76.3 367.8L75.2 366.8L74.1 365.8L73.1 364.8L72.2 363.8L71.3 362.8L70.3 361.8L69.4 360.7L68.5 359.6L67.6 358.4L66.8 357L66 355.6L65.3 354L64.7 352.3L64.3 350.5L64.1 348.6L63.9 346.5L63.8 344.3L63.9 341.9L64.2 339.4L65 337L66.5 335.1L68.7 334.2L71.3 334L73.7 334L75.9 333.7L77.9 333.2L79.9 332.7L82 332.3L84.2 331.8L86.5 331.4L88.9 331.2L91.4 331.3L93.8 331.9L96 333L97.8 334.7L99.3 336.7L100.5 338.8L101.5 341L102.3 343.1L103 345.3L103.5 347.5L104 349.6L104.4 351.8Z" fill="#ff4f00"/><path d="M103.3 354L103.7 356.1L104 358.4L104.2 360.7L104.5 363.3L104.5 366L104.3 368.9L103.6 371.7L102.1 374.1L99.7 375.6L96.6 375.9L93.5 375.5L90.6 374.7L88 373.9L85.8 373L83.8 372.1L82 371.2L80.4 370.3L78.9 369.4L77.6 368.4L76.4 367.5L75.3 366.5L74.3 365.6L73.3 364.6L72.3 363.7L71.4 362.7L70.6 361.6L69.7 360.6L68.9 359.4L68 358.2L67.3 356.9L66.5 355.5L65.9 354L65.4 352.4L65 350.6L64.7 348.7L64.4 346.7L64.3 344.5L64.3 342.2L64.7 339.8L65.7 337.7L67.4 336.2L69.7 335.6L72.1 335.4L74.3 335.3L76.2 335L78.1 334.5L80 334L82 333.6L84 333.3L86.2 332.9L88.5 332.7L90.7 332.9L93 333.5L95 334.6L96.7 336.1L98.1 337.9L99.2 339.9L100.2 341.9L100.9 343.9L101.6 345.9L102.1 347.9L102.5 349.9L102.9 351.9Z" fill="#ff2f00"/><path d="M101.9 354L102.2 356L102.4 358.1L102.6 360.3L102.8 362.6L102.8 365.1L102.5 367.7L101.9 370.3L100.8 372.8L98.8 374.5L96.1 375.1L93.1 374.8L90.4 374.2L87.9 373.4L85.7 372.6L83.7 371.7L82 370.8L80.4 369.9L79 369.1L77.7 368.1L76.5 367.2L75.4 366.3L74.4 365.4L73.4 364.5L72.5 363.5L71.6 362.5L70.8 361.5L69.9 360.4L69.2 359.3L68.4 358.1L67.7 356.8L67.1 355.5L66.5 354L66 352.4L65.6 350.7L65.2 348.9L65 346.9L64.8 344.8L64.8 342.5L65.2 340.2L66.4 338.4L68.4 337.4L70.6 337L72.8 336.8L74.8 336.6L76.6 336.2L78.4 335.8L80.2 335.4L82 335L83.9 334.7L85.9 334.4L88 334.3L90.1 334.5L92.1 335.1L93.9 336.1L95.5 337.5L96.9 339.1L97.9 340.9L98.8 342.8L99.6 344.6L100.2 346.5L100.7 348.3L101.1 350.2L101.5 352.1Z" fill="#ff1000"/><path d="M100.4 354L100.7 355.8L100.9 357.8L101 359.8L101.1 361.9L101 364.2L100.8 366.6L100.2 369L99.4 371.4L97.9 373.4L95.6 374.3L92.8 374.2L90.1 373.6L87.7 372.9L85.6 372.1L83.7 371.3L82 370.5L80.5 369.6L79.1 368.7L77.8 367.9L76.6 367L75.5 366.1L74.5 365.2L73.6 364.3L72.7 363.3L71.8 362.4L71 361.4L70.2 360.3L69.5 359.2L68.8 358L68.2 356.7L67.6 355.4L67.1 354L66.6 352.5L66.2 350.9L65.8 349.1L65.5 347.2L65.2 345L65.2 342.8L65.7 340.6L67.1 339.1L69.3 338.6L71.5 338.3L73.6 338.2L75.3 337.9L77 337.5L78.6 337.1L80.3 336.7L82 336.4L83.8 336.1L85.6 335.9L87.5 335.8L89.4 336.1L91.2 336.7L92.9 337.7L94.4 338.9L95.6 340.4L96.6 342L97.4 343.7L98.2 345.4L98.8 347.1L99.3 348.8L99.7 350.5L100.1 352.2Z" fill="#f00000"/><path d="M98.7 354L98.9 355.7L99.1 357.4L99.2 359.2L99.2 361.1L99.1 363.2L98.9 365.3L98.4 367.4L97.6 369.6L96.3 371.5L94.3 372.4L91.9 372.6L89.6 372.3L87.4 371.9L85.5 371.4L83.6 370.7L82 369.9L80.5 369.1L79.2 368.3L77.9 367.4L76.8 366.5L75.8 365.7L74.8 364.8L73.9 363.9L73 363L72.2 362.1L71.4 361.1L70.6 360.1L69.9 359L69.3 357.9L68.7 356.7L68.1 355.4L67.6 354L67.1 352.5L66.6 350.9L66.2 349.2L65.8 347.3L65.7 345.3L65.9 343.2L66.7 341.5L68.3 340.3L70.3 339.8L72.3 339.6L74.2 339.4L75.8 339.1L77.4 338.7L78.9 338.3L80.4 338L82 337.8L83.6 337.6L85.3 337.4L87 337.4L88.7 337.7L90.4 338.3L91.9 339.2L93.2 340.3L94.4 341.6L95.3 343.1L96 344.6L96.7 346.1L97.3 347.7L97.7 349.2L98.1 350.8L98.4 352.4Z" fill="#d10000"/><path d="M97 354L97.2 355.5L97.3 357L97.4 358.7L97.3 360.3L97.2 362.1L97 364L96.5 365.9L95.8 367.8L94.7 369.5L93.1 370.5L91.1 371L89.1 371.1L87.1 371L85.3 370.7L83.6 370.1L82 369.4L80.6 368.6L79.3 367.8L78.1 366.9L77 366.1L76 365.3L75 364.4L74.2 363.5L73.3 362.7L72.5 361.8L71.8 360.8L71.1 359.8L70.4 358.8L69.8 357.7L69.2 356.6L68.6 355.3L68 354L67.5 352.6L67 351L66.6 349.3L66.2 347.5L66.1 345.5L66.6 343.7L67.8 342.3L69.5 341.5L71.4 341L73.2 340.8L74.8 340.5L76.3 340.2L77.7 339.9L79.1 339.6L80.6 339.3L82 339.1L83.5 339L85 339L86.5 339.1L88.1 339.4L89.5 340L90.9 340.8L92.1 341.8L93.1 342.9L93.9 344.2L94.6 345.6L95.3 346.9L95.8 348.3L96.2 349.7L96.5 351.1L96.8 352.5Z" fill="#b10000"/><path d="M95.3 354L95.4 355.3L95.5 356.7L95.5 358.1L95.5 359.6L95.3 361.1L95 362.7L94.6 364.3L94 366L93.1 367.5L91.8 368.6L90.2 369.3L88.5 369.8L86.9 370L85.2 369.9L83.5 369.5L82 368.8L80.6 368.1L79.4 367.3L78.2 366.5L77.2 365.7L76.2 364.8L75.3 364L74.5 363.2L73.7 362.3L72.9 361.5L72.2 360.5L71.5 359.6L70.9 358.6L70.2 357.6L69.7 356.5L69.1 355.3L68.5 354L68 352.6L67.4 351.1L66.9 349.4L66.6 347.6L66.5 345.7L67.4 344.2L68.9 343.2L70.6 342.6L72.4 342.3L74 342L75.4 341.7L76.8 341.4L78.1 341.1L79.4 340.8L80.7 340.6L82 340.5L83.3 340.5L84.7 340.5L86 340.7L87.4 341L88.6 341.6L89.8 342.3L90.9 343.2L91.8 344.2L92.6 345.3L93.2 346.5L93.8 347.7L94.3 348.9L94.7 350.2L94.9 351.4L95.2 352.7Z" fill="#920000"/><path d="M93.6 354L93.7 355.2L93.7 356.3L93.7 357.5L93.6 358.8L93.4 360.1L93.1 361.4L92.7 362.8L92.1 364.1L91.4 365.5L90.5 366.8L89.3 367.7L88 368.5L86.6 369L85 369.2L83.5 368.9L82 368.3L80.7 367.6L79.5 366.8L78.4 366L77.3 365.2L76.4 364.4L75.6 363.6L74.8 362.8L74 362L73.3 361.1L72.6 360.3L72 359.4L71.3 358.4L70.7 357.4L70.1 356.4L69.6 355.2L69 354L68.4 352.7L67.8 351.2L67.3 349.5L66.9 347.8L67 346L68.1 344.7L69.9 344.1L71.8 343.8L73.4 343.5L74.8 343.2L76 342.9L77.3 342.6L78.5 342.3L79.6 342.1L80.8 341.9L82 341.9L83.2 341.9L84.4 342.1L85.5 342.3L86.7 342.7L87.8 343.2L88.8 343.8L89.7 344.6L90.5 345.5L91.2 346.4L91.8 347.4L92.4 348.5L92.8 349.5L93.1 350.6L93.4 351.7L93.5 352.9Z" fill="#7c0000"/><path d="M90.8 354L90.9 354.9L90.9 355.8L90.8 356.7L90.8 357.6L90.6 358.6L90.4 359.6L90.1 360.6L89.7 361.7L89.1 362.7L88.4 363.6L87.6 364.4L86.6 365L85.5 365.5L84.3 365.6L83.1 365.4L82 364.9L81 364.4L80.1 363.8L79.2 363.2L78.4 362.6L77.7 362L77.1 361.4L76.5 360.7L75.9 360.1L75.3 359.5L74.8 358.8L74.3 358.1L73.8 357.4L73.4 356.6L72.9 355.8L72.5 354.9L72.1 354L71.6 353L71.2 351.8L70.8 350.6L70.5 349.2L70.5 347.9L71.4 346.9L72.8 346.5L74.2 346.2L75.5 346L76.5 345.8L77.5 345.5L78.4 345.3L79.3 345.1L80.2 345L81.1 344.8L82 344.8L82.9 344.8L83.8 344.9L84.7 345.1L85.5 345.4L86.4 345.8L87.1 346.3L87.8 346.9L88.4 347.6L89 348.3L89.5 349L89.9 349.8L90.2 350.6L90.4 351.4L90.6 352.3L90.7 353.1Z" fill="#720000"/><path d="M87.9 354L87.9 354.6L87.9 355.2L87.9 355.8L87.8 356.4L87.7 357.1L87.6 357.7L87.4 358.4L87.1 359.1L86.8 359.8L86.3 360.4L85.7 360.9L85 361.4L84.3 361.6L83.5 361.7L82.7 361.6L82 361.3L81.3 360.9L80.7 360.5L80.1 360.1L79.6 359.7L79.2 359.3L78.7 358.9L78.3 358.5L77.9 358.1L77.6 357.6L77.2 357.2L76.9 356.7L76.6 356.3L76.3 355.7L76 355.2L75.7 354.6L75.4 354L75.1 353.3L74.8 352.6L74.5 351.7L74.3 350.8L74.3 349.9L74.9 349.3L75.9 349L76.8 348.8L77.6 348.7L78.3 348.5L79 348.4L79.6 348.2L80.2 348.1L80.8 348L81.4 347.9L82 347.9L82.6 347.9L83.2 348L83.8 348.1L84.4 348.3L84.9 348.5L85.4 348.9L85.9 349.3L86.3 349.7L86.7 350.2L87 350.7L87.2 351.2L87.5 351.7L87.6 352.3L87.7 352.9L87.8 353.4Z" fill="#690000"/><path d="M84.9 354L85 354.3L85 354.6L84.9 354.9L84.9 355.2L84.9 355.5L84.8 355.9L84.7 356.2L84.6 356.6L84.4 356.9L84.1 357.2L83.9 357.5L83.5 357.7L83.2 357.8L82.8 357.9L82.4 357.8L82 357.6L81.7 357.5L81.4 357.3L81.1 357.1L80.8 356.9L80.6 356.7L80.4 356.5L80.2 356.2L80 356L79.8 355.8L79.6 355.6L79.4 355.4L79.3 355.1L79.1 354.9L79 354.6L78.8 354.3L78.7 354L78.5 353.7L78.4 353.3L78.3 352.9L78.2 352.4L78.2 352L78.5 351.6L78.9 351.5L79.4 351.4L79.8 351.3L80.2 351.3L80.5 351.2L80.8 351.1L81.1 351L81.4 351L81.7 350.9L82 350.9L82.3 350.9L82.6 351L82.9 351L83.2 351.1L83.5 351.3L83.7 351.4L83.9 351.6L84.1 351.9L84.3 352.1L84.5 352.3L84.6 352.6L84.7 352.9L84.8 353.1L84.9 353.4L84.9 353.7Z" fill="#5f0000"/><path d="M124 353C126.8 349.9 130.7 351.5 135 351.5C139.3 351.5 145 352.2 150 353C155 353.8 160.7 355.3 165 356.5C169.3 357.7 174.2 357.4 176 360C177.8 362.6 178.7 369.3 176 372C173.3 374.7 166 375.3 160 376C154 376.7 145.7 376 140 376C134.3 376 129.7 377 126 376C122.3 375 118.3 373.8 118 370C117.7 366.2 121.2 356.1 124 353Z" fill="#00c890" fill-opacity="0.95" filter="url(#b2)"/><path d="M118 366C120.8 363.2 129.7 363.4 135 363C140.3 362.6 145.3 364 150 363.5C154.7 363 159.3 361.9 163 360C166.7 358.1 169.2 353.3 172 352C174.8 350.7 178.7 347.3 180 352C181.3 356.7 190.3 375.3 180 380C169.7 384.7 128.3 382.3 118 380C107.7 377.7 115.2 368.8 118 366Z" fill="#004030" fill-opacity="0.45" filter="url(#b2)"/><path d="M142.5 310.6C144.3 311.4 150.1 313.4 153.1 315.6C156.1 317.8 158.7 320.6 160.5 323.7C162.3 326.8 163.2 332.6 163.7 334.4" fill="none" stroke="#00c0d0" stroke-width="4.5" stroke-linecap="round" stroke-opacity="0.9" filter="url(#b12)"/><path d="M145.7 308.2C147.6 308.9 154 310.1 157.2 312.3C160.3 314.5 162.8 317.9 164.6 321.3C166.4 324.7 167.2 329.2 167.8 332.7C168.5 336.1 168.4 340.4 168.5 342" fill="none" stroke="#10d078" stroke-width="6.5" stroke-linecap="round" filter="url(#b12)"/><path d="M112 335.5C114.2 336.4 120.7 339.4 125 341C129.3 342.6 133.5 343.9 138 345C142.5 346.1 147.3 346.4 152 347.5C156.7 348.6 161.8 350.1 166 351.5C170.2 352.9 175.2 355.2 177 356" fill="none" stroke="#00dcec" stroke-width="11.5" stroke-linecap="round" filter="url(#b2)"/><path d="M152.3 306.9C154.1 308.1 160.1 311.1 162.9 313.9C165.7 316.7 167.6 320.4 169 323.7C170.4 327 170.9 332 171.3 333.6" fill="none" stroke="#e8e000" stroke-width="3.0" stroke-linecap="round" filter="url(#b08)"/><path d="M155 306.3C156.7 307.5 162.6 310.6 165.2 313.5C167.8 316.4 169.6 320.5 170.8 323.7C172 326.9 172.2 331.2 172.5 332.7" fill="none" stroke="#ff5000" stroke-width="1.8" stroke-linecap="round" filter="url(#b05)"/><path d="M132.6 300C133.6 301.9 135.9 307.6 138.4 311.5C140.9 315.4 144 320.4 147.4 323.7C150.8 327 156.9 329.9 158.8 331.1" fill="none" stroke="#000078" stroke-width="6.0" stroke-linecap="round" stroke-opacity="0.75" filter="url(#b12)"/><path d="M103.5 300.1C104.6 297.3 106.9 294.7 108.9 293C110.9 291.3 113.9 289.3 115.3 289.9C116.6 290.5 117.1 293.9 116.9 296.5C116.7 299.2 115.4 303.4 114.1 306C112.8 308.6 111.3 311.3 109.4 311.9C107.4 312.5 103.3 311.5 102.3 309.6C101.3 307.6 102.4 302.9 103.5 300.1Z" fill="#000098" fill-opacity="0.8" filter="url(#b12)"/><path d="M130.2 293.7C130.8 293.2 133.1 299.1 134.9 300.8C136.8 302.5 138.8 301.7 141.3 304.1C143.7 306.6 149 312.6 149.6 315.5C150.2 318.3 147 321.8 144.8 321.4C142.7 321 138.8 316.1 136.6 313.1C134.3 310.1 132.2 306.9 131.1 303.6C130.1 300.4 129.5 294.2 130.2 293.7Z" fill="#0000a0" fill-opacity="0.7" filter="url(#b12)"/><path d="M70 315C71.3 314.2 75 311.7 78 310.5C81 309.3 84.7 308.7 88 308C91.3 307.3 95 307.5 98 306.5C101 305.5 104.7 302.8 106 302" fill="none" stroke="#0000a0" stroke-width="5.0" stroke-linecap="round" stroke-opacity="0.75" filter="url(#b12)"/><path d="M103 372.3C103.7 370.9 106.8 372.6 110 372.8C113.2 373 118 373.6 122 373.3C126 373.1 130.8 372 134 371.3C137.2 370.6 140.2 368.5 141 369.3C141.8 370.1 140 373.9 139 376C138 378.1 136.8 380 135 382C133.2 384 130.5 386.7 128 388C125.5 389.3 122.7 390.2 120 390C117.3 389.8 114.3 388.5 112 387C109.7 385.5 107.5 383.4 106 381C104.5 378.6 102.3 373.7 103 372.3Z" fill="#000078" filter="url(#b08)"/><path d="M123.1 293C123.4 293.8 124.4 296 125 297.7C125.5 299.4 126.2 302.3 126.4 303.2" fill="none" stroke="#c8d8ff" stroke-width="1.2" stroke-linecap="round" stroke-opacity="0.9" filter="url(#b05)"/><ellipse cx="130.7" cy="324.4" rx="9" ry="5.5" fill="#a098ff" transform="rotate(-15 130.7 324.4)" fill-opacity="0.75" filter="url(#b2)"/><ellipse cx="130.7" cy="323.7" rx="4.5" ry="2.4" fill="#ffffff" transform="rotate(-15 130.7 323.7)" fill-opacity="0.95" filter="url(#b08)"/><ellipse cx="155.7" cy="344.5" rx="5" ry="2.2" fill="#e0ffff" transform="rotate(38 155.7 344.5)" fill-opacity="0.95" filter="url(#b08)"/><ellipse cx="125.9" cy="337.4" rx="6" ry="3" fill="#a0ffff" transform="rotate(25 125.9 337.4)" fill-opacity="0.7" filter="url(#b12)"/><path d="M62 350C63.7 345 67 358.7 70 362C73 365.3 76.3 367.8 80 370C83.7 372.2 88 373.8 92 375C96 376.2 102 374.2 104 377C106 379.8 111.3 389.5 104 392C96.7 394.5 67 399 60 392C53 385 60.3 355 62 350Z" fill="#000000" fill-opacity="0.25" filter="url(#b2)"/></g></g>
<g clip-path="url(#cd)"><g filter="url(#b12)"><rect x="342" y="281.3" width="132.5" height="111.6" fill="#300000"/><path d="M468.1 322L469.9 326.7L473.2 332.2L478.9 339.3L485.2 348.2L485.7 356L483.8 363.3L480.5 370L475.1 375.1L468 378.1L460.7 379.9L453.6 381L446.5 381.1L439.6 380L433.3 378.9L427.5 377.7L422 376.4L416.7 375.4L411.5 374.7L406.3 373.6L401.3 372.1L396.3 370.1L391.4 367.8L386.5 365.2L381.6 362.4L376.8 359.1L372 355.4L367.4 351.2L363.1 346.4L359.4 341L356.7 335L355.7 328.5L356.1 322L357.1 315.6L358.2 309.3L359.9 303.1L362.2 297.2L365.3 291.7L369.2 286.7L373.6 282.3L378.4 278.4L383.6 275.2L389.3 273L395.1 271.6L400.7 270.6L406.2 269.9L411.6 269.5L416.8 269.6L422 270L427.1 270.4L432.1 271L437.2 272L441.9 273.9L446.3 276.5L450.2 279.8L453.5 283.7L455.8 288.2L457.5 292.8L459 297.3L460.5 301.4L462.1 305.4L463.5 309.4L465 313.4L466.6 317.6Z" fill="#380000"/><path d="M466.5 322L468.3 326.6L471.5 331.8L477 338.7L483.2 347.4L484.1 355.2L482.3 362.3L479.1 368.9L473.8 373.8L466.9 376.7L459.7 378.5L452.8 379.6L445.8 379.5L439.1 378.4L433 377.3L427.3 376.1L422 374.8L416.9 373.8L411.9 373L406.8 372L401.9 370.4L397.2 368.4L392.5 366.1L387.9 363.6L383.2 360.8L378.7 357.6L374.2 353.9L369.9 349.9L365.7 345.3L362.1 340.2L359.4 334.4L358.4 328.3L358.8 322L359.6 315.9L360.7 309.8L362.3 303.9L364.6 298.2L367.5 292.9L371.2 288.1L375.4 283.8L380 280L384.9 276.8L390.4 274.7L395.9 273.2L401.4 272.2L406.7 271.5L411.9 271.1L417 271.2L422 271.6L426.9 272L431.8 272.6L436.7 273.7L441.2 275.5L445.5 278.1L449.2 281.3L452.3 285.1L454.5 289.5L456.1 294L457.6 298.2L459.1 302.2L460.6 306L462 309.9L463.5 313.7L465 317.8Z" fill="#440000"/><path d="M465 322L466.7 326.4L469.7 331.5L475 338.1L481.2 346.5L482.4 354.3L480.8 361.3L477.7 367.7L472.5 372.5L465.8 375.4L458.8 377.1L452 378.1L445.2 377.9L438.6 376.8L432.7 375.7L427.2 374.5L422 373.2L417.1 372.2L412.2 371.4L407.3 370.3L402.6 368.7L398.1 366.8L393.6 364.5L389.2 362L384.8 359.2L380.6 356L376.4 352.4L372.3 348.6L368.3 344.2L364.9 339.3L362.2 333.9L361.1 328L361.4 322L362.2 316.1L363.3 310.3L364.8 304.6L366.9 299.2L369.7 294.1L373.2 289.4L377.2 285.3L381.5 281.5L386.3 278.4L391.5 276.3L396.8 274.9L402.1 273.9L407.2 273.1L412.2 272.8L417.2 272.8L422 273.2L426.8 273.6L431.5 274.2L436.2 275.3L440.6 277.2L444.6 279.7L448.1 282.9L451 286.6L453.2 290.8L454.7 295.1L456.1 299.2L457.6 303L459.1 306.7L460.5 310.3L462 314.1L463.5 317.9Z" fill="#4f0000"/><path d="M463.4 322L465.1 326.2L467.9 331.1L473 337.5L479.3 345.7L480.8 353.4L479.3 360.3L476.3 366.6L471.3 371.3L464.7 374L457.9 375.7L451.2 376.6L444.5 376.3L438.2 375.3L432.4 374.2L427 372.9L422 371.6L417.2 370.6L412.5 369.7L407.8 368.7L403.3 367.1L399 365.1L394.7 362.9L390.5 360.4L386.5 357.5L382.5 354.4L378.6 351L374.8 347.3L371 343.1L367.6 338.5L364.9 333.4L363.8 327.7L364 322L364.8 316.4L365.8 310.8L367.3 305.4L369.3 300.2L371.9 295.2L375.2 290.8L379 286.7L383.1 283.1L387.6 280.1L392.5 277.9L397.7 276.5L402.7 275.5L407.7 274.8L412.5 274.4L417.3 274.5L422 274.8L426.6 275.2L431.2 275.8L435.7 277L439.9 278.8L443.7 281.3L447.1 284.4L449.8 288.1L451.8 292.2L453.3 296.3L454.7 300.2L456.1 303.8L457.5 307.3L459 310.8L460.4 314.4L461.9 318.1Z" fill="#5b0000"/><path d="M461.8 322L463.5 326.1L466.2 330.8L471.1 336.9L477.3 344.9L479.2 352.6L477.8 359.3L474.9 365.4L470 370L463.6 372.7L456.9 374.2L450.4 375.1L443.9 374.8L437.7 373.7L432.1 372.6L426.9 371.3L422 370L417.4 369L412.8 368.1L408.3 367L404 365.4L399.8 363.5L395.8 361.2L391.8 358.7L388.1 355.9L384.4 352.9L380.8 349.5L377.2 345.9L373.6 342L370.4 337.7L367.6 332.8L366.5 327.5L366.7 322L367.3 316.6L368.3 311.3L369.7 306.1L371.7 301.2L374.1 296.4L377.2 292.1L380.8 288.2L384.7 284.7L388.9 281.7L393.6 279.5L398.5 278.1L403.4 277.2L408.2 276.4L412.9 276.1L417.5 276.1L422 276.4L426.5 276.8L430.9 277.4L435.2 278.6L439.2 280.5L442.9 283L446.1 286L448.6 289.5L450.5 293.5L451.9 297.4L453.2 301.1L454.6 304.6L456 307.9L457.5 311.2L458.9 314.7L460.4 318.2Z" fill="#670000"/><path d="M460.3 322L461.9 325.9L464.4 330.4L469.1 336.3L475.3 344.1L477.6 351.7L476.3 358.3L473.5 364.3L468.7 368.7L462.5 371.3L456 372.8L449.6 373.6L443.2 373.2L437.2 372.1L431.7 371L426.7 369.7L422 368.4L417.5 367.4L413.2 366.5L408.8 365.4L404.7 363.8L400.7 361.8L396.9 359.6L393.2 357.1L389.7 354.3L386.3 351.3L383 348.1L379.6 344.6L376.3 340.9L373.1 336.8L370.3 332.3L369.2 327.2L369.3 322L369.9 316.9L370.8 311.8L372.2 306.9L374 302.1L376.3 297.6L379.2 293.4L382.6 289.7L386.2 286.2L390.2 283.3L394.7 281.2L399.4 279.7L404.1 278.8L408.7 278.1L413.2 277.7L417.6 277.7L422 278L426.3 278.4L430.5 279L434.7 280.2L438.5 282.1L442 284.6L445 287.6L447.4 291L449.2 294.8L450.5 298.6L451.8 302.1L453.2 305.3L454.5 308.5L455.9 311.7L457.4 315L458.8 318.4Z" fill="#730000"/><path d="M458.7 322L460.3 325.8L462.7 330.1L467.2 335.7L473.3 343.2L476 350.9L474.8 357.3L472.1 363.1L467.5 367.5L461.4 370L455 371.4L448.8 372.1L442.5 371.6L436.7 370.5L431.4 369.4L426.5 368.1L422 366.8L417.7 365.8L413.5 364.8L409.4 363.7L405.4 362.1L401.6 360.2L398 358L394.5 355.5L391.3 352.7L388.2 349.7L385.2 346.6L382.1 343.3L378.9 339.9L375.8 336L373.1 331.7L371.9 326.9L371.9 322L372.5 317.1L373.4 312.3L374.7 307.6L376.4 303.1L378.5 298.8L381.2 294.8L384.4 291.1L387.8 287.8L391.6 284.9L395.8 282.8L400.3 281.4L404.8 280.4L409.2 279.7L413.5 279.3L417.8 279.3L422 279.6L426.1 280L430.2 280.7L434.2 281.9L437.8 283.8L441.1 286.2L444 289.1L446.2 292.5L447.8 296.2L449.1 299.7L450.4 303L451.7 306.1L453 309.1L454.4 312.2L455.8 315.3L457.3 318.5Z" fill="#7e0000"/><path d="M457 322L458.6 325.6L460.8 329.7L465.1 335.1L471.2 342.4L474.3 350L473.2 356.2L470.6 361.9L466.1 366.1L460.2 368.5L454 369.9L447.9 370.5L441.9 369.9L436.2 368.8L431.1 367.8L426.4 366.5L422 365.1L417.9 364L413.8 363L409.9 361.9L406.2 360.2L402.6 358.3L399.2 356.2L395.9 353.8L393 351L390.2 348.1L387.5 345.1L384.6 342L381.7 338.7L378.9 335.1L376.3 331.1L375.3 326.6L375.2 322L375.7 317.4L376.5 312.9L377.6 308.5L379.2 304.3L381.1 300.1L383.5 296.3L386.4 292.8L389.6 289.6L393.1 286.7L397 284.6L401.2 283.1L405.5 282.2L409.7 281.5L413.9 281.1L418 281L422 281.3L426 281.7L429.9 282.4L433.6 283.7L437.1 285.6L440.2 288L442.8 290.8L444.9 294.1L446.4 297.6L447.6 301L448.8 304.1L450.1 307L451.4 309.8L452.7 312.7L454.2 315.6L455.6 318.7Z" fill="#a10000"/><path d="M455.2 322L456.7 325.4L458.8 329.3L462.9 334.4L468.8 341.4L472.5 349L471.5 355.1L469 360.5L464.6 364.6L458.8 366.9L452.9 368.2L446.9 368.7L441.1 368.1L435.7 367.1L430.8 366.1L426.2 364.7L422 363.1L418.1 361.9L414.3 360.9L410.6 359.7L407.1 358L403.7 356.2L400.6 354.1L397.6 351.7L394.8 349.2L392.3 346.4L389.9 343.5L387.4 340.5L384.9 337.4L382.6 333.9L380.6 330.2L379.7 326.2L379.7 322L380 317.9L380.6 313.8L381.5 309.7L382.8 305.8L384.3 301.8L386.3 298.1L388.8 294.7L391.6 291.6L394.8 288.8L398.4 286.7L402.3 285.2L406.3 284.1L410.3 283.4L414.2 283L418.2 283L422 283.3L425.8 283.7L429.5 284.5L433 285.8L436.2 287.7L439.1 290L441.6 292.7L443.4 295.9L444.8 299.2L446 302.3L447 305.3L448.2 308L449.5 310.6L450.8 313.3L452.3 316L453.8 318.9Z" fill="#c70000"/><path d="M453.3 322L454.8 325.2L456.7 328.9L460.6 333.7L466.5 340.4L470.7 348L469.8 353.9L467.3 359.2L463.1 363.1L457.5 365.2L451.7 366.4L446 366.8L440.3 366.3L435.1 365.3L430.4 364.3L426 363L422 361.2L418.3 359.9L414.7 358.8L411.2 357.5L408 355.9L404.9 354L402 352L399.2 349.7L396.7 347.3L394.4 344.6L392.2 341.9L390.1 339L388.1 336L386.3 332.8L384.8 329.4L384.2 325.7L384.2 322L384.4 318.3L384.8 314.6L385.4 310.9L386.3 307.2L387.5 303.5L389 300L391.1 296.7L393.6 293.6L396.5 290.9L399.8 288.7L403.4 287.2L407.1 286.1L410.9 285.4L414.6 285L418.4 285L422 285.2L425.6 285.7L429.1 286.5L432.3 287.9L435.4 289.7L438 292L440.3 294.7L442 297.7L443.2 300.8L444.3 303.7L445.3 306.5L446.4 309L447.6 311.4L448.9 313.8L450.4 316.3L451.9 319.1Z" fill="#ed0000"/><path d="M451.5 322L452.9 325L454.8 328.5L458.5 333.1L464.2 339.5L469 347.1L468.2 352.8L465.7 357.9L461.6 361.6L456.2 363.6L450.6 364.7L445 365.1L439.6 364.4L434.6 363.6L430.1 362.6L425.9 361.2L422 359.2L418.5 357.8L415.1 356.7L411.9 355.4L408.9 353.7L406 351.9L403.4 349.9L400.8 347.8L398.6 345.4L396.5 343L394.6 340.3L392.8 337.6L391.2 334.8L389.9 331.7L388.9 328.6L388.5 325.3L388.5 322L388.6 318.7L388.8 315.4L389.2 312L389.8 308.7L390.6 305.2L391.7 301.7L393.4 298.6L395.6 295.6L398.2 293L401.1 290.8L404.4 289.2L407.9 288L411.5 287.3L415 286.9L418.5 286.9L422 287.1L425.4 287.6L428.7 288.5L431.7 289.9L434.5 291.8L437 294L439 296.6L440.5 299.5L441.6 302.4L442.6 305.1L443.5 307.6L444.5 310L445.7 312.2L447.1 314.4L448.6 316.7L450.1 319.2Z" fill="#ff1500"/><path d="M450.6 322L452 325L453.8 328.3L457.3 332.7L462.7 338.9L467.7 346.4L467.1 352.1L464.8 357.1L460.7 360.7L455.3 362.6L449.8 363.6L444.3 363.7L439 363L434.2 362.1L429.8 361L425.7 359.5L422 357.5L418.6 356.2L415.4 355.2L412.3 354L409.4 352.5L406.6 350.9L403.9 349.1L401.4 347.1L399.2 344.8L397.1 342.4L395.3 339.8L393.6 337.2L392.2 334.4L391 331.4L390.1 328.4L389.6 325.2L389.5 322L389.6 318.8L389.7 315.6L390 312.3L390.6 309L391.3 305.6L392.4 302.2L394.1 299.1L396.2 296.2L398.7 293.6L401.6 291.5L404.8 289.9L408.2 288.8L411.7 288L415.2 287.7L418.6 287.6L422 287.9L425.3 288.4L428.5 289.3L431.5 290.7L434.2 292.6L436.6 294.8L438.5 297.3L439.9 300.2L441 303L441.9 305.7L442.8 308.1L443.8 310.4L445 312.5L446.3 314.6L447.8 316.9L449.2 319.3Z" fill="#ff3b00"/><path d="M449.7 322L451.1 324.9L452.9 328.1L456.1 332.4L461.2 338.3L466.4 345.7L466 351.4L463.8 356.3L459.7 359.7L454.5 361.6L449 362.5L443.6 362.4L438.4 361.6L433.7 360.6L429.4 359.4L425.5 357.8L422 355.8L418.8 354.6L415.7 353.7L412.7 352.7L409.8 351.3L407.1 349.9L404.5 348.2L402 346.4L399.8 344.2L397.8 341.9L396.1 339.3L394.5 336.7L393.1 334L392 331.1L391.2 328.1L390.7 325.1L390.6 322L390.5 318.9L390.6 315.8L390.9 312.6L391.4 309.3L392 306L393 302.7L394.7 299.6L396.8 296.8L399.3 294.3L402.1 292.2L405.2 290.6L408.5 289.5L411.9 288.8L415.3 288.4L418.7 288.4L422 288.6L425.2 289.2L428.3 290.1L431.2 291.5L433.9 293.4L436.1 295.6L438 298.1L439.3 300.9L440.3 303.7L441.2 306.3L442 308.6L443 310.8L444.2 312.8L445.5 314.9L447 317L448.4 319.4Z" fill="#ff6200"/><path d="M448.8 322L450.2 324.8L452 328L455 332L459.8 337.6L465.1 345L464.9 350.7L462.8 355.5L458.8 358.8L453.6 360.5L448.3 361.3L442.9 361.1L437.8 360.3L433.3 359.2L429.1 357.8L425.4 356.1L422 354L419 353L416 352.2L413.1 351.3L410.3 350.2L407.6 348.8L405 347.4L402.6 345.7L400.4 343.6L398.5 341.3L396.8 338.8L395.3 336.3L394 333.6L393.1 330.8L392.3 327.9L391.9 325L391.6 322L391.5 319L391.5 315.9L391.7 312.8L392.1 309.6L392.8 306.4L393.7 303.1L395.3 300.1L397.4 297.4L399.8 294.9L402.5 292.9L405.6 291.3L408.9 290.3L412.2 289.6L415.5 289.2L418.8 289.1L422 289.4L425.2 290L428.2 290.9L431 292.3L433.5 294.2L435.7 296.3L437.5 298.8L438.7 301.6L439.6 304.4L440.4 306.9L441.3 309.1L442.3 311.2L443.4 313.1L444.7 315.1L446.1 317.2L447.5 319.5Z" fill="#ff8800"/><path d="M448.1 322L449.5 324.7L451.2 327.8L454 331.7L458.4 337.1L463.7 344.3L463.8 349.9L461.7 354.6L457.8 357.8L452.7 359.4L447.5 360.2L442.3 359.9L437.3 359L432.9 357.8L428.8 356.3L425.2 354.6L422 352.5L419.1 351.4L416.3 350.6L413.6 349.7L411 348.5L408.5 347.2L406.1 345.8L403.7 344.3L401.6 342.4L399.8 340.2L398.2 337.9L396.7 335.5L395.4 333L394.4 330.4L393.6 327.6L393.1 324.8L392.7 322L392.6 319.1L392.5 316.1L392.7 313.1L393 310L393.6 306.8L394.5 303.6L396 300.7L398 298L400.4 295.6L403.1 293.6L406 292.2L409.2 291.1L412.4 290.4L415.6 290.1L418.8 290L422 290.3L425.1 290.8L428 291.8L430.7 293.2L433.2 295.1L435.2 297.2L436.9 299.7L438.1 302.4L439 305L439.8 307.4L440.6 309.6L441.6 311.5L442.8 313.4L444.1 315.3L445.4 317.3L446.8 319.6Z" fill="#ffae00"/><path d="M447.4 322L448.8 324.6L450.4 327.7L453 331.4L457.2 336.6L462.2 343.5L462.7 349.2L460.6 353.7L456.6 356.6L451.8 358.3L446.7 359L441.6 358.7L436.8 357.7L432.5 356.5L428.5 354.9L425.1 353.1L422 351L419.3 349.8L416.7 348.8L414.2 347.8L411.8 346.6L409.5 345.4L407.3 344L405.1 342.5L403.2 340.8L401.4 338.9L399.8 336.8L398.3 334.7L396.9 332.4L395.8 329.9L395 327.4L394.4 324.7L393.9 322L393.7 319.2L393.6 316.3L393.6 313.4L393.9 310.4L394.4 307.3L395.3 304.2L396.7 301.3L398.7 298.7L401 296.4L403.6 294.4L406.5 293L409.6 292L412.7 291.3L415.8 291L418.9 290.9L422 291.2L425 291.8L427.8 292.7L430.4 294.2L432.8 296L434.8 298.1L436.4 300.5L437.5 303.1L438.3 305.7L439.1 308L440 310L441 311.8L442.2 313.7L443.4 315.5L444.8 317.5L446.1 319.6Z" fill="#ffd500"/><path d="M446.7 322L448 324.6L449.7 327.5L452.1 331.1L455.9 336L460.8 342.7L461.5 348.4L459.5 352.8L455.5 355.5L450.8 357.1L445.9 357.8L440.9 357.4L436.3 356.5L432.1 355.2L428.3 353.5L424.9 351.7L422 349.6L419.4 348.2L417 347.1L414.7 346L412.6 344.8L410.5 343.5L408.5 342.2L406.5 340.8L404.7 339.3L403 337.6L401.5 335.7L399.9 333.8L398.4 331.8L397.2 329.5L396.4 327.1L395.7 324.6L395.1 322L394.8 319.3L394.6 316.5L394.6 313.7L394.8 310.7L395.3 307.7L396.1 304.7L397.4 301.8L399.3 299.3L401.6 297.1L404.1 295.2L407 293.9L409.9 292.9L413 292.2L416 291.9L419 291.8L422 292.1L424.9 292.7L427.6 293.7L430.2 295.1L432.4 296.9L434.3 299L435.8 301.3L436.9 303.9L437.7 306.3L438.4 308.5L439.3 310.4L440.4 312.2L441.5 313.9L442.8 315.7L444.1 317.6L445.4 319.7Z" fill="#fffb00"/><path d="M445.8 322L447.2 324.5L448.8 327.3L450.9 330.8L454.3 335.4L458.7 341.6L459.6 347.1L457.8 351.4L454.1 354.1L449.7 355.7L445 356.4L440.2 356.1L435.7 355.1L431.6 353.8L428 352L424.8 350.1L422 347.9L419.6 346.4L417.4 345.3L415.3 344.2L413.3 343L411.4 341.8L409.6 340.5L407.8 339.3L406.1 337.9L404.5 336.3L403 334.7L401.6 332.9L400.1 331.1L398.9 329L398 326.8L397.3 324.4L396.7 322L396.2 319.5L396 316.8L395.9 314.1L396 311.2L396.4 308.3L397.1 305.4L398.3 302.6L400.1 300.1L402.3 298L404.8 296.2L407.5 294.9L410.4 293.9L413.3 293.3L416.2 293L419.1 292.9L422 293.2L424.8 293.8L427.4 294.8L429.8 296.2L431.9 298L433.7 300.1L435.2 302.3L436.2 304.7L437 307L437.8 309L438.7 310.8L439.7 312.5L440.9 314.2L442.1 315.9L443.3 317.8L444.5 319.8Z" fill="#c2fa00"/><path d="M444.7 322L446 324.4L447.5 327.1L449.5 330.3L452.2 334.5L455.6 340L456.6 345.1L455.2 349.3L452.2 352.2L448.3 354L443.9 354.8L439.4 354.5L435.1 353.6L431.2 352.2L427.6 350.4L424.6 348.4L422 345.9L419.8 344.4L417.7 343.4L415.8 342.3L414 341.2L412.3 340.2L410.6 339.1L409 337.9L407.4 336.6L405.9 335.2L404.5 333.7L403.3 332L402.1 330.3L401 328.4L400.2 326.3L399.4 324.2L398.7 322L398.2 319.7L397.8 317.2L397.6 314.6L397.6 311.9L397.8 309.1L398.4 306.2L399.5 303.5L401.1 301.1L403.2 299L405.5 297.3L408.1 296L410.9 295.2L413.7 294.6L416.5 294.3L419.3 294.2L422 294.6L424.6 295.3L427.1 296.3L429.4 297.7L431.4 299.4L433 301.4L434.4 303.4L435.5 305.6L436.3 307.7L437.2 309.6L438.1 311.3L439.1 312.9L440.1 314.5L441.2 316.2L442.4 317.9L443.5 319.9Z" fill="#7ff400"/><path d="M443.7 322L444.9 324.3L446.3 326.8L448 329.9L450.1 333.6L452.5 338.3L453.5 343L452.7 347.2L450.2 350.2L446.9 352.3L442.8 353.1L438.5 352.9L434.4 352L430.7 350.6L427.3 348.7L424.4 346.7L422 343.9L420 342.4L418.1 341.4L416.4 340.5L414.7 339.5L413.1 338.6L411.6 337.6L410.1 336.5L408.6 335.4L407.3 334.1L406.1 332.6L405 331.1L404 329.4L403.1 327.7L402.3 325.9L401.5 324L400.8 322L400.2 319.9L399.7 317.6L399.4 315.1L399.2 312.5L399.2 309.8L399.6 307.1L400.6 304.4L402.1 302.1L404 300.1L406.3 298.5L408.8 297.2L411.4 296.4L414.1 296L416.8 295.6L419.4 295.5L422 296L424.5 296.8L426.8 297.8L428.9 299.1L430.8 300.8L432.3 302.7L433.7 304.6L434.7 306.5L435.6 308.4L436.5 310.1L437.4 311.7L438.4 313.2L439.4 314.8L440.4 316.4L441.5 318.1L442.5 320Z" fill="#05eb59"/><path d="M442.6 322L443.8 324.1L445.1 326.6L446.5 329.4L448 332.8L449.5 336.7L450.4 341L450.1 345.1L448.3 348.3L445.4 350.6L441.6 351.4L437.7 351.3L433.8 350.4L430.2 348.9L427 347.1L424.3 344.9L422 342L420.2 340.6L418.5 339.6L416.9 338.7L415.4 337.9L413.9 337.1L412.5 336.2L411.1 335.2L409.8 334.2L408.6 333L407.5 331.7L406.7 330.2L405.9 328.7L405.1 327.1L404.3 325.5L403.5 323.8L402.8 322L402.1 320L401.6 317.9L401.1 315.7L400.7 313.2L400.6 310.6L400.9 307.9L401.8 305.4L403.1 303.1L404.9 301.2L407.1 299.7L409.4 298.5L411.9 297.7L414.5 297.3L417 297L419.5 296.9L422 297.4L424.3 298.3L426.5 299.3L428.5 300.5L430.2 302.2L431.6 304L432.9 305.7L434 307.4L434.9 309.1L435.9 310.6L436.8 312.1L437.7 313.6L438.6 315.1L439.5 316.7L440.5 318.3L441.5 320.1Z" fill="#00f089"/><path d="M441 322L442 324L443.2 326.2L444.4 328.8L445.7 331.8L447.1 335.4L448 339.4L448 343.3L446.5 346.5L444 348.8L440.4 349.6L436.7 349.4L432.9 348.2L429.5 346.8L426.6 345.1L424.1 343.3L422 341.1L420.2 339.8L418.6 339L417 338.3L415.5 337.7L414 336.9L412.6 336.1L411.3 335L410.1 333.9L409 332.7L408.1 331.3L407.3 329.9L406.6 328.4L405.9 326.9L405.2 325.3L404.6 323.7L404 322L403.4 320.2L403 318.2L402.6 316.1L402.3 313.8L402.2 311.4L402.5 309L403.2 306.6L404.4 304.4L406.1 302.7L408.1 301.2L410.3 300.1L412.7 299.5L415 299.1L417.4 298.8L419.7 298.8L422 299.3L424.2 300L426.2 300.9L428 302.1L429.7 303.5L431 305.1L432.2 306.7L433.3 308.3L434.2 309.8L435 311.3L435.9 312.7L436.7 314.2L437.5 315.6L438.3 317.1L439.1 318.6L440 320.2Z" fill="#00f6b4"/><path d="M439.4 322L440.3 323.8L441.3 325.8L442.3 328.2L443.5 330.9L444.7 334.1L445.6 337.8L445.8 341.5L444.7 344.7L442.5 346.9L439.2 347.8L435.6 347.5L432 346.1L428.9 344.7L426.2 343.2L423.9 341.7L422 340.1L420.3 339.1L418.7 338.5L417.2 337.9L415.6 337.4L414.1 336.8L412.7 336L411.4 334.9L410.4 333.6L409.4 332.3L408.6 330.9L407.9 329.5L407.3 328.1L406.7 326.6L406.2 325.2L405.6 323.6L405.2 322L404.7 320.3L404.4 318.5L404.1 316.6L403.9 314.5L403.8 312.3L404 310L404.6 307.8L405.8 305.8L407.3 304.1L409.2 302.8L411.2 301.8L413.4 301.2L415.6 300.8L417.7 300.6L419.9 300.7L422 301.2L424 301.8L425.9 302.6L427.6 303.6L429.1 304.8L430.4 306.2L431.6 307.6L432.6 309.1L433.4 310.6L434.2 312L434.9 313.4L435.6 314.7L436.3 316.1L437 317.4L437.8 318.9L438.5 320.4Z" fill="#00fbdf"/><path d="M437.8 322L438.5 323.6L439.4 325.5L440.3 327.5L441.2 330L442.2 332.8L443.2 336.2L443.6 339.7L442.9 342.9L441 345.1L438 345.9L434.6 345.6L431.1 343.9L428.2 342.5L425.8 341.2L423.8 340.1L422 339.1L420.4 338.4L418.8 337.9L417.3 337.6L415.7 337.2L414.1 336.7L412.8 335.8L411.6 334.7L410.6 333.4L409.9 332L409.2 330.6L408.6 329.2L408 327.8L407.5 326.4L407.1 325L406.7 323.5L406.3 322L406 320.4L405.8 318.8L405.6 317L405.5 315.2L405.5 313.2L405.6 311L406.1 308.9L407.1 307.1L408.5 305.6L410.2 304.3L412.1 303.5L414.1 302.9L416.1 302.5L418.1 302.4L420.1 302.7L422 303.1L423.8 303.6L425.5 304.3L427.1 305.1L428.6 306.2L429.8 307.3L430.9 308.6L431.9 310L432.7 311.3L433.4 312.7L434 314L434.6 315.3L435.2 316.5L435.8 317.8L436.4 319.1L437.1 320.5Z" fill="#00f5ff"/><path d="M436.4 322L437 323.5L437.7 325.1L438.5 327L439.3 329.2L440.1 331.7L441 334.7L441.4 338L441 341L439.5 343.3L436.9 344.4L433.9 344.3L430.6 342.8L427.9 341.4L425.6 340.2L423.7 339.2L422 338.4L420.5 337.7L419 337.3L417.4 337L415.9 336.7L414.4 336.2L413.1 335.3L412 334.2L411.1 332.9L410.4 331.5L409.8 330.1L409.3 328.8L408.8 327.5L408.4 326.1L408 324.8L407.7 323.4L407.4 322L407.2 320.5L407 319L406.8 317.4L406.7 315.7L406.7 313.8L406.8 311.9L407.3 309.9L408.1 308.1L409.4 306.7L411 305.5L412.8 304.7L414.6 304.1L416.5 303.8L418.4 303.7L420.2 303.9L422 304.3L423.7 304.7L425.3 305.3L426.8 306.1L428.2 307.1L429.3 308.3L430.4 309.5L431.2 310.8L431.9 312.1L432.5 313.3L433.1 314.6L433.6 315.8L434.1 317L434.7 318.2L435.2 319.4L435.8 320.6Z" fill="#00cfff"/><path d="M435 322L435.5 323.3L436.1 324.8L436.8 326.5L437.4 328.4L438.2 330.6L438.9 333.3L439.3 336.2L439.2 339.2L438.1 341.6L436 342.9L433.3 343.2L430.3 342L427.7 340.7L425.5 339.6L423.6 338.6L422 337.8L420.5 337.2L419.1 336.7L417.6 336.4L416.2 336.1L414.8 335.5L413.5 334.7L412.5 333.6L411.7 332.3L411 331L410.5 329.7L410 328.4L409.6 327.1L409.2 325.9L408.9 324.6L408.6 323.3L408.4 322L408.2 320.6L408.1 319.2L408 317.7L407.9 316.2L407.9 314.4L408 312.6L408.3 310.8L409.1 309.1L410.3 307.7L411.7 306.6L413.3 305.8L415.1 305.2L416.8 304.9L418.6 304.8L420.3 305L422 305.2L423.6 305.6L425.1 306.2L426.6 307L427.8 308L428.9 309.1L429.8 310.3L430.5 311.6L431.2 312.8L431.7 314L432.2 315.2L432.7 316.3L433.1 317.4L433.6 318.5L434 319.6L434.5 320.8Z" fill="#00a8ff"/><path d="M433.6 322L434.1 323.2L434.5 324.5L435 326L435.6 327.6L436.2 329.6L436.8 331.9L437.2 334.5L437.4 337.4L436.6 339.8L435 341.4L432.7 342.1L429.9 341.2L427.4 339.9L425.4 338.9L423.6 338L422 337.2L420.6 336.6L419.2 336.1L417.8 335.8L416.4 335.4L415.1 334.9L413.9 334.1L413 333L412.2 331.8L411.6 330.5L411.1 329.3L410.7 328L410.4 326.8L410.1 325.6L409.8 324.4L409.6 323.2L409.4 322L409.3 320.7L409.1 319.4L409.1 318.1L409 316.6L409 315.1L409.1 313.4L409.4 311.7L410.1 310.1L411.1 308.7L412.4 307.7L413.9 306.9L415.5 306.3L417.1 306L418.8 305.9L420.4 306L422 306.2L423.5 306.5L425 307L426.3 307.8L427.5 308.8L428.4 310L429.2 311.2L429.9 312.4L430.4 313.6L430.9 314.7L431.3 315.8L431.7 316.8L432.1 317.8L432.4 318.8L432.8 319.8L433.2 320.9Z" fill="#0082ff"/><path d="M432.3 322L432.6 323L432.9 324.2L433.3 325.4L433.7 326.9L434.2 328.5L434.6 330.4L435.1 332.8L435.5 335.5L435.2 338.1L434 339.9L432.1 340.9L429.6 340.3L427.2 339.2L425.2 338.2L423.5 337.3L422 336.6L420.6 336L419.3 335.6L418 335.2L416.7 334.8L415.5 334.3L414.4 333.4L413.5 332.4L412.7 331.3L412.2 330.1L411.8 328.8L411.4 327.7L411.2 326.5L410.9 325.4L410.7 324.2L410.6 323.1L410.4 322L410.3 320.8L410.2 319.7L410.2 318.4L410.1 317.1L410.2 315.7L410.3 314.2L410.5 312.6L411.1 311.1L412 309.8L413.1 308.7L414.5 308L416 307.4L417.5 307.1L419 307L420.5 307.1L422 307.2L423.4 307.4L424.8 307.9L426.1 308.6L427.1 309.6L428 310.8L428.7 312L429.2 313.2L429.7 314.3L430 315.4L430.4 316.4L430.7 317.3L431 318.3L431.3 319.2L431.6 320.1L431.9 321Z" fill="#005bff"/><path d="M430.9 322L431.2 322.9L431.4 323.9L431.7 324.9L432 326.1L432.3 327.5L432.6 329.1L433.1 331.1L433.7 333.7L433.8 336.4L433 338.4L431.5 339.8L429.2 339.4L427 338.3L425.1 337.4L423.4 336.6L422 335.9L420.7 335.3L419.4 334.9L418.2 334.5L417 334.1L415.8 333.6L414.8 332.7L414 331.8L413.3 330.7L412.8 329.5L412.4 328.4L412.2 327.3L412 326.2L411.8 325.1L411.7 324.1L411.5 323L411.4 322L411.4 321L411.3 319.9L411.3 318.7L411.3 317.6L411.3 316.3L411.4 314.9L411.6 313.5L412 312L412.8 310.8L413.9 309.8L415.1 309.1L416.4 308.5L417.8 308.2L419.2 308.1L420.6 308.1L422 308.2L423.3 308.4L424.6 308.8L425.8 309.5L426.8 310.5L427.5 311.7L428.1 312.9L428.5 314L428.9 315.1L429.2 316.1L429.5 317L429.8 317.8L430 318.7L430.3 319.5L430.5 320.3L430.7 321.1Z" fill="#0035ff"/><path d="M430 322L430.2 322.8L430.5 323.7L430.7 324.6L430.9 325.7L431.2 326.9L431.5 328.4L432 330.2L432.5 332.5L432.6 334.9L431.8 336.7L430.5 338L428.5 337.6L426.4 336.7L424.8 335.9L423.3 335.1L422 334.5L420.8 334L419.7 333.6L418.6 333.3L417.5 332.9L416.5 332.4L415.6 331.6L414.8 330.8L414.2 329.8L413.7 328.8L413.4 327.7L413.2 326.7L413 325.7L412.8 324.8L412.7 323.8L412.6 322.9L412.5 322L412.4 321.1L412.4 320.1L412.4 319.1L412.4 318L412.4 316.9L412.5 315.6L412.7 314.3L413.1 313.1L413.7 311.9L414.7 311.1L415.8 310.4L417 309.9L418.2 309.6L419.5 309.5L420.8 309.5L422 309.6L423.2 309.7L424.4 310.1L425.4 310.8L426.3 311.7L427 312.7L427.5 313.8L427.9 314.8L428.2 315.8L428.5 316.7L428.7 317.5L429 318.3L429.2 319L429.4 319.8L429.6 320.5L429.8 321.2Z" fill="#000fff"/><path d="M429.1 322L429.3 322.7L429.5 323.5L429.7 324.3L429.9 325.3L430.2 326.4L430.5 327.7L430.9 329.3L431.4 331.4L431.4 333.4L430.7 335.1L429.6 336.2L427.7 335.9L425.9 335L424.4 334.3L423.1 333.6L422 333.1L421 332.6L420 332.3L419 332L418 331.7L417.1 331.2L416.3 330.6L415.6 329.8L415.1 328.9L414.7 328L414.4 327.1L414.2 326.2L414 325.3L413.9 324.5L413.8 323.6L413.7 322.8L413.6 322L413.5 321.2L413.5 320.3L413.5 319.4L413.5 318.5L413.5 317.4L413.6 316.4L413.7 315.2L414.1 314.1L414.7 313.1L415.5 312.3L416.5 311.7L417.5 311.3L418.7 311L419.8 310.9L420.9 311L422 311L423.1 311.1L424.1 311.5L425 312L425.8 312.8L426.4 313.8L426.9 314.7L427.2 315.7L427.5 316.5L427.8 317.3L428 318L428.2 318.7L428.4 319.4L428.6 320L428.8 320.7L428.9 321.3Z" fill="#0000ea"/><path d="M428.2 322L428.4 322.6L428.6 323.3L428.7 324L428.9 324.9L429.1 325.8L429.4 326.9L429.7 328.3L430.2 330.2L430.2 332L429.6 333.4L428.6 334.4L427 334.1L425.4 333.4L424.1 332.7L423 332.2L422 331.7L421.1 331.3L420.2 331L419.4 330.7L418.5 330.4L417.7 330L417 329.5L416.4 328.8L416 328L415.6 327.2L415.4 326.4L415.2 325.7L415 324.9L414.9 324.2L414.8 323.4L414.7 322.7L414.7 322L414.6 321.3L414.6 320.5L414.5 319.7L414.5 318.9L414.6 318L414.6 317.1L414.8 316.1L415.1 315.1L415.6 314.2L416.3 313.5L417.2 313L418.1 312.6L419.1 312.4L420.1 312.3L421.1 312.4L422 312.4L422.9 312.5L423.8 312.8L424.6 313.3L425.3 314L425.8 314.8L426.2 315.7L426.5 316.5L426.8 317.2L427 317.9L427.2 318.5L427.4 319.1L427.6 319.7L427.7 320.3L427.9 320.8L428.1 321.4Z" fill="#0000c7"/><path d="M427.1 322L427.2 322.5L427.4 323.1L427.5 323.7L427.7 324.4L427.9 325.1L428.1 326.1L428.4 327.2L428.7 328.7L428.7 330.2L428.3 331.4L427.4 332.1L426.1 331.9L424.8 331.3L423.8 330.8L422.8 330.3L422 329.9L421.3 329.6L420.5 329.4L419.8 329.2L419.1 328.9L418.5 328.6L417.9 328.1L417.4 327.6L417 327L416.8 326.3L416.5 325.6L416.4 325L416.3 324.4L416.2 323.8L416.1 323.2L416 322.6L416 322L415.9 321.4L415.9 320.8L415.9 320.1L415.9 319.5L415.9 318.7L415.9 318L416.1 317.1L416.3 316.3L416.8 315.6L417.4 315.1L418.1 314.6L418.8 314.3L419.6 314.1L420.4 314.1L421.2 314.1L422 314.1L422.8 314.2L423.5 314.4L424.2 314.9L424.7 315.4L425.1 316.1L425.5 316.8L425.7 317.5L425.9 318.1L426.1 318.6L426.3 319.1L426.4 319.6L426.6 320.1L426.7 320.6L426.8 321L427 321.5Z" fill="#0000a4"/><path d="M424.6 322L424.6 322.3L424.7 322.5L424.8 322.8L424.8 323.2L424.9 323.6L425 324L425.2 324.6L425.3 325.3L425.4 326.1L425.1 326.7L424.7 327.1L424.1 327L423.4 326.7L422.9 326.4L422.4 326.2L422 326L421.6 325.8L421.3 325.7L420.9 325.6L420.6 325.5L420.2 325.3L420 325.1L419.7 324.8L419.5 324.5L419.4 324.2L419.3 323.8L419.2 323.5L419.1 323.2L419.1 322.9L419 322.6L419 322.3L419 322L419 321.7L418.9 321.4L418.9 321.1L418.9 320.7L418.9 320.4L419 320L419 319.6L419.2 319.2L419.4 318.8L419.7 318.5L420 318.3L420.4 318.1L420.8 318.1L421.2 318L421.6 318L422 318.1L422.4 318.1L422.8 318.2L423.1 318.4L423.4 318.7L423.6 319.1L423.7 319.4L423.9 319.7L424 320L424.1 320.3L424.1 320.6L424.2 320.8L424.3 321.1L424.4 321.3L424.4 321.5L424.5 321.8Z" fill="#00008c"/><ellipse cx="382" cy="328" rx="5.5" ry="15" fill="#ff6a00" transform="rotate(18 382 328)" fill-opacity="0.25" filter="url(#b5)"/><path d="M354.5 324.5C354.8 323.5 357.1 320.2 358.6 318.6C360.2 317.1 361.3 316.2 363.6 315.2C366 314.2 369.7 313.5 372.7 312.7C375.8 312 380.2 310.6 381.8 310.6C383.4 310.6 382.8 312 382.4 312.7C381.9 313.5 380.9 314 379.3 315.2C377.7 316.3 375.3 318.6 372.7 319.7C370.1 320.9 366.2 321.2 363.6 322.1C361.1 323 358.8 324.6 357.3 325C355.8 325.4 354.3 325.6 354.5 324.5Z" fill="#b89800" filter="url(#b08)"/><path d="M357.1 322.5C357.5 321.8 359.4 319.6 360.9 318.5C362.5 317.3 364.4 316.5 366.4 315.7C368.3 315 370.4 314.5 372.7 313.9C375 313.3 378.8 312 380.2 311.9C381.5 311.8 381.2 312.7 380.7 313.4C380.2 314.1 378.8 315.2 377.3 316.1C375.8 317 374.1 318 371.8 318.8C369.5 319.6 365.8 320.2 363.6 320.8C361.4 321.5 359.7 322.4 358.6 322.6C357.5 322.9 356.7 323.2 357.1 322.5Z" fill="#30b050" filter="url(#b08)"/><path d="M367.3 316.8C367.8 316.1 370.7 315.2 372.7 314.5C374.8 313.7 378.6 312.5 379.6 312.5C380.7 312.5 379.9 313.6 379.1 314.5C378.3 315.3 376.3 316.7 374.7 317.4C373.1 318.1 370.8 318.8 369.5 318.7C368.3 318.6 366.7 317.5 367.3 316.8Z" fill="#00b0b8" filter="url(#b08)"/><path d="M352.1 346.5C354.1 341.7 360 356.7 363.9 360.7C367.9 364.6 371 367.2 375.7 370.1C380.5 373.1 387.9 377 392.3 378.4C396.6 379.8 400.2 376.6 401.7 378.4C403.3 380.2 410 387.2 401.7 389C393.5 390.8 360.4 396.1 352.1 389C343.8 381.9 350.1 351.2 352.1 346.5Z" fill="#000000" fill-opacity="0.22" filter="url(#b3)"/><ellipse cx="374" cy="354" rx="17" ry="8.5" fill="#000000" transform="rotate(50 374 354)" fill-opacity="0.33" filter="url(#b3)"/><path d="M403 376C403.7 375.1 405.4 371.8 407 370.3C408.6 368.8 410.6 367.7 412.6 366.8C414.6 365.9 417 365.4 419.2 364.8C421.4 364.2 423.4 363.9 425.7 363.5C427.9 363.1 431.5 362.8 432.7 362.6" fill="none" stroke="#500000" stroke-width="1.6" stroke-linecap="round" stroke-opacity="0.9" filter="url(#b05)"/><path d="M399.5 383C399.2 381.9 401.7 378.2 402.5 377C403.3 375.8 403.2 376.5 404.1 375.5C405 374.5 406.4 372.3 407.9 371C409.4 369.7 411.1 368.7 413 367.8C414.9 366.9 417.3 366.4 419.4 365.9C421.5 365.4 423.5 365 425.7 364.6C427.9 364.2 431.1 363.6 432.7 363.7C434.2 363.8 435.7 364 435 365C434.3 366 430.3 368.1 428.3 369.5C426.3 370.9 425.1 371.9 423.2 373.2C421.3 374.4 418.9 375.8 416.8 377C414.7 378.2 412.6 379.4 410.5 380.5C408.4 381.6 405.8 383.1 404 383.5C402.2 383.9 399.8 384.1 399.5 383Z" fill="url(#gd)"/><path d="M433.5 329.5C433.8 328.6 435.8 327.2 437 326C438.2 324.8 439.7 323.1 441 322C442.3 320.9 444.2 319.4 445 319.5C445.8 319.6 446.4 321.3 446 322.5C445.6 323.7 443.8 325.2 442.5 326.5C441.2 327.8 439.2 329.2 438 330C436.8 330.8 435.8 331.6 435 331.5C434.2 331.4 433.2 330.4 433.5 329.5Z" fill="#20f0ff" fill-opacity="0.95" filter="url(#b08)"/><ellipse cx="441.8" cy="321.6" rx="4.4" ry="2.8" fill="#ffffff" transform="rotate(-38 441.8 321.6)" filter="url(#b08)"/><path d="M397 300C396.6 301.7 394.9 306.7 394.5 310C394.1 313.3 394.2 316.8 394.5 320C394.8 323.2 395.5 326.2 396.5 329C397.5 331.8 398.8 334.6 400.5 337C402.2 339.4 404.8 341.8 407 343.5C409.2 345.2 411.7 346.4 414 347.5C416.3 348.6 418.3 349.1 421 350C423.7 350.9 426.8 352.4 430 353C433.2 353.6 436.7 353.8 440 353.5C443.3 353.2 448.3 351.4 450 351" fill="none" stroke="#ffff80" stroke-width="6.0" stroke-linecap="round" stroke-opacity="0.8" filter="url(#b12)"/><path d="M396 302C395.6 303.5 394.1 308 393.8 311C393.5 314 393.6 317 394 320C394.4 323 395 326.1 396 329C397 331.9 398.2 335 400 337.5C401.8 340 404.2 342.2 406.5 344C408.8 345.8 411.1 347.4 413.5 348.5C415.9 349.6 418.2 350 421 350.8C423.8 351.6 426.8 353 430 353.5C433.2 354 438.3 353.9 440 354" fill="none" stroke="#ffffff" stroke-width="3.4" stroke-linecap="round" stroke-opacity="0.7" filter="url(#b12)"/><ellipse cx="420.7" cy="329.8" rx="0.7" ry="0.7" fill="#ffffff" fill-opacity="0.9"/></g></g>
<g clip-path="url(#ce)"><g filter="url(#b12)"><rect x="45.8" y="508.8" width="147.6" height="129" fill="#300000"/><path d="M190.3 553L192.9 558.9L196.2 565.6L201.4 573.7L205.9 583.2L205.4 591.7L201.6 598.8L196.8 605.4L190.8 610.8L183.5 614.5L175.8 617L168.2 618.9L160.9 620.3L153.6 620.9L146.5 621L139.6 620.3L133 619L126.6 618.1L120.2 617.2L113.9 616L107.6 614.2L101.4 612.2L95.2 609.6L89 606.6L83.2 602.8L77.7 598.4L72.8 593.2L68.7 587.4L65.4 581L62.4 574.4L59.8 567.6L58 560.4L58.1 553L58.8 545.7L60 538.5L61.8 531.4L64.5 524.6L68 518.3L72.4 512.5L77.3 507.3L82.5 502.5L88.5 498.8L94.9 496L101.5 494.1L108 492.7L114.4 491.7L120.7 491.4L126.9 491.5L133 491.8L139 492.2L145 492.6L151.1 493.4L157 495L162.7 497.4L168 500.6L172.3 505.1L175.4 510.6L177.6 516.4L179.3 522L180.9 527.4L182.5 532.5L184.3 537.4L186.2 542.4L188.2 547.6Z" fill="#380000"/><path d="M188.9 553L191.5 558.8L194.8 565.3L199.8 573.3L204.2 582.5L204 590.9L200.3 598L195.6 604.4L189.7 609.7L182.5 613.4L175 615.8L167.6 617.7L160.3 619L153.2 619.5L146.2 619.6L139.5 618.8L133 617.5L126.7 616.7L120.5 615.8L114.3 614.5L108.2 612.8L102.1 610.8L96.1 608.3L90.1 605.2L84.5 601.5L79.3 597.1L74.6 592L70.7 586.3L67.7 580.1L64.8 573.7L62.4 567L60.7 560.1L60.8 553L61.3 545.9L62.5 539L64.2 532.1L66.9 525.6L70.2 519.5L74.4 513.9L79.1 508.7L84.2 504.2L89.9 500.5L96.1 497.8L102.5 495.9L108.8 494.5L115 493.5L121.1 493.2L127.1 493.3L133 493.6L138.8 494L144.7 494.4L150.5 495.2L156.3 496.8L161.9 499L167 502.1L171.2 506.5L174.1 511.9L176.3 517.5L178 522.9L179.6 528.1L181.1 533.1L182.9 537.9L184.8 542.7L186.9 547.7Z" fill="#440000"/><path d="M187.6 553L190 558.6L193.4 565L198.2 572.8L202.5 581.8L202.6 590.2L199 597.1L194.3 603.3L188.6 608.6L181.6 612.2L174.2 614.6L166.9 616.5L159.8 617.7L152.8 618.2L146 618.2L139.3 617.3L133 616L126.9 615.2L120.8 614.3L114.8 613.1L108.8 611.4L102.9 609.4L97 606.9L91.2 603.9L85.8 600.2L80.9 595.8L76.5 590.8L72.8 585.2L69.9 579.1L67.2 573L65 566.5L63.5 559.8L63.4 553L63.9 546.2L65 539.5L66.7 532.9L69.2 526.6L72.4 520.6L76.4 515.2L80.9 510.2L85.8 505.8L91.3 502.2L97.3 499.6L103.4 497.7L109.5 496.3L115.5 495.3L121.5 495L127.3 495.1L133 495.4L138.6 495.8L144.3 496.2L150 497L155.6 498.5L161 500.7L166 503.7L170 507.9L172.9 513.1L175 518.5L176.7 523.8L178.2 528.8L179.7 533.6L181.5 538.3L183.4 543L185.5 547.8Z" fill="#4f0000"/><path d="M186.2 553L188.6 558.5L191.9 564.7L196.6 572.3L200.8 581.1L201.2 589.4L197.7 596.2L193.1 602.3L187.5 607.5L180.6 611L173.4 613.4L166.3 615.2L159.3 616.4L152.4 616.9L145.7 616.8L139.2 615.8L133 614.6L127 613.8L121.1 612.9L115.2 611.7L109.4 610L103.6 608L97.9 605.6L92.3 602.5L87.1 598.9L82.5 594.5L78.3 589.5L74.9 584.1L72.1 578.2L69.6 572.2L67.5 566L66.2 559.6L66.1 553L66.5 546.4L67.5 540L69.2 533.6L71.6 527.6L74.6 521.8L78.4 516.5L82.7 511.7L87.4 507.4L92.7 503.9L98.5 501.3L104.4 499.4L110.2 498L116.1 497.1L121.8 496.8L127.5 496.9L133 497.2L138.5 497.6L143.9 498L149.5 498.8L154.9 500.2L160.1 502.3L164.9 505.2L168.8 509.3L171.7 514.3L173.7 519.6L175.4 524.7L176.9 529.6L178.3 534.2L180.1 538.7L182 543.2L184.1 548Z" fill="#5b0000"/><path d="M184.8 553L187.2 558.3L190.5 564.4L195 571.8L199.1 580.4L199.8 588.7L196.4 595.3L191.9 601.3L186.4 606.4L179.7 609.9L172.6 612.2L165.6 614L158.7 615.1L152 615.6L145.4 615.5L139 614.3L133 613.1L127.2 612.3L121.4 611.5L115.6 610.2L110 608.6L104.3 606.6L98.8 604.2L93.4 601.2L88.5 597.5L84 593.2L80.2 588.3L77 583L74.4 577.3L72 571.5L70.1 565.5L68.9 559.3L68.8 553L69.1 546.7L70 540.5L71.6 534.4L74 528.5L76.8 523L80.4 517.9L84.5 513.2L89 509L94.1 505.6L99.6 503.1L105.3 501.2L111 499.8L116.6 498.9L122.2 498.6L127.7 498.7L133 499.1L138.3 499.4L143.6 499.8L148.9 500.6L154.1 502L159.2 504L163.9 506.8L167.7 510.7L170.4 515.6L172.4 520.7L174 525.6L175.5 530.3L177 534.8L178.7 539.1L180.7 543.5L182.8 548.1Z" fill="#670000"/><path d="M183.4 553L185.8 558.2L189 564.1L193.4 571.3L197.4 579.7L198.4 587.9L195.1 594.5L190.6 600.3L185.2 605.2L178.7 608.7L171.8 611L165 612.8L158.2 613.8L151.6 614.2L145.1 614.1L138.9 612.8L133 611.6L127.3 610.8L121.7 610L116.1 608.8L110.6 607.2L105.1 605.3L99.7 602.8L94.5 599.9L89.8 596.2L85.6 591.9L82 587.1L79 581.8L76.6 576.3L74.4 570.8L72.6 565L71.6 559L71.4 553L71.6 547L72.6 541L74.1 535.1L76.3 529.5L79 524.2L82.4 519.2L86.3 514.7L90.6 510.6L95.5 507.3L100.8 504.8L106.3 503L111.7 501.6L117.2 500.8L122.5 500.5L127.8 500.6L133 500.9L138.1 501.2L143.2 501.6L148.4 502.3L153.4 503.7L158.3 505.7L162.8 508.3L166.5 512.2L169.2 516.8L171.1 521.7L172.7 526.5L174.1 531L175.6 535.4L177.3 539.6L179.3 543.8L181.4 548.2Z" fill="#730000"/><path d="M182.1 553L184.4 558.1L187.6 563.9L191.8 570.8L195.7 579L197 587.2L193.8 593.6L189.4 599.3L184.1 604.1L177.8 607.5L171 609.8L164.3 611.5L157.7 612.6L151.2 612.9L144.9 612.7L138.7 611.3L133 610.1L127.4 609.4L121.9 608.6L116.5 607.4L111.1 605.8L105.8 603.9L100.6 601.5L95.6 598.5L91.1 594.9L87.2 590.6L83.9 585.8L81.1 580.7L78.9 575.4L76.8 570L75.2 564.5L74.3 558.8L74.1 553L74.2 547.2L75.1 541.5L76.6 535.9L78.7 530.5L81.2 525.3L84.4 520.5L88.1 516.2L92.3 512.3L96.9 509L102 506.6L107.2 504.8L112.5 503.4L117.7 502.6L122.9 502.3L128 502.4L133 502.7L137.9 503L142.9 503.4L147.8 504.1L152.7 505.5L157.4 507.3L161.8 509.9L165.4 513.6L167.9 518.1L169.8 522.8L171.4 527.4L172.8 531.7L174.2 535.9L175.9 540L177.9 544.1L180.1 548.4Z" fill="#7e0000"/><path d="M180.6 553L182.9 557.9L186 563.5L189.9 570.3L193.8 578.2L195.3 586.3L192.3 592.6L188 598.2L182.9 602.9L176.7 606.2L170.1 608.5L163.5 610.1L157.1 611.1L150.7 611.4L144.6 611.1L138.6 609.7L133 608.5L127.6 607.7L122.3 606.9L117 605.7L111.8 604.2L106.7 602.3L101.6 599.9L96.9 597L92.6 593.4L89 589.1L86 584.4L83.5 579.5L81.5 574.3L79.6 569.2L78.2 563.9L77.5 558.5L77.2 553L77.2 547.5L78 542.1L79.4 536.7L81.3 531.6L83.7 526.6L86.6 522L90.1 517.8L94 514L98.4 510.9L103.3 508.5L108.3 506.7L113.3 505.4L118.3 504.5L123.3 504.3L128.2 504.4L133 504.7L137.7 505L142.5 505.4L147.2 506.1L151.9 507.3L156.5 509.1L160.7 511.6L164.1 515.1L166.6 519.4L168.4 523.9L169.9 528.3L171.3 532.5L172.7 536.5L174.4 540.4L176.4 544.4L178.6 548.5Z" fill="#a10000"/><path d="M179 553L181.1 557.7L184 563.1L187.7 569.6L191.6 577.3L193.3 585.2L190.5 591.4L186.4 596.8L181.4 601.4L175.3 604.6L168.9 606.8L162.6 608.4L156.3 609.3L150.2 609.6L144.2 609.2L138.4 607.7L133 606.5L127.8 605.8L122.7 605L117.6 603.7L112.6 602.2L107.7 600.3L102.9 598L98.4 595.2L94.4 591.6L91.3 587.2L88.6 582.6L86.5 577.9L84.7 573L83.2 568.1L82 563.1L81.4 558.1L81.1 553L81 547.9L81.6 542.8L82.8 537.8L84.5 532.9L86.5 528.1L89.1 523.7L92.3 519.6L96 516L100.2 513L104.8 510.7L109.5 509L114.2 507.7L119 506.8L123.8 506.5L128.4 506.6L133 506.9L137.5 507.2L142 507.6L146.6 508.2L151.1 509.4L155.4 511.1L159.5 513.4L162.8 516.7L165.1 520.9L166.9 525.2L168.3 529.4L169.7 533.4L171 537.2L172.7 541L174.8 544.7L177.1 548.7Z" fill="#c70000"/><path d="M177.3 553L179.4 557.6L182 562.8L185.5 568.9L189.3 576.3L191.3 584.1L188.7 590.2L184.7 595.5L179.9 599.9L174 603L167.8 605.1L161.7 606.7L155.6 607.5L149.6 607.8L143.8 607.3L138.2 605.7L133 604.5L128 603.8L123.1 603L118.2 601.8L113.5 600.2L108.8 598.3L104.2 596.1L99.9 593.4L96.3 589.7L93.6 585.4L91.3 580.9L89.5 576.3L88 571.7L86.7 567L85.8 562.4L85.3 557.7L84.9 553L84.8 548.3L85.2 543.5L86.2 538.8L87.6 534.2L89.3 529.7L91.6 525.3L94.6 521.5L98 518L102 515.2L106.2 512.9L110.7 511.2L115.2 509.9L119.7 509.1L124.2 508.8L128.7 508.9L133 509.2L137.3 509.5L141.6 509.8L145.9 510.4L150.2 511.5L154.4 513L158.2 515.2L161.4 518.4L163.7 522.3L165.3 526.5L166.7 530.5L168 534.3L169.3 537.9L171 541.5L173.2 545L175.5 548.8Z" fill="#ed0000"/><path d="M175.7 553L177.7 557.4L180.1 562.4L183.3 568.3L187 575.4L189.3 583.1L187 589.1L183.1 594.1L178.4 598.4L172.7 601.4L166.7 603.4L160.8 604.9L154.9 605.8L149.1 606L143.4 605.4L138 603.7L133 602.6L128.2 601.8L123.5 601L118.8 599.8L114.3 598.2L109.8 596.3L105.5 594.2L101.3 591.6L98.1 587.9L95.8 583.6L93.9 579.1L92.4 574.7L91.1 570.4L90.2 566L89.5 561.7L89.1 557.3L88.7 553L88.5 548.6L88.7 544.2L89.6 539.8L90.7 535.5L92.1 531.1L94.1 527L96.8 523.3L100 520L103.7 517.3L107.7 515.1L111.8 513.4L116.1 512.2L120.4 511.3L124.7 511.1L128.9 511.1L133 511.4L137.1 511.7L141.2 512L145.3 512.5L149.4 513.5L153.3 515L157.1 517L160.1 520L162.2 523.8L163.8 527.7L165.2 531.5L166.4 535.1L167.7 538.6L169.3 542L171.6 545.3L174 549Z" fill="#ff1500"/><path d="M174.9 553L176.8 557.3L179.2 562.2L182.2 567.9L185.8 574.9L188.1 582.4L185.9 588.4L182 593.2L177.3 597.3L171.7 600.2L165.9 602.2L160.1 603.7L154.3 604.5L148.7 604.6L143.1 603.9L137.8 602.2L133 601L128.3 600.3L123.7 599.5L119.3 598.3L114.9 596.8L110.6 594.9L106.4 592.8L102.4 590.3L99.1 586.9L96.8 582.7L94.9 578.5L93.4 574.2L92.1 569.9L91.1 565.7L90.4 561.5L90 557.2L89.6 553L89.4 548.7L89.6 544.4L90.4 540.1L91.5 535.8L92.9 531.6L94.8 527.5L97.5 523.8L100.6 520.6L104.2 517.9L108.1 515.8L112.3 514.2L116.4 513L120.6 512.2L124.8 512L129 512.1L133 512.3L137 512.6L141 512.9L145 513.4L149 514.4L152.8 515.9L156.5 517.9L159.4 520.8L161.5 524.5L163 528.3L164.3 532.1L165.5 535.6L166.8 539L168.5 542.2L170.8 545.5L173.1 549Z" fill="#ff3b00"/><path d="M174.1 553L176 557.2L178.2 562L181 567.6L184.5 574.3L186.8 581.8L184.9 587.7L180.9 592.3L176.2 596.2L170.8 599L165.1 601L159.4 602.4L153.8 603.1L148.3 603.3L142.8 602.5L137.7 600.7L133 599.5L128.5 598.8L124 598L119.7 596.8L115.5 595.3L111.4 593.5L107.3 591.4L103.4 589L100.2 585.8L97.8 581.9L95.9 577.8L94.4 573.6L93.1 569.5L92 565.4L91.3 561.3L90.9 557.1L90.5 553L90.3 548.8L90.4 544.5L91.1 540.3L92.3 536.1L93.7 532L95.6 528L98.2 524.4L101.2 521.2L104.7 518.5L108.6 516.5L112.7 515L116.8 513.9L120.9 513.2L125 512.9L129.1 513L133 513.2L136.9 513.5L140.8 513.8L144.7 514.3L148.6 515.4L152.4 516.8L155.8 518.8L158.7 521.7L160.7 525.3L162.2 529L163.5 532.6L164.7 536.1L166 539.3L167.7 542.5L170 545.6L172.3 549.1Z" fill="#ff6200"/><path d="M173.2 553L175.1 557.1L177.3 561.8L179.9 567.2L183.2 573.8L185.6 581.1L183.8 587L179.8 591.4L175.1 595.1L169.8 597.8L164.3 599.8L158.7 601.1L153.2 601.8L147.8 601.9L142.5 601L137.5 599.2L133 598L128.6 597.3L124.3 596.5L120.1 595.4L116.1 593.8L112.1 592.1L108.2 590.1L104.5 587.8L101.2 584.8L98.8 581.1L96.9 577.1L95.4 573.1L94.1 569.1L93 565.1L92.3 561.1L91.8 557.1L91.5 553L91.2 548.9L91.3 544.7L91.9 540.5L93.1 536.5L94.5 532.4L96.4 528.5L98.9 525L101.8 521.8L105.3 519.2L109.1 517.2L113.1 515.8L117.2 514.8L121.2 514.1L125.2 513.8L129.1 513.9L133 514.1L136.8 514.4L140.6 514.7L144.5 515.2L148.2 516.3L151.9 517.7L155.2 519.7L158 522.5L160 526L161.4 529.7L162.7 533.2L163.8 536.5L165.1 539.7L166.9 542.7L169.2 545.8L171.4 549.2Z" fill="#ff8800"/><path d="M172.4 553L174.3 557.1L176.4 561.6L178.8 566.9L181.9 573.3L184.2 580.4L182.5 586.1L178.5 590.3L173.8 593.8L168.6 596.4L163.2 598.2L157.8 599.5L152.5 600.1L147.3 600.1L142.1 599L137.4 597.2L133 596L128.8 595.3L124.8 594.5L120.8 593.3L116.9 591.9L113.1 590.2L109.4 588.3L105.8 586.1L102.7 583.3L100.4 579.8L98.5 576L97 572.2L95.7 568.4L94.7 564.6L94 560.8L93.6 556.9L93.2 553L93 549.1L93.1 545.1L93.7 541.1L94.9 537.2L96.3 533.4L98 529.6L100.3 526.2L103.1 523.1L106.4 520.5L110 518.5L113.8 517.1L117.7 516.1L121.6 515.5L125.5 515.2L129.3 515.2L133 515.4L136.7 515.7L140.4 516L144.1 516.5L147.7 517.5L151.2 518.9L154.5 520.9L157.1 523.6L159.1 526.9L160.5 530.4L161.8 533.8L162.9 537L164.3 540L166.1 543L168.4 546L170.6 549.3Z" fill="#ffae00"/><path d="M171.7 553L173.6 557L175.5 561.5L177.7 566.6L180.5 572.7L182.7 579.5L181.1 585.2L177 589.1L172.4 592.4L167.3 594.8L162.1 596.6L156.9 597.7L151.7 598.2L146.7 598L141.7 596.8L137.1 595.1L133 593.9L129.1 593L125.2 592.2L121.4 591.1L117.8 589.8L114.2 588.2L110.7 586.4L107.3 584.3L104.4 581.6L102.2 578.3L100.4 574.8L98.9 571.2L97.6 567.7L96.6 564L96 560.4L95.6 556.7L95.3 553L95.1 549.3L95.3 545.5L96 541.8L97.1 538.1L98.4 534.5L100 531L102.1 527.7L104.7 524.7L107.7 522.1L111 520.1L114.7 518.7L118.4 517.7L122.1 517.1L125.8 516.8L129.4 516.8L133 517L136.5 517.2L140.1 517.5L143.6 517.9L147.1 518.9L150.5 520.3L153.6 522.2L156.2 524.7L158.1 527.9L159.6 531.2L160.8 534.4L162 537.5L163.4 540.4L165.3 543.2L167.6 546.1L169.8 549.4Z" fill="#ffd500"/><path d="M170.9 553L172.8 556.9L174.7 561.3L176.7 566.2L179.1 572.1L181.1 578.7L179.7 584.2L175.6 588L170.9 590.9L166 593.2L161 594.9L155.9 595.9L150.9 596.3L146 596L141.3 594.6L136.9 592.9L133 591.7L129.3 590.8L125.7 589.9L122.1 588.9L118.7 587.6L115.3 586.2L111.9 584.5L108.7 582.6L106.1 579.9L104 576.8L102.3 573.5L100.7 570.2L99.5 566.9L98.6 563.4L98 560L97.7 556.5L97.4 553L97.2 549.5L97.4 545.9L98.2 542.4L99.3 539L100.5 535.7L102 532.3L103.9 529.1L106.3 526.3L109 523.8L112.1 521.7L115.5 520.3L119 519.3L122.6 518.7L126.1 518.3L129.6 518.3L133 518.5L136.4 518.7L139.8 518.9L143.2 519.3L146.6 520.3L149.8 521.6L152.7 523.5L155.2 525.9L157.1 528.9L158.6 532L159.8 535.1L161.1 538L162.5 540.8L164.5 543.5L166.8 546.3L168.9 549.5Z" fill="#fffb00"/><path d="M169.8 553L171.7 556.8L173.4 561L175.2 565.8L177.2 571.3L178.8 577.5L177.4 582.7L173.4 586.2L169 589L164.4 591.3L159.7 593L154.9 594L150.1 594.4L145.4 594L140.9 592.7L136.7 591.1L133 589.8L129.5 588.8L126.1 587.8L122.8 586.7L119.6 585.4L116.5 583.9L113.4 582.3L110.5 580.4L108.1 577.9L106.2 575L104.5 572L103 569L101.8 565.9L100.9 562.7L100.4 559.5L100.1 556.2L99.7 553L99.5 549.7L99.8 546.4L100.5 543.1L101.4 539.9L102.5 536.7L103.9 533.5L105.6 530.5L107.7 527.7L110.3 525.3L113.1 523.2L116.3 521.8L119.7 520.9L123.1 520.3L126.4 519.9L129.7 519.8L133 520L136.2 520.2L139.5 520.4L142.8 520.8L146 521.7L149 523.1L151.8 524.9L154.2 527.2L156.1 529.9L157.5 532.9L158.8 535.8L160.1 538.5L161.6 541.2L163.5 543.7L165.8 546.5L167.9 549.6Z" fill="#c2fa00"/><path d="M168.3 553L170 556.6L171.6 560.7L173 565.1L174.4 570.1L175.2 575.6L173.7 580.2L170.2 583.5L166.3 586.3L162.3 588.7L158.1 590.6L153.7 591.7L149.3 592.3L144.9 592.1L140.6 591.1L136.6 589.7L133 588.4L129.6 587.2L126.5 585.9L123.4 584.5L120.6 583L117.8 581.4L115.2 579.6L112.8 577.6L110.7 575.3L108.9 572.8L107.3 570.2L105.8 567.5L104.7 564.7L103.8 561.8L103.3 558.9L102.9 556L102.5 553L102.3 550L102.3 546.9L102.8 543.8L103.5 540.8L104.3 537.7L105.5 534.6L107 531.7L109 529L111.4 526.7L114.1 524.7L117.1 523.3L120.3 522.4L123.5 521.8L126.7 521.5L129.9 521.4L133 521.5L136.1 521.7L139.2 521.9L142.3 522.3L145.4 523.2L148.2 524.6L150.8 526.4L153 528.6L154.9 531.1L156.3 533.8L157.7 536.5L159 539.1L160.6 541.6L162.4 544.1L164.5 546.7L166.4 549.7Z" fill="#7ff400"/><path d="M166.7 553L168.4 556.5L169.7 560.3L170.8 564.5L171.6 569L171.6 573.6L170 577.7L167 580.9L163.6 583.6L160.2 586.2L156.5 588.2L152.5 589.5L148.4 590.2L144.3 590.2L140.3 589.5L136.5 588.3L133 586.9L129.8 585.5L126.8 584L124.1 582.4L121.5 580.7L119.2 578.8L117 576.9L115 574.9L113.2 572.8L111.6 570.6L110.1 568.3L108.7 566L107.6 563.5L106.7 561L106.1 558.3L105.7 555.7L105.3 553L105 550.2L104.9 547.4L105.1 544.5L105.5 541.6L106.1 538.6L107.1 535.7L108.5 532.9L110.3 530.3L112.5 528.1L115.1 526.2L117.9 524.8L121 523.9L124 523.4L127 523L130 522.9L133 523L135.9 523.3L138.9 523.5L141.8 523.8L144.7 524.7L147.4 526.1L149.8 527.9L151.9 530L153.7 532.3L155.2 534.8L156.5 537.3L157.9 539.7L159.5 542L161.3 544.4L163.2 547L165 549.8Z" fill="#05eb59"/><path d="M165.2 553L166.7 556.3L167.9 559.9L168.6 563.8L168.8 567.8L168.1 571.8L166.5 575.4L163.9 578.3L161.1 581.1L158.2 583.7L155 585.9L151.3 587.3L147.6 588.2L143.7 588.4L139.9 587.9L136.3 586.9L133 585.5L130 583.9L127.2 582.2L124.7 580.4L122.5 578.5L120.5 576.4L118.8 574.3L117.1 572.3L115.6 570.4L114.1 568.5L112.7 566.6L111.4 564.5L110.3 562.4L109.5 560.1L108.9 557.8L108.4 555.4L107.9 553L107.6 550.5L107.4 547.9L107.3 545.2L107.4 542.4L107.9 539.6L108.7 536.8L109.9 534L111.5 531.5L113.6 529.4L116.1 527.7L118.7 526.3L121.6 525.4L124.5 524.9L127.3 524.6L130.2 524.4L133 524.5L135.8 524.8L138.6 525L141.4 525.3L144.1 526.2L146.6 527.6L148.8 529.4L150.7 531.4L152.5 533.5L154 535.8L155.4 538L156.9 540.3L158.5 542.5L160.2 544.8L161.9 547.3L163.5 550Z" fill="#00f089"/><path d="M163.2 553L164.5 556.1L165.6 559.5L166.3 563.1L166.5 566.9L166.1 570.7L164.8 574.3L162.7 577.4L160.3 580.3L157.5 582.8L154.2 584.8L150.7 586L147 586.8L143.3 586.9L139.6 586.2L136.1 585L133 583.9L130.1 582.8L127.3 581.5L124.9 579.7L122.8 577.7L120.9 575.7L119.2 573.7L117.6 571.7L116.2 569.8L114.8 567.9L113.5 566L112.4 564L111.4 561.9L110.7 559.8L110.1 557.6L109.6 555.3L109.2 553L108.9 550.6L108.8 548.2L108.7 545.6L108.8 543L109.2 540.3L109.9 537.6L111 534.9L112.5 532.5L114.5 530.4L116.8 528.7L119.4 527.5L122.1 526.7L124.9 526.2L127.6 525.9L130.3 525.7L133 525.8L135.7 526L138.3 526.3L141 526.7L143.6 527.5L145.9 528.9L148 530.6L149.8 532.5L151.4 534.6L152.9 536.7L154.3 538.8L155.7 540.9L157.2 543L158.7 545.2L160.3 547.6L161.7 550.2Z" fill="#00f6b4"/><path d="M161.2 553L162.3 555.9L163.2 559L163.9 562.4L164.3 565.9L164 569.6L163.1 573.1L161.5 576.4L159.4 579.4L156.8 581.9L153.5 583.7L150 584.8L146.4 585.4L142.8 585.4L139.3 584.4L136 583.1L133 582.3L130.2 581.8L127.5 580.7L125.1 579L123 577L121.2 575L119.6 573L118.1 571.1L116.8 569.2L115.5 567.4L114.3 565.5L113.3 563.5L112.5 561.5L111.8 559.4L111.2 557.3L110.8 555.2L110.5 553L110.3 550.8L110.1 548.5L110.1 546L110.1 543.5L110.4 540.9L111.1 538.3L112.1 535.8L113.5 533.5L115.3 531.4L117.5 529.8L120 528.7L122.6 527.9L125.3 527.5L127.9 527.2L130.4 527.1L133 527.1L135.5 527.3L138.1 527.5L140.6 528L143 528.9L145.2 530.2L147.1 531.8L148.9 533.7L150.4 535.6L151.8 537.6L153.1 539.5L154.5 541.5L155.9 543.5L157.3 545.6L158.7 547.9L159.9 550.3Z" fill="#00fbdf"/><path d="M159.2 553L160.1 555.7L160.9 558.6L161.6 561.7L162 565L162 568.5L161.5 572L160.4 575.5L158.6 578.6L156 581L152.7 582.6L149.3 583.5L145.8 584L142.4 583.9L138.9 582.7L135.8 581.2L133 580.7L130.3 580.7L127.6 580L125.3 578.3L123.3 576.3L121.6 574.3L120 572.4L118.6 570.5L117.3 568.7L116.2 566.8L115.2 564.9L114.3 563L113.6 561.1L112.9 559.1L112.4 557.1L112 555.1L111.8 553L111.6 550.9L111.5 548.7L111.4 546.5L111.4 544.1L111.6 541.6L112.2 539.1L113.1 536.7L114.4 534.4L116.1 532.4L118.2 530.9L120.6 529.8L123.1 529.1L125.6 528.7L128.1 528.5L130.6 528.4L133 528.4L135.4 528.5L137.8 528.8L140.2 529.3L142.4 530.2L144.5 531.4L146.3 533.1L147.9 534.8L149.3 536.7L150.7 538.5L152 540.3L153.3 542.1L154.6 544L155.9 546.1L157 548.2L158.1 550.5Z" fill="#00f5ff"/><path d="M157 553L157.8 555.4L158.4 558.1L159 560.9L159.4 563.9L159.5 567.2L159.2 570.5L158.4 573.9L157.1 577.1L154.9 579.6L151.8 581.2L148.6 582.1L145.2 582.4L141.9 582.2L138.6 581L135.6 579.5L133 579L130.4 579L128 578.3L125.8 576.7L123.9 574.9L122.3 573.1L120.8 571.3L119.4 569.6L118.1 567.9L117 566.1L116.1 564.3L115.2 562.5L114.5 560.6L113.9 558.8L113.5 556.9L113.1 555L112.9 553L112.8 551L112.7 549L112.7 546.8L112.7 544.6L112.9 542.2L113.4 539.9L114.2 537.6L115.4 535.4L116.9 533.4L118.9 531.9L121.2 530.9L123.6 530.2L126 529.8L128.3 529.6L130.7 529.5L133 529.6L135.3 529.8L137.6 530.1L139.8 530.6L141.9 531.4L143.9 532.6L145.7 534L147.2 535.7L148.6 537.4L149.8 539.2L151 541L152.2 542.8L153.3 544.6L154.3 546.5L155.3 548.6L156.2 550.7Z" fill="#00cfff"/><path d="M154.8 553L155.3 555.2L155.9 557.5L156.3 560.1L156.7 562.8L156.9 565.8L156.8 568.9L156.3 572.1L155.4 575.4L153.6 578L150.9 579.7L147.8 580.7L144.5 580.9L141.3 580.5L138.2 579.3L135.5 577.9L133 577.3L130.6 577L128.4 576.3L126.4 574.9L124.6 573.3L123 571.7L121.5 570.1L120.2 568.6L119 567L117.9 565.4L117 563.7L116.2 562L115.5 560.3L114.9 558.5L114.5 556.7L114.1 554.9L114 553L113.9 551.1L113.8 549.2L113.9 547.2L113.9 545.1L114.1 542.9L114.5 540.7L115.3 538.4L116.3 536.3L117.8 534.4L119.6 532.9L121.7 531.9L124 531.2L126.3 530.8L128.5 530.6L130.8 530.6L133 530.7L135.2 531L137.3 531.3L139.4 531.8L141.4 532.6L143.3 533.7L145 535L146.6 536.4L147.9 538.1L149 539.9L150 541.6L151 543.4L151.9 545.2L152.7 547L153.5 548.9L154.1 550.9Z" fill="#00a8ff"/><path d="M152.5 553L152.9 555L153.3 557L153.6 559.3L154 561.7L154.3 564.4L154.4 567.3L154.2 570.4L153.6 573.6L152.3 576.5L149.9 578.3L147 579.3L143.9 579.3L140.8 578.7L137.9 577.6L135.3 576.3L133 575.6L130.8 575.1L128.8 574.3L126.9 573L125.3 571.6L123.8 570.3L122.3 568.9L121 567.6L119.9 566.1L118.8 564.6L117.9 563.1L117.1 561.5L116.4 559.9L115.9 558.2L115.4 556.5L115.2 554.8L115 553L115 551.2L115 549.4L115 547.6L115.1 545.6L115.3 543.5L115.7 541.4L116.3 539.3L117.2 537.2L118.6 535.4L120.3 533.9L122.2 532.9L124.4 532.2L126.6 531.7L128.7 531.6L130.9 531.7L133 531.9L135.1 532.2L137.1 532.6L139 533.1L141 533.8L142.7 534.8L144.4 535.9L146 537.2L147.2 538.8L148.2 540.5L149 542.3L149.8 544L150.5 545.8L151.1 547.5L151.6 549.3L152.1 551.1Z" fill="#0082ff"/><path d="M150.3 553L150.5 554.7L150.7 556.5L151 558.5L151.3 560.6L151.6 563L151.9 565.6L152 568.6L151.9 571.9L151 574.9L148.9 576.8L146.3 577.8L143.2 577.7L140.3 577L137.6 575.9L135.1 574.7L133 573.8L131 573.1L129.2 572.2L127.5 571.2L126 570L124.5 568.9L123.1 567.8L121.9 566.6L120.7 565.3L119.7 563.9L118.8 562.5L118 561L117.4 559.5L116.8 557.9L116.4 556.3L116.2 554.7L116.1 553L116.1 551.3L116.2 549.6L116.2 547.9L116.3 546.1L116.5 544.2L116.8 542.2L117.4 540.2L118.2 538.2L119.4 536.4L120.9 534.9L122.8 533.9L124.8 533.2L126.9 532.7L128.9 532.6L131 532.7L133 533L134.9 533.4L136.8 533.8L138.7 534.3L140.5 535L142.2 535.8L143.8 536.8L145.3 538L146.5 539.5L147.4 541.2L148.1 542.9L148.6 544.7L149.1 546.3L149.5 548L149.8 549.7L150.1 551.3Z" fill="#005bff"/><path d="M148.1 553L148.2 554.5L148.2 556L148.4 557.7L148.7 559.5L149.1 561.6L149.6 564.1L149.9 566.9L150.2 570.2L149.6 573.2L147.9 575.3L145.5 576.3L142.5 576L139.7 575.2L137.2 574.2L135 573.1L133 572.1L131.2 571.2L129.6 570.2L128.1 569.3L126.6 568.4L125.3 567.5L123.9 566.5L122.7 565.5L121.6 564.4L120.7 563.1L119.8 561.8L119 560.5L118.4 559.1L117.9 557.6L117.5 556.1L117.3 554.5L117.2 553L117.3 551.5L117.4 549.9L117.5 548.3L117.6 546.6L117.8 544.9L118 543L118.5 541.1L119.2 539.2L120.2 537.4L121.7 536L123.4 535L125.2 534.2L127.2 533.8L129.2 533.7L131.1 533.9L133 534.3L134.8 534.7L136.6 535.1L138.3 535.6L139.9 536.2L141.6 537L143.2 537.8L144.6 538.8L145.8 540.2L146.5 541.9L147 543.6L147.4 545.3L147.7 546.9L147.9 548.5L148 550L148.1 551.5Z" fill="#0035ff"/><path d="M146.6 553L146.6 554.3L146.7 555.7L146.9 557.2L147.1 558.8L147.5 560.7L147.9 563L148.2 565.5L148.4 568.4L147.9 571.2L146.4 573L144.2 573.9L141.6 573.7L139 572.9L136.8 572L134.8 571L133 570.2L131.4 569.3L129.9 568.5L128.6 567.7L127.3 566.8L126 566L124.9 565.2L123.8 564.2L122.8 563.2L121.9 562.1L121.1 560.9L120.4 559.7L119.9 558.4L119.4 557.1L119.1 555.8L118.9 554.4L118.8 553L118.9 551.6L118.9 550.2L119 548.8L119.1 547.3L119.3 545.7L119.5 544L119.9 542.3L120.6 540.6L121.5 539L122.8 537.8L124.3 536.8L126 536.2L127.8 535.8L129.6 535.7L131.3 535.8L133 536.2L134.6 536.5L136.2 536.9L137.7 537.4L139.2 537.9L140.7 538.6L142.1 539.3L143.5 540.3L144.5 541.5L145.2 543L145.6 544.6L145.9 546.1L146.2 547.5L146.4 548.9L146.5 550.3L146.6 551.7Z" fill="#000fff"/><path d="M145.1 553L145.1 554.2L145.2 555.4L145.3 556.7L145.5 558.2L145.8 559.9L146.2 561.8L146.5 564.1L146.7 566.7L146.2 569.1L144.9 570.7L142.9 571.6L140.6 571.3L138.4 570.7L136.4 569.9L134.6 569L133 568.2L131.6 567.5L130.3 566.7L129.1 566L127.9 565.3L126.8 564.6L125.8 563.8L124.8 563L123.9 562.1L123.2 561.1L122.5 560L121.9 559L121.3 557.8L120.9 556.7L120.6 555.5L120.5 554.2L120.4 553L120.5 551.8L120.5 550.5L120.6 549.2L120.7 547.9L120.9 546.5L121.1 545L121.4 543.5L122 542L122.8 540.6L124 539.5L125.3 538.6L126.8 538.1L128.4 537.7L129.9 537.6L131.5 537.8L133 538.1L134.4 538.4L135.8 538.7L137.2 539.1L138.5 539.6L139.8 540.2L141.1 540.9L142.3 541.7L143.2 542.8L143.8 544.1L144.2 545.5L144.5 546.9L144.7 548.2L144.9 549.4L145 550.6L145 551.8Z" fill="#0000ea"/><path d="M143.5 553L143.5 554L143.6 555.1L143.7 556.3L143.9 557.5L144.2 559L144.5 560.7L144.8 562.7L144.9 564.9L144.6 567.1L143.3 568.5L141.7 569.2L139.6 569L137.7 568.4L135.9 567.7L134.4 567L133 566.3L131.8 565.6L130.6 565L129.6 564.3L128.6 563.7L127.6 563.1L126.7 562.4L125.9 561.7L125.1 560.9L124.4 560L123.8 559.1L123.3 558.2L122.8 557.2L122.5 556.2L122.2 555.1L122.1 554.1L122 553L122.1 551.9L122.1 550.8L122.2 549.7L122.3 548.6L122.4 547.3L122.6 546L122.9 544.7L123.4 543.4L124.1 542.2L125.1 541.2L126.3 540.5L127.6 540L129 539.7L130.3 539.6L131.7 539.7L133 540L134.3 540.2L135.5 540.5L136.7 540.9L137.8 541.3L138.9 541.9L140.1 542.4L141.1 543.1L141.9 544.1L142.4 545.3L142.8 546.5L143 547.7L143.2 548.8L143.4 549.9L143.5 550.9L143.5 552Z" fill="#0000c7"/><path d="M141.6 553L141.7 553.9L141.7 554.7L141.8 555.7L142 556.7L142.2 557.9L142.5 559.3L142.7 560.9L142.8 562.8L142.5 564.6L141.5 565.7L140.1 566.3L138.4 566.1L136.8 565.7L135.4 565.1L134.1 564.5L133 563.9L132 563.4L131 562.8L130.2 562.3L129.4 561.8L128.6 561.3L127.8 560.7L127.1 560.1L126.5 559.5L126 558.8L125.5 558L125 557.3L124.6 556.5L124.4 555.6L124.1 554.8L124 553.9L124 553L124 552.1L124.1 551.2L124.1 550.3L124.2 549.4L124.3 548.3L124.5 547.3L124.7 546.2L125.1 545.1L125.7 544.1L126.5 543.3L127.5 542.7L128.6 542.3L129.7 542L130.8 542L131.9 542.1L133 542.3L134 542.5L135 542.8L136 543.1L137 543.4L137.9 543.9L138.8 544.3L139.6 544.9L140.3 545.7L140.7 546.7L141 547.6L141.2 548.6L141.4 549.5L141.5 550.4L141.6 551.3L141.6 552.2Z" fill="#0000a4"/><path d="M137.3 553L137.3 553.4L137.4 553.9L137.4 554.3L137.5 554.9L137.6 555.5L137.7 556.2L137.8 557L137.9 557.9L137.7 558.8L137.2 559.4L136.6 559.7L135.7 559.6L134.9 559.3L134.2 559.1L133.6 558.7L133 558.4L132.5 558.2L132 557.9L131.6 557.7L131.2 557.4L130.8 557.1L130.4 556.9L130.1 556.6L129.8 556.2L129.5 555.9L129.2 555.5L129 555.1L128.8 554.7L128.7 554.3L128.6 553.9L128.5 553.4L128.5 553L128.5 552.6L128.5 552.1L128.6 551.7L128.6 551.2L128.6 550.7L128.7 550.1L128.8 549.6L129.1 549.1L129.4 548.6L129.8 548.2L130.2 547.9L130.8 547.6L131.3 547.5L131.9 547.5L132.5 547.5L133 547.6L133.5 547.8L134 547.9L134.5 548L135 548.2L135.4 548.4L135.9 548.7L136.3 549L136.7 549.3L136.9 549.8L137 550.3L137.1 550.8L137.2 551.3L137.3 551.7L137.3 552.1L137.3 552.6Z" fill="#00008c"/><ellipse cx="86" cy="552" rx="5" ry="13" fill="#ff6a00" transform="rotate(30 86 552)" fill-opacity="0.22" filter="url(#b5)"/><path d="M55 584.2C56.6 579.1 60.5 595.6 64.5 600.7C68.4 605.9 73.5 611.2 78.6 614.9C83.8 618.7 89.7 621.6 95.2 623.2C100.7 624.8 109 623 111.7 624.4C114.5 625.8 121.2 630.3 111.7 631.5C102.3 632.7 64.5 639.4 55 631.5C45.5 623.6 53.4 589.3 55 584.2Z" fill="#000000" fill-opacity="0.22" filter="url(#b3)"/><ellipse cx="74" cy="592" rx="16" ry="9" fill="#000000" transform="rotate(48 74 592)" fill-opacity="0.3" filter="url(#b3)"/><path d="M122 603.5C123.7 603.7 128.7 604.7 132 604.5C135.3 604.3 138.7 603.5 142 602.5C145.3 601.5 149 600 152 598.5C155 597 158.7 594.3 160 593.5" fill="none" stroke="#404000" stroke-width="6.0" stroke-linecap="round" stroke-opacity="0.28" filter="url(#b3)"/><path d="M109 622.5C109.6 621.9 110.8 620.3 112.4 618.6C114 616.9 116.2 614.2 118.5 612.4C120.8 610.6 123.5 609.1 126.3 607.8C129.1 606.4 132.4 605.5 135.5 604.3C138.6 603.1 141.7 601.8 144.8 600.5C147.9 599.2 151.6 597.7 154.1 596.5C156.6 595.3 159 593.8 160 593.3" fill="none" stroke="#3a2800" stroke-width="2.0" stroke-linecap="round" stroke-opacity="0.7" filter="url(#b08)"/><path d="M106 629C105 628.2 107.9 625 109 623.5C110.1 622 110.8 621.4 112.4 619.8C114 618.1 116.2 615.4 118.5 613.6C120.8 611.8 123.5 610.4 126.3 609C129.1 607.6 132.4 606.7 135.5 605.5C138.6 604.3 141.7 603 144.8 601.7C147.9 600.4 151.3 599.1 154.1 597.7C156.9 596.3 159.5 594.9 161.8 593.5C164.1 592.1 166.3 590.1 168 589.5C169.7 588.9 173.3 588.2 172 590C170.7 591.8 164.3 596.7 160 600C155.7 603.3 151 606.7 146 610C141 613.3 135.2 617 130 620C124.8 623 119 626.5 115 628C111 629.5 107 629.8 106 629Z" fill="url(#ge)"/><ellipse cx="146" cy="557.5" rx="13" ry="4.2" fill="#9090ff" transform="rotate(-10 146 557.5)" fill-opacity="0.5" filter="url(#b12)"/><ellipse cx="151" cy="555.6" rx="7.5" ry="2.6" fill="#c8ffff" transform="rotate(-10 151 555.6)" fill-opacity="0.95" filter="url(#b08)"/><ellipse cx="141.5" cy="557.6" rx="6" ry="2.2" fill="#ffffff" transform="rotate(-14 141.5 557.6)" filter="url(#b08)"/><path d="M106 531C105.2 532.5 102.6 537.2 101.5 540C100.4 542.8 99.8 545.2 99.5 548C99.2 550.8 99.4 554 99.8 557C100.2 560 101 563.2 102 566C103 568.8 104.2 571.7 105.5 574C106.8 576.3 107.6 578 109.5 580C111.4 582 114.2 584.3 117 586C119.8 587.7 123 588.9 126 590C129 591.1 131.5 591.8 135 592.5C138.5 593.2 142.8 594.1 147 594C151.2 593.9 157.8 592.3 160 592" fill="none" stroke="#ffff80" stroke-width="6.0" stroke-linecap="round" stroke-opacity="0.8" filter="url(#b12)"/><path d="M104.5 533C103.9 534.2 101.7 538 100.8 540.5C99.9 543 99.4 545.2 99.2 548C99 550.8 99.1 554 99.6 557C100.1 560 101 563.1 102 566C103 568.9 104.2 572 105.5 574.5C106.8 577 108 578.9 110 581C112 583.1 114.8 585.3 117.5 587C120.2 588.7 123.1 590 126 591C128.9 592 131.7 592.7 135 593.3C138.3 593.9 144.2 594.3 146 594.5" fill="none" stroke="#ffffff" stroke-width="3.4" stroke-linecap="round" stroke-opacity="0.7" filter="url(#b12)"/></g></g>
<g clip-path="url(#cf)"><g filter="url(#b12)"><rect x="339.1" y="511.7" width="139.4" height="124.4" fill="#300000"/><path d="M478.3 561L478.6 567.2L478.4 573.5L478 580L477.2 586.5L475.3 593L473 599.4L469.8 605.6L465.3 610.8L459.1 614.2L452.4 616.3L445.8 617.6L439.3 618.6L432.9 618.5L426.7 617.3L421 616.4L415.5 615.7L410.2 615.1L404.7 615.2L398.9 615.9L392.7 616L386.6 615L380.5 613.3L374.5 610.9L368.7 607.8L363.2 603.9L358.1 599.3L353.7 594L349.9 588.2L347.1 581.8L345.9 574.8L345.8 567.9L346.1 561L346.7 554.2L347.7 547.5L349.3 540.9L351.4 534.5L354.1 528.2L357.4 522.2L361.4 516.6L365.9 511.4L371 506.8L376.8 503L383 500.1L389.3 497.8L395.8 496L402.3 494.9L408.9 494.3L415.5 494L422.1 494L428.7 494.4L435.4 495.5L441.7 497.7L447.8 500.7L453.3 504.4L458.2 509L462.4 514.1L466.1 519.5L469.2 525.1L471.6 531L473.7 536.9L475.5 542.8L476.8 548.8L477.6 554.9Z" fill="#380000"/><path d="M476.8 561L477.1 567.1L476.9 573.2L476.7 579.6L475.9 586L474.1 592.3L471.7 598.5L468.4 604.4L463.8 609.3L457.6 612.3L451.1 614.2L444.6 615.4L438.4 616.3L432.3 616.3L426.3 615.4L420.8 614.6L415.5 614L410.3 613.5L405 613.6L399.4 614.2L393.5 614.2L387.6 613.2L381.7 611.6L376 609.2L370.4 606.1L365.1 602.4L360.3 597.9L356.1 592.7L352.6 587.1L349.9 580.9L348.7 574.3L348.4 567.6L348.7 561L349.3 554.5L350.2 548L351.7 541.6L353.6 535.4L356.2 529.3L359.3 523.4L363.1 518L367.4 512.9L372.3 508.4L377.9 504.7L383.9 501.9L390.1 499.6L396.4 497.9L402.7 496.7L409.1 496.1L415.5 495.9L421.9 495.8L428.4 496.1L434.8 497.2L441.1 499.3L447 502.1L452.4 505.8L457.2 510.2L461.3 515.2L464.8 520.5L467.8 526.1L470.2 531.8L472.2 537.5L473.9 543.3L475.2 549.1L476.1 555Z" fill="#440000"/><path d="M475.2 561L475.5 566.9L475.5 572.9L475.3 579.2L474.6 585.5L472.8 591.6L470.4 597.7L467 603.3L462.2 607.7L456.1 610.5L449.7 612.2L443.4 613.2L437.5 614.1L431.6 614.2L425.9 613.5L420.6 612.8L415.5 612.3L410.5 611.9L405.4 612L399.9 612.5L394.2 612.5L388.5 611.5L382.9 609.8L377.4 607.5L372.1 604.4L367.1 600.8L362.6 596.4L358.6 591.4L355.2 586L352.7 580.1L351.5 573.7L351.1 567.3L351.3 561L351.8 554.7L352.6 548.5L354 542.3L355.9 536.3L358.2 530.4L361.2 524.7L364.8 519.4L369 514.5L373.7 510.1L379.1 506.5L384.8 503.7L390.8 501.5L396.9 499.8L403.1 498.6L409.3 498L415.5 497.7L421.7 497.6L428.1 497.9L434.3 498.9L440.4 500.8L446.2 503.6L451.5 507.1L456.1 511.5L460.2 516.3L463.6 521.5L466.4 527L468.7 532.6L470.6 538.2L472.3 543.8L473.6 549.4L474.5 555.2Z" fill="#4f0000"/><path d="M473.7 561L474 566.8L474 572.6L474 578.7L473.3 584.9L471.6 591L469.1 596.8L465.7 602.2L460.7 606.2L454.7 608.7L448.3 610.1L442.2 611L436.6 611.8L431 612.1L425.6 611.6L420.4 611.1L415.5 610.6L410.6 610.3L405.7 610.4L400.4 610.8L394.9 610.7L389.5 609.7L384.1 608L378.8 605.7L373.7 602.8L369 599.2L364.8 594.9L361 590.1L357.8 584.9L355.5 579.2L354.3 573.2L353.8 567.1L353.9 561L354.3 555L355.1 549L356.4 543.1L358.1 537.2L360.3 531.5L363.1 526L366.5 520.8L370.5 516L375.1 511.7L380.2 508.2L385.8 505.4L391.6 503.3L397.5 501.6L403.5 500.5L409.5 499.9L415.5 499.6L421.6 499.4L427.7 499.6L433.8 500.6L439.8 502.4L445.4 505L450.6 508.5L455.1 512.7L459 517.5L462.3 522.6L465.1 527.9L467.3 533.3L469.1 538.8L470.7 544.3L472 549.8L473 555.3Z" fill="#5b0000"/><path d="M472.1 561L472.4 566.6L472.6 572.3L472.7 578.3L472 584.4L470.3 590.3L467.9 596L464.3 601L459.2 604.7L453.2 606.9L446.9 608.1L441.1 608.8L435.6 609.6L430.3 609.9L425.2 609.6L420.3 609.3L415.5 609L410.8 608.7L406 608.8L400.9 609.2L395.6 608.9L390.4 607.9L385.2 606.3L380.2 604L375.4 601.1L371 597.6L367 593.4L363.5 588.8L360.5 583.8L358.3 578.4L357 572.6L356.5 566.8L356.5 561L356.9 555.2L357.6 549.5L358.7 543.8L360.3 538.1L362.4 532.6L365 527.3L368.2 522.2L372.1 517.6L376.4 513.4L381.4 509.9L386.7 507.2L392.4 505.1L398.1 503.5L403.8 502.3L409.7 501.8L415.5 501.5L421.4 501.2L427.4 501.3L433.3 502.2L439.1 504L444.6 506.5L449.7 509.9L454.1 514L457.9 518.6L461.1 523.6L463.7 528.8L465.8 534.1L467.5 539.5L469.1 544.8L470.4 550.1L471.4 555.5Z" fill="#670000"/><path d="M470.5 561L470.9 566.5L471.1 572.1L471.3 577.9L470.7 583.9L469.1 589.6L466.6 595.1L462.9 599.9L457.7 603.2L451.7 605.1L445.6 606L439.9 606.6L434.7 607.3L429.7 607.8L424.8 607.7L420.1 607.5L415.5 607.3L411 607.1L406.3 607.2L401.4 607.5L396.4 607.2L391.4 606.1L386.4 604.5L381.6 602.3L377.1 599.4L372.9 596L369.2 591.9L365.9 587.5L363.1 582.7L361 577.5L359.8 572.1L359.2 566.5L359.2 561L359.4 555.5L360 550L361.1 544.5L362.5 539.1L364.4 533.7L366.9 528.5L370 523.6L373.6 519.1L377.8 515.1L382.5 511.6L387.7 509L393.1 506.9L398.6 505.3L404.2 504.2L409.9 503.7L415.5 503.3L421.2 503L427 503L432.8 503.9L438.5 505.5L443.9 507.9L448.8 511.2L453.1 515.2L456.8 519.7L459.8 524.6L462.3 529.7L464.3 534.9L466 540.1L467.4 545.2L468.8 550.4L469.9 555.6Z" fill="#730000"/><path d="M469 561L469.3 566.3L469.7 571.8L470 577.5L469.4 583.3L467.8 589L465.3 594.3L461.5 598.8L456.2 601.7L450.2 603.3L444.2 604L438.7 604.4L433.8 605.1L429 605.7L424.4 605.8L419.9 605.7L415.5 605.6L411.1 605.5L406.6 605.6L401.9 605.8L397.1 605.4L392.3 604.4L387.6 602.8L383 600.5L378.8 597.7L374.9 594.4L371.4 590.4L368.4 586.2L365.7 581.6L363.8 576.7L362.6 571.5L361.9 566.3L361.8 561L361.9 555.7L362.5 550.4L363.5 545.2L364.7 540L366.5 534.8L368.8 529.8L371.7 525L375.2 520.7L379.2 516.7L383.7 513.4L388.6 510.7L393.9 508.8L399.2 507.2L404.6 506.1L410 505.5L415.5 505.2L421 504.8L426.7 504.8L432.3 505.6L437.8 507.1L443.1 509.4L447.8 512.6L452.1 516.4L455.7 520.8L458.6 525.6L461 530.6L462.9 535.7L464.4 540.7L465.8 545.7L467.2 550.7L468.3 555.8Z" fill="#7e0000"/><path d="M467.2 561L467.6 566.1L468 571.4L468.6 577.1L468 582.7L466.4 588.2L463.9 593.3L460.1 597.6L454.7 600.2L448.8 601.6L443 602.1L437.7 602.5L433 603.2L428.5 603.8L424.1 604L419.7 604L415.5 603.9L411.3 603.8L407 603.9L402.5 604L397.9 603.6L393.3 602.6L388.8 601L384.5 598.8L380.5 596L377 592.6L374 588.8L371.2 584.7L368.8 580.3L367.1 575.7L365.9 570.9L365.2 566L364.9 561L365 556L365.4 551L366.2 546.1L367.4 541.1L368.9 536.1L371.1 531.3L373.8 526.7L377 522.5L380.8 518.8L385.1 515.5L389.8 512.9L394.8 511L399.9 509.5L405 508.4L410.3 508L415.5 507.6L420.8 507.1L426.2 507.1L431.6 507.8L436.9 509.2L442 511.4L446.6 514.5L450.6 518.2L454.1 522.4L456.8 527.1L459.1 531.9L460.9 536.7L462.4 541.6L463.8 546.3L465.3 551.1L466.5 556Z" fill="#a10000"/><path d="M465 561L465.5 565.9L466.1 571.1L467 576.6L466.5 582.1L464.8 587.4L462.2 592.2L458.4 596.2L453.4 598.9L447.7 600.2L442 600.7L436.9 601L432.4 601.7L428 602.3L423.7 602.4L419.6 602.2L415.5 601.9L411.5 601.8L407.4 601.9L403.1 602L398.7 601.6L394.3 600.7L389.9 599.3L385.9 597.1L382.5 594L379.6 590.5L377 586.7L374.7 582.8L372.7 578.7L371.3 574.4L370.2 570L369.4 565.5L369.1 561L368.9 556.4L369.1 551.8L369.8 547.1L370.8 542.5L372.1 537.8L374 533.3L376.5 529L379.5 525L383 521.4L387 518.4L391.4 515.9L396.1 514.1L400.9 512.7L405.7 511.7L410.6 511.4L415.5 511L420.5 510.5L425.6 510.4L430.6 511.1L435.6 512.4L440.3 514.5L444.6 517.4L448.4 520.9L451.7 524.8L454.2 529.2L456.4 533.7L458.2 538.2L459.7 542.7L461.1 547.2L462.8 551.6L464.1 556.2Z" fill="#c70000"/><path d="M462.9 561L463.5 565.7L464.2 570.7L465.4 576.1L465 581.5L463.2 586.5L460.6 591.1L456.8 594.9L452 597.5L446.5 598.8L441 599.2L436.1 599.6L431.8 600.3L427.6 600.9L423.4 600.8L419.4 600.4L415.5 600L411.7 599.8L407.8 599.9L403.7 600L399.5 599.6L395.3 598.9L391.1 597.5L387.3 595.3L384.4 592.1L382.1 588.4L380 584.7L378.2 580.9L376.6 577.1L375.4 573.2L374.5 569.2L373.7 565.1L373.2 561L372.9 556.8L372.9 552.5L373.4 548.2L374.2 543.9L375.3 539.5L376.9 535.2L379.2 531.2L382 527.5L385.2 524.1L388.9 521.2L393 518.9L397.4 517.2L401.8 515.9L406.4 515L411 514.8L415.5 514.5L420.1 513.9L424.9 513.8L429.6 514.4L434.3 515.6L438.7 517.6L442.7 520.3L446.2 523.5L449.2 527.3L451.6 531.3L453.7 535.5L455.4 539.7L456.9 543.9L458.4 548L460.3 552.1L461.8 556.4Z" fill="#ed0000"/><path d="M460.7 561L461.5 565.5L462.3 570.3L463.8 575.6L463.5 580.9L461.6 585.7L458.9 590L455.3 593.6L450.7 596.2L445.4 597.4L440 597.7L435.4 598.2L431.2 598.9L427.2 599.4L423.1 599.3L419.2 598.7L415.5 598.1L411.9 597.9L408.1 598L404.3 598L400.3 597.7L396.2 597.1L392.3 595.8L388.7 593.6L386.3 590.2L384.6 586.4L383 582.7L381.6 579.1L380.5 575.5L379.5 571.9L378.6 568.3L377.8 564.7L377.2 561L376.7 557.2L376.5 553.3L376.8 549.3L377.5 545.3L378.4 541.1L379.7 537.1L381.8 533.3L384.4 529.9L387.4 526.7L390.8 524L394.5 521.8L398.6 520.2L402.8 519L407 518.3L411.3 518.1L415.5 517.8L419.8 517.2L424.2 517.1L428.7 517.6L433 518.8L437.1 520.6L440.8 523.2L444.1 526.2L446.9 529.6L449.1 533.4L451 537.3L452.7 541.1L454.2 545L455.8 548.8L457.8 552.6L459.6 556.7Z" fill="#ff1500"/><path d="M459.7 561L460.4 565.4L461.2 570.1L462.7 575.3L462.6 580.5L460.7 585.2L458 589.4L454.3 592.9L449.8 595.3L444.6 596.5L439.5 596.9L434.9 597.4L430.9 598.1L426.9 598.5L422.9 598.3L419.1 597.7L415.5 597.1L412 596.8L408.4 596.9L404.5 597.1L400.7 596.8L396.7 596.1L392.8 594.9L389.3 592.9L386.7 589.8L385.1 585.9L383.8 582.2L382.7 578.5L381.9 574.9L381.1 571.4L380.3 568L379.5 564.5L378.8 561L378.1 557.3L377.7 553.5L377.7 549.5L378.4 545.6L379.2 541.6L380.6 537.7L382.6 534L385.1 530.6L388.1 527.6L391.4 525L395.1 522.9L399.1 521.3L403.1 520.2L407.2 519.5L411.4 519.3L415.5 519L419.7 518.4L424 518.3L428.3 518.8L432.5 520L436.4 521.8L440 524.3L443.2 527.2L445.9 530.6L448 534.4L449.8 538.1L451.3 541.9L452.8 545.6L454.4 549.2L456.6 552.8L458.5 556.8Z" fill="#ff3b00"/><path d="M458.6 561L459.3 565.3L460.1 569.9L461.7 575L461.8 580.2L459.8 584.7L457 588.7L453.4 592.1L449 594.5L443.9 595.6L438.9 596L434.5 596.5L430.5 597.3L426.6 597.6L422.7 597.3L419 596.6L415.5 596L412.1 595.7L408.6 595.9L404.8 596.2L401 595.9L397.2 595.2L393.4 594L389.9 592.2L387.1 589.4L385.7 585.5L384.6 581.6L383.8 577.9L383.3 574.4L382.7 570.9L382 567.7L381.2 564.4L380.3 561L379.5 557.5L378.9 553.7L378.6 549.8L379.2 546L380.1 542.1L381.4 538.2L383.4 534.7L385.8 531.3L388.8 528.4L392.1 525.9L395.7 523.9L399.5 522.5L403.5 521.4L407.5 520.7L411.5 520.6L415.5 520.2L419.6 519.6L423.8 519.5L427.9 520.1L432 521.2L435.8 523L439.3 525.5L442.3 528.3L444.9 531.6L446.8 535.3L448.5 538.9L450 542.6L451.3 546.2L453.1 549.6L455.4 553.1L457.4 556.9Z" fill="#ff6200"/><path d="M457.5 561L458.3 565.2L459 569.6L460.7 574.7L461 579.8L458.9 584.2L456 588.1L452.5 591.4L448.2 593.7L443.2 594.7L438.3 595.1L434.1 595.7L430.2 596.4L426.3 596.8L422.5 596.4L418.9 595.6L415.5 594.9L412.2 594.7L408.8 594.9L405.1 595.3L401.4 595L397.7 594.3L394 593.2L390.4 591.5L387.6 588.9L386.2 585L385.4 581.1L384.9 577.3L384.7 573.8L384.3 570.5L383.7 567.3L382.9 564.2L381.9 561L380.9 557.6L380.1 554L379.6 550.1L380 546.3L380.9 542.5L382.3 538.8L384.2 535.3L386.6 532.1L389.5 529.3L392.7 526.9L396.3 525L400 523.6L403.9 522.6L407.7 521.9L411.6 521.8L415.5 521.4L419.5 520.8L423.5 520.7L427.5 521.3L431.5 522.4L435.1 524.2L438.5 526.6L441.5 529.4L443.8 532.7L445.7 536.2L447.3 539.8L448.6 543.3L449.9 546.8L451.8 550L454.3 553.3L456.3 557Z" fill="#ff8800"/><path d="M456.2 561L457.1 565.1L457.7 569.4L459.3 574.3L459.6 579.3L457.6 583.5L454.7 587.2L451.2 590.3L447 592.5L442.3 593.6L437.6 594.1L433.5 594.7L429.7 595.3L426 595.6L422.3 595.2L418.8 594.4L415.5 593.5L412.3 593.1L409.1 593.3L405.6 593.5L402.2 593.2L398.7 592.4L395.3 591.2L392.1 589.5L389.4 587.1L388.1 583.5L387.2 579.9L386.7 576.4L386.4 573.1L386 569.9L385.4 567L384.5 564.1L383.5 561L382.5 557.8L381.6 554.3L381 550.5L381.4 546.9L382.2 543.2L383.5 539.6L385.3 536.2L387.6 533.1L390.4 530.4L393.5 528.1L397 526.3L400.6 525L404.3 524L408 523.4L411.8 523.3L415.5 522.9L419.3 522.3L423.2 522.2L427.1 522.8L430.9 523.9L434.4 525.6L437.7 527.8L440.5 530.6L442.7 533.8L444.3 537.3L445.8 540.7L447 544.1L448.4 547.4L450.3 550.4L452.9 553.6L454.9 557.1Z" fill="#ffae00"/><path d="M454.9 561L455.8 565L456.4 569.1L457.7 573.8L458 578.6L456.1 582.7L453.3 586.2L449.7 589.1L445.7 591.2L441.3 592.4L436.9 593.1L433 593.7L429.2 594.2L425.6 594.3L422.1 593.9L418.7 593L415.5 592L412.5 591.4L409.5 591.4L406.3 591.5L403.1 591L400 590.1L396.9 588.8L394.2 587L391.9 584.6L390.5 581.5L389.5 578.4L388.8 575.3L388.3 572.3L387.7 569.4L387 566.7L386.1 563.9L385.2 561L384.2 557.9L383.3 554.6L382.7 551L382.9 547.5L383.7 544L384.9 540.6L386.6 537.3L388.7 534.2L391.4 531.6L394.4 529.4L397.7 527.7L401.2 526.4L404.7 525.5L408.3 524.9L411.9 524.9L415.5 524.6L419.1 524L422.9 523.9L426.6 524.4L430.3 525.4L433.7 527L436.8 529.1L439.5 531.8L441.4 535.1L442.9 538.5L444.2 541.8L445.4 545L446.8 548L448.8 550.9L451.4 553.9L453.4 557.3Z" fill="#ffd500"/><path d="M453.5 561L454.5 564.8L455.1 568.9L456.1 573.3L456.4 578L454.6 581.9L451.8 585.3L448.3 587.9L444.4 589.9L440.2 591.2L436.2 592L432.4 592.6L428.7 593L425.2 593.1L421.8 592.7L418.5 591.6L415.5 590.4L412.7 589.7L409.8 589.5L406.9 589.4L404 588.7L401.2 587.8L398.6 586.4L396.2 584.5L394.3 582.2L392.9 579.6L391.7 576.9L390.8 574.2L390.1 571.5L389.4 568.9L388.6 566.3L387.7 563.7L386.8 561L385.9 558.1L385 554.9L384.3 551.5L384.5 548.1L385.2 544.8L386.3 541.5L387.8 538.3L389.9 535.4L392.4 532.8L395.3 530.7L398.5 529.1L401.8 527.9L405.2 527L408.6 526.5L412.1 526.5L415.5 526.3L419 525.7L422.6 525.5L426.1 526L429.6 526.9L432.9 528.4L436 530.3L438.5 533L440.2 536.3L441.5 539.6L442.7 542.8L443.8 545.9L445.2 548.7L447.3 551.4L449.9 554.2L451.9 557.4Z" fill="#fffb00"/><path d="M451.7 561L452.7 564.7L453.3 568.5L454.1 572.7L454.4 577.1L452.7 580.9L450.1 584.1L446.8 586.7L443.1 588.6L439.2 589.9L435.4 590.9L431.7 591.4L428.2 591.6L424.8 591.6L421.5 591.2L418.4 590.1L415.5 588.8L412.9 587.9L410.2 587.6L407.5 587.3L404.9 586.6L402.4 585.5L400.1 584.1L398.1 582.2L396.4 580.1L394.9 577.9L393.7 575.6L392.8 573.2L392 570.7L391.2 568.4L390.4 566L389.6 563.6L388.8 561L387.9 558.3L387.1 555.3L386.4 552.2L386.5 549L387.1 545.8L388 542.6L389.4 539.6L391.3 536.8L393.6 534.3L396.3 532.3L399.3 530.8L402.5 529.6L405.7 528.8L409 528.3L412.3 528.4L415.5 528.2L418.8 527.6L422.2 527.5L425.5 527.9L428.9 528.7L432 530.1L434.9 532L437.2 534.6L438.8 537.7L440 540.9L441 543.9L442.2 546.7L443.6 549.4L445.7 551.8L448.2 554.5L450.1 557.6Z" fill="#c2fa00"/><path d="M449.3 561L450.3 564.4L450.8 568L451.4 571.9L451.6 575.9L450.3 579.6L448.2 582.8L445.3 585.4L441.9 587.4L438.3 588.7L434.5 589.5L430.9 589.9L427.5 589.9L424.2 589.8L421.2 589.5L418.2 588.4L415.5 587L413 586L410.6 585.6L408.2 585.2L405.8 584.4L403.5 583.4L401.4 582.1L399.5 580.4L398 578.5L396.6 576.5L395.4 574.4L394.6 572.2L393.9 570L393.2 567.8L392.5 565.6L391.8 563.3L391.1 561L390.4 558.5L389.7 555.9L389.2 553L389.1 550.1L389.5 547.1L390.3 544.2L391.5 541.3L393.2 538.7L395.3 536.3L397.7 534.4L400.4 532.8L403.3 531.6L406.4 530.9L409.4 530.6L412.5 530.7L415.5 530.4L418.6 530L421.7 529.9L424.8 530.3L427.9 531.1L430.8 532.4L433.4 534.3L435.5 536.7L437 539.5L438.2 542.4L439.3 545.1L440.5 547.6L442 550L443.9 552.4L446 554.9L447.8 557.8Z" fill="#7ff400"/><path d="M446.9 561L447.8 564.2L448.3 567.5L448.7 571.1L448.8 574.8L447.8 578.3L446.2 581.5L443.7 584.2L440.7 586.2L437.3 587.5L433.7 588.2L430.1 588.3L426.7 588.1L423.7 588.1L420.8 587.7L418 586.6L415.5 585.2L413.2 584.2L411 583.6L408.8 583L406.7 582.2L404.7 581.3L402.8 580.1L401 578.6L399.5 577L398.2 575.2L397.2 573.2L396.4 571.2L395.7 569.2L395.1 567.2L394.6 565.2L394 563.1L393.5 561L393 558.8L392.4 556.4L391.9 553.9L391.8 551.2L392 548.4L392.6 545.7L393.7 543.1L395.1 540.6L396.9 538.3L399.1 536.5L401.6 534.9L404.2 533.7L407 533L409.9 532.8L412.7 532.9L415.5 532.7L418.3 532.3L421.2 532.3L424.1 532.7L426.9 533.4L429.5 534.7L431.8 536.5L433.8 538.7L435.3 541.2L436.5 543.8L437.6 546.2L438.9 548.5L440.3 550.7L442.1 552.9L443.9 555.3L445.5 558Z" fill="#05eb59"/><path d="M444.4 561L445.3 563.9L445.7 567L445.9 570.2L445.9 573.6L445.3 577L444.2 580.2L442.2 582.9L439.5 585L436.3 586.3L432.8 586.9L429.3 586.9L426 586.5L423.2 586.4L420.5 586L417.9 584.9L415.5 583.5L413.4 582.4L411.4 581.6L409.5 580.9L407.6 580.2L405.7 579.3L404 578.2L402.4 576.9L401 575.5L399.8 573.9L398.9 572.1L398.1 570.3L397.5 568.4L397 566.6L396.6 564.8L396.2 562.9L395.8 561L395.4 559L395 556.9L394.6 554.7L394.4 552.3L394.4 549.7L394.9 547.2L395.7 544.8L396.9 542.4L398.5 540.3L400.5 538.5L402.6 536.9L405 535.7L407.6 535L410.3 535L413 535.1L415.5 535L418.1 534.6L420.7 534.7L423.4 535L426 535.7L428.3 537L430.3 538.8L432.1 540.8L433.6 542.9L434.7 545.2L435.8 547.4L437.2 549.4L438.7 551.4L440.3 553.5L441.8 555.8L443.2 558.3Z" fill="#00f089"/><path d="M441.5 561L442.2 563.6L442.6 566.4L442.7 569.3L442.7 572.3L442.3 575.3L441.5 578.4L440 581.1L437.8 583.3L435.1 584.9L432.1 585.9L428.9 586.1L425.8 585.8L422.9 585.4L420.2 584.7L417.7 583.5L415.5 582.2L413.5 581.1L411.6 580.4L409.8 579.8L408 579.2L406.2 578.4L404.6 577.4L403.1 576.2L401.7 574.8L400.6 573.2L399.8 571.5L399.2 569.7L398.7 567.9L398.3 566.2L398 564.5L397.7 562.8L397.4 561L397.1 559.2L396.8 557.3L396.5 555.2L396.4 553.1L396.4 550.8L396.8 548.5L397.5 546.2L398.5 544L399.9 542L401.6 540.3L403.6 538.8L405.8 537.6L408.2 536.9L410.7 536.7L413.1 536.7L415.5 536.6L417.9 536.4L420.4 536.5L422.8 536.9L425.2 537.7L427.3 539L429.1 540.7L430.6 542.6L431.9 544.6L433 546.6L434.1 548.6L435.3 550.4L436.6 552.2L438 554.2L439.3 556.3L440.5 558.5Z" fill="#00f6b4"/><path d="M438.6 561L439.2 563.3L439.5 565.8L439.5 568.3L439.5 570.9L439.3 573.7L438.8 576.6L437.7 579.3L436.1 581.6L434 583.5L431.4 584.9L428.5 585.4L425.5 585.2L422.6 584.4L420 583.4L417.6 582.1L415.5 580.8L413.6 579.8L411.9 579.1L410.1 578.7L408.4 578.2L406.7 577.5L405.1 576.6L403.7 575.4L402.4 574.1L401.5 572.5L400.8 570.8L400.3 569.1L399.9 567.4L399.6 565.8L399.4 564.2L399.1 562.6L398.9 561L398.7 559.3L398.6 557.6L398.4 555.8L398.4 553.9L398.4 551.9L398.7 549.8L399.2 547.6L400.1 545.6L401.3 543.7L402.8 542L404.6 540.6L406.6 539.4L408.7 538.7L411 538.4L413.3 538.3L415.5 538.2L417.8 538.1L420 538.3L422.2 538.8L424.3 539.7L426.2 540.9L427.8 542.6L429.1 544.4L430.3 546.2L431.4 548L432.4 549.7L433.5 551.4L434.6 553.1L435.7 554.9L436.8 556.8L437.8 558.8Z" fill="#00fbdf"/><path d="M435.7 561L436.2 563L436.4 565.1L436.3 567.3L436.3 569.6L436.2 572.1L436.1 574.8L435.5 577.4L434.4 579.9L432.9 582.2L430.8 583.9L428.1 584.6L425.2 584.5L422.3 583.4L419.7 582.1L417.4 580.7L415.5 579.5L413.8 578.5L412.1 577.9L410.5 577.5L408.8 577.2L407.2 576.6L405.6 575.8L404.3 574.7L403.1 573.4L402.3 571.8L401.8 570.2L401.4 568.5L401.2 566.9L400.9 565.4L400.8 563.9L400.6 562.5L400.5 561L400.4 559.5L400.3 558L400.3 556.4L400.4 554.7L400.5 553L400.7 551.1L401 549.1L401.6 547.1L402.7 545.4L404 543.8L405.6 542.4L407.3 541.2L409.3 540.5L411.3 540.1L413.4 539.9L415.5 539.8L417.6 539.8L419.7 540.1L421.7 540.7L423.5 541.6L425.2 542.9L426.5 544.5L427.7 546.2L428.7 547.8L429.7 549.3L430.7 550.9L431.6 552.4L432.5 553.9L433.4 555.6L434.3 557.3L435.1 559.1Z" fill="#00f5ff"/><path d="M433.6 561L433.9 562.8L434 564.7L433.8 566.6L433.7 568.5L433.7 570.7L433.6 573.1L433.2 575.5L432.3 577.8L431.1 580L429.4 581.9L427.2 582.9L424.6 583L421.9 582.1L419.5 581L417.3 579.7L415.5 578.5L413.9 577.6L412.3 577L410.8 576.6L409.2 576.3L407.6 575.8L406.2 575L404.9 573.9L403.9 572.6L403.1 571.2L402.7 569.6L402.4 568L402.2 566.5L402 565.1L401.9 563.7L401.8 562.4L401.7 561L401.6 559.6L401.6 558.2L401.6 556.8L401.7 555.3L401.8 553.7L402 552L402.3 550.1L402.8 548.3L403.8 546.7L404.9 545.1L406.3 543.8L407.9 542.6L409.7 541.8L411.6 541.3L413.5 541.1L415.5 541L417.5 541.1L419.4 541.4L421.3 542L423 542.9L424.5 544.1L425.8 545.6L426.8 547.2L427.7 548.8L428.6 550.2L429.5 551.6L430.3 553.1L431.1 554.5L431.8 556L432.5 557.6L433.1 559.3Z" fill="#00cfff"/><path d="M431.8 561L431.9 562.6L431.8 564.2L431.6 565.9L431.4 567.6L431.3 569.4L431.1 571.4L430.8 573.5L430.1 575.6L429.2 577.6L427.9 579.6L426.1 580.8L423.9 581.2L421.5 580.8L419.3 580L417.3 578.8L415.5 577.6L414 576.7L412.5 576.2L411 575.8L409.5 575.5L408 575L406.7 574.2L405.5 573.1L404.6 571.9L404 570.5L403.6 569L403.3 567.5L403.1 566.1L403 564.8L402.9 563.5L402.8 562.3L402.7 561L402.7 559.7L402.7 558.5L402.7 557.1L402.8 555.8L403 554.3L403.2 552.8L403.4 551.1L403.9 549.4L404.7 547.9L405.7 546.4L406.9 545L408.4 543.8L410 542.9L411.8 542.4L413.6 542.2L415.5 542.2L417.3 542.2L419.2 542.6L420.9 543.1L422.6 543.9L424 545.1L425.2 546.5L426.1 548.1L427 549.5L427.7 550.9L428.5 552.3L429.2 553.7L429.9 555.1L430.4 556.5L431 557.9L431.5 559.4Z" fill="#00a8ff"/><path d="M429.9 561L429.8 562.4L429.6 563.8L429.3 565.2L429 566.6L428.8 568.1L428.7 569.8L428.4 571.5L427.8 573.3L427.2 575.3L426.4 577.2L425 578.7L423.1 579.4L421.1 579.4L419.1 578.9L417.2 577.9L415.5 576.8L414 575.9L412.7 575.3L411.3 575L409.8 574.7L408.5 574.2L407.2 573.4L406.2 572.4L405.3 571.2L404.8 569.8L404.5 568.4L404.2 567L404.1 565.7L404 564.5L403.9 563.3L403.8 562.1L403.8 561L403.8 559.8L403.8 558.7L403.9 557.5L404 556.2L404.1 554.9L404.3 553.5L404.6 552L405.1 550.6L405.7 549.1L406.5 547.6L407.6 546.2L408.8 544.9L410.4 544.1L412 543.6L413.8 543.3L415.5 543.3L417.2 543.4L418.9 543.7L420.6 544.2L422.1 545L423.5 546L424.6 547.4L425.4 548.9L426.2 550.3L426.9 551.7L427.5 553L428.1 554.3L428.6 555.6L429.1 556.9L429.5 558.2L429.8 559.6Z" fill="#0082ff"/><path d="M428 561L427.8 562.2L427.4 563.4L427 564.5L426.7 565.6L426.4 566.8L426.2 568.2L425.9 569.6L425.6 571.1L425.2 572.9L424.8 574.9L423.8 576.6L422.4 577.6L420.7 578L418.9 577.9L417.1 577L415.5 575.9L414.1 575.1L412.8 574.5L411.5 574.2L410.2 573.9L408.9 573.4L407.8 572.6L406.8 571.6L406.1 570.4L405.6 569.1L405.3 567.8L405.2 566.5L405 565.3L405 564.2L404.9 563.1L404.9 562L404.9 561L404.9 560L404.9 558.9L405 557.8L405.1 556.7L405.3 555.5L405.5 554.3L405.8 553L406.2 551.7L406.7 550.3L407.4 548.8L408.2 547.4L409.3 546.1L410.7 545.2L412.3 544.7L413.9 544.4L415.5 544.4L417.1 544.6L418.7 544.9L420.2 545.4L421.7 546L423 547L424 548.3L424.8 549.7L425.4 551.1L426 552.4L426.5 553.7L426.9 554.9L427.4 556.1L427.7 557.3L428 558.5L428.1 559.8Z" fill="#005bff"/><path d="M426.3 561L425.9 562L425.4 563L424.9 563.8L424.5 564.7L424.2 565.6L423.9 566.6L423.7 567.7L423.5 569L423.4 570.6L423.3 572.7L422.8 574.6L421.6 575.8L420.2 576.6L418.6 576.8L417 576L415.5 575L414.2 574.2L413 573.6L411.8 573.3L410.5 573L409.3 572.5L408.3 571.8L407.5 570.8L406.9 569.6L406.5 568.4L406.2 567.2L406.1 566L406 564.9L405.9 563.9L405.9 562.9L405.9 561.9L405.9 561L405.9 560.1L406 559.1L406.1 558.1L406.2 557.2L406.4 556.1L406.6 555.1L406.9 553.9L407.2 552.7L407.6 551.4L408.2 550L408.9 548.6L409.8 547.3L411.1 546.4L412.5 545.8L414 545.5L415.5 545.5L417 545.7L418.5 546.1L419.9 546.5L421.3 547.1L422.5 548L423.4 549.2L424.1 550.5L424.6 551.9L425.1 553.1L425.5 554.3L425.8 555.5L426.1 556.6L426.4 557.7L426.5 558.8L426.5 559.9Z" fill="#0035ff"/><path d="M425.2 561L424.8 561.9L424.4 562.8L423.9 563.6L423.6 564.3L423.3 565.2L423.1 566.1L422.9 567L422.7 568.2L422.6 569.7L422.6 571.6L422 573.2L421 574.3L419.8 575L418.3 575.2L416.8 574.5L415.5 573.6L414.3 572.8L413.2 572.3L412.2 572L411 571.8L410 571.4L409 570.7L408.3 569.8L407.7 568.8L407.4 567.7L407.2 566.6L407 565.5L407 564.5L406.9 563.6L406.9 562.7L406.9 561.8L406.9 561L406.9 560.2L407 559.3L407 558.4L407.2 557.5L407.3 556.6L407.5 555.7L407.8 554.6L408.1 553.6L408.4 552.4L408.9 551.2L409.6 549.9L410.4 548.7L411.5 547.9L412.8 547.4L414.1 547.1L415.5 547.1L416.8 547.3L418.2 547.6L419.5 548L420.7 548.5L421.8 549.3L422.6 550.4L423.2 551.6L423.7 552.8L424.1 553.9L424.5 555L424.8 556L425 557L425.2 558L425.4 559L425.4 560Z" fill="#000fff"/><path d="M424.1 561L423.8 561.8L423.4 562.6L423 563.3L422.7 564L422.4 564.7L422.2 565.5L422 566.4L421.9 567.4L421.8 568.7L421.8 570.4L421.3 571.8L420.4 572.8L419.3 573.4L418 573.6L416.7 573L415.5 572.2L414.5 571.5L413.5 571.1L412.5 570.8L411.5 570.6L410.6 570.2L409.8 569.6L409.1 568.8L408.6 567.9L408.3 566.9L408.1 565.9L408 565L407.9 564.1L407.9 563.3L407.9 562.5L407.9 561.8L407.9 561L407.9 560.3L407.9 559.5L408 558.7L408.1 557.9L408.2 557.1L408.4 556.3L408.6 555.4L408.9 554.4L409.2 553.4L409.7 552.3L410.2 551.1L411 550.1L412 549.4L413.1 548.9L414.3 548.7L415.5 548.7L416.7 548.8L417.9 549.1L419 549.4L420.1 549.9L421 550.6L421.8 551.6L422.3 552.7L422.8 553.7L423.1 554.7L423.4 555.7L423.7 556.6L424 557.5L424.1 558.4L424.3 559.3L424.3 560.1Z" fill="#0000ea"/><path d="M423 561L422.7 561.7L422.4 562.4L422 563L421.8 563.6L421.5 564.2L421.4 564.9L421.2 565.7L421.1 566.6L421 567.7L421 569.2L420.6 570.5L419.8 571.3L418.8 571.9L417.7 572L416.5 571.4L415.5 570.7L414.6 570.2L413.8 569.8L412.9 569.5L412 569.3L411.2 569L410.5 568.5L409.9 567.8L409.5 567L409.2 566.2L409.1 565.3L409 564.5L408.9 563.7L408.9 563L408.8 562.3L408.8 561.7L408.8 561L408.9 560.3L408.9 559.7L409 559L409 558.3L409.2 557.6L409.3 556.9L409.5 556.1L409.7 555.2L410 554.3L410.4 553.4L410.9 552.4L411.6 551.5L412.4 550.8L413.4 550.4L414.4 550.2L415.5 550.2L416.5 550.4L417.6 550.6L418.6 550.9L419.5 551.3L420.3 551.9L421 552.8L421.5 553.7L421.8 554.7L422.2 555.5L422.4 556.4L422.7 557.2L422.9 557.9L423 558.7L423.1 559.5L423.1 560.2Z" fill="#0000c7"/><path d="M421.7 561L421.4 561.6L421.1 562.1L420.9 562.6L420.6 563.1L420.5 563.7L420.3 564.2L420.2 564.8L420.1 565.6L420 566.5L420 567.7L419.6 568.8L419 569.5L418.2 569.9L417.3 570L416.3 569.6L415.5 569L414.8 568.5L414.1 568.2L413.4 568L412.7 567.8L412 567.6L411.4 567.1L410.9 566.6L410.6 565.9L410.3 565.2L410.2 564.5L410.1 563.9L410.1 563.2L410 562.7L410 562.1L410 561.5L410 561L410 560.5L410.1 559.9L410.1 559.4L410.2 558.8L410.3 558.2L410.4 557.6L410.6 557L410.8 556.3L411 555.5L411.3 554.7L411.7 553.9L412.3 553.2L413 552.7L413.8 552.3L414.6 552.2L415.5 552.2L416.4 552.3L417.2 552.5L418 552.7L418.8 553.1L419.5 553.6L420 554.3L420.4 555L420.7 555.8L421 556.5L421.2 557.2L421.4 557.8L421.6 558.5L421.7 559.1L421.8 559.8L421.8 560.4Z" fill="#0000a4"/><path d="M418.6 561L418.5 561.3L418.3 561.6L418.2 561.8L418.1 562.1L418 562.3L417.9 562.6L417.8 562.9L417.8 563.3L417.8 563.8L417.7 564.4L417.6 564.9L417.3 565.2L416.9 565.5L416.4 565.5L415.9 565.3L415.5 565L415.1 564.8L414.8 564.6L414.4 564.5L414.1 564.4L413.7 564.3L413.4 564.1L413.2 563.8L413 563.5L412.9 563.1L412.9 562.8L412.8 562.4L412.8 562.1L412.8 561.8L412.8 561.5L412.8 561.3L412.8 561L412.8 560.7L412.8 560.5L412.8 560.2L412.8 559.9L412.9 559.6L413 559.3L413 559L413.1 558.6L413.3 558.3L413.4 557.9L413.6 557.5L413.9 557.1L414.2 556.8L414.6 556.7L415.1 556.6L415.5 556.6L415.9 556.6L416.3 556.7L416.8 556.9L417.1 557L417.5 557.3L417.8 557.6L417.9 558L418.1 558.4L418.2 558.8L418.3 559.1L418.4 559.4L418.5 559.7L418.6 560.1L418.6 560.4L418.6 560.7Z" fill="#00008c"/><path d="M345 588.9C346.6 584.4 350.9 599.8 354.5 604.3C358 608.8 361.9 613 366.3 616.1C370.6 619.3 376.3 621.8 380.5 623.2C384.6 624.6 389.3 623 391.1 624.4C392.9 625.8 398.8 630.3 391.1 631.5C383.4 632.7 352.7 638.6 345 631.5C337.3 624.4 343.4 593.5 345 588.9Z" fill="#000000" fill-opacity="0.22" filter="url(#b3)"/><path d="M388.5 616C388.9 614.8 390 610.8 391.2 608.7C392.4 606.6 393.5 604.6 395.5 603.2C397.5 601.8 399.9 601.1 403 600.3C406.1 599.5 410.4 599.2 414.1 598.4C417.8 597.6 421.4 596.6 425 595.7C428.6 594.8 433.1 593.8 435.9 593C438.6 592.2 440.6 591.5 441.5 591.2" fill="none" stroke="#4a1000" stroke-width="2.0" stroke-linecap="round" stroke-opacity="0.85" filter="url(#b05)"/><path d="M386 628C384.6 628 387.3 626 387.7 624.1C388.1 622.2 388 619.2 388.6 616.8C389.2 614.4 390.2 611.6 391.4 609.5C392.6 607.4 393.9 605.5 395.9 604.1C397.9 602.8 400.2 602.2 403.2 601.4C406.2 600.6 410.5 600.3 414.1 599.5C417.7 598.7 421.4 597.7 425 596.8C428.6 595.9 433.1 594.9 435.9 594.1C438.7 593.3 441 591.5 442 592C443 592.5 443.2 595 442 597C440.8 599 438 601.5 435 604C432 606.5 428.2 609.7 424 612C419.8 614.3 414.7 616 410 618C405.3 620 400 622.3 396 624C392 625.7 387.4 628 386 628Z" fill="url(#gf)"/><path d="M386 630C383.8 629.3 389.3 622.6 392 620C394.7 617.4 398.2 616.2 402 614.5C405.8 612.8 410.7 611.4 415 609.5C419.3 607.6 424.2 605.2 428 603C431.8 600.8 435 596.8 438 596C441 595.2 447.3 595.3 446 598C444.7 600.7 436.8 607.7 430 612C423.2 616.3 412.3 621 405 624C397.7 627 388.2 630.7 386 630Z" fill="#009858" fill-opacity="0.5" filter="url(#b12)"/><path d="M357.5 569.5C357.2 568.5 358.2 565.7 359 564C359.8 562.3 361.2 560.8 362.5 559.5C363.8 558.2 365.7 556.5 367 556C368.3 555.5 370.2 555.7 370.5 556.5C370.8 557.3 369.5 559.5 368.5 561C367.5 562.5 365.8 564 364.5 565.5C363.2 567 361.7 569.3 360.5 570C359.3 570.7 357.8 570.5 357.5 569.5Z" fill="#687810" filter="url(#b05)"/><path d="M427.7 565.3C428.4 564.1 431.7 562.2 433.7 560.6C435.6 558.9 437.6 556.5 439.6 555.4C441.5 554.2 444.2 553.2 445.5 553.5C446.7 553.7 447.5 555.6 447.1 557C446.7 558.4 445 560.4 443.1 561.7C441.3 563.1 438.3 564.3 436 565.3C433.8 566.3 431 567.6 429.6 567.6C428.3 567.6 427.1 566.5 427.7 565.3Z" fill="#20f0ff" fill-opacity="0.95" filter="url(#b08)"/><ellipse cx="441.9" cy="558.2" rx="5.6" ry="3.8" fill="#ffffff" transform="rotate(-30 441.9 558.2)" filter="url(#b08)"/><path d="M386 540C385.8 541.3 384.6 545.2 384.5 548C384.4 550.8 384.9 553.7 385.5 557C386.1 560.3 387.1 564.5 388 568C388.9 571.5 389.7 574.9 391 578C392.3 581.1 393.8 584.3 396 586.5C398.2 588.7 401.1 590.1 404 591C406.9 591.9 410.3 591.4 413.6 592C416.9 592.6 420.3 594 424 594.5C427.7 595 432.3 595.8 436 595C439.7 594.2 444.3 590.8 446 590" fill="none" stroke="#ffff80" stroke-width="6.0" stroke-linecap="round" stroke-opacity="0.8" filter="url(#b12)"/><path d="M390 580C390.9 581.3 393.2 585.8 395.5 587.8C397.8 589.8 400.5 591 403.5 591.8C406.5 592.5 410.2 591.8 413.6 592.3C417 592.8 420.4 594.3 424 594.8C427.6 595.3 433.2 595.2 435 595.3" fill="none" stroke="#ffffff" stroke-width="3.6" stroke-linecap="round" stroke-opacity="0.75" filter="url(#b12)"/><path d="M385.5 540C385.2 541.3 384 545.3 383.8 548C383.6 550.7 384.4 554.7 384.5 556" fill="none" stroke="#ffffff" stroke-width="3.0" stroke-linecap="round" stroke-opacity="0.55" filter="url(#b12)"/><ellipse cx="413.6" cy="569.5" rx="0.7" ry="0.7" fill="#ffffff" fill-opacity="0.9"/></g></g>
</svg>
</body></html>
